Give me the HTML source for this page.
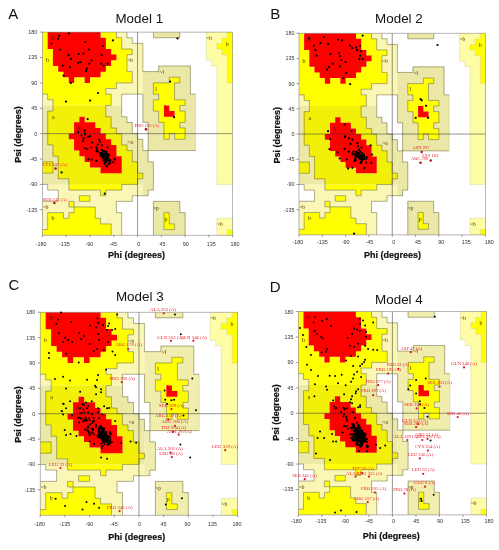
<!DOCTYPE html><html><head><meta charset="utf-8"><title>Ramachandran plots</title><style>html,body{margin:0;padding:0;background:#fff}svg{display:block}text{font-family:"Liberation Sans",sans-serif}.s text{font-family:"Liberation Serif",serif}</style></head><body>
<svg width="499" height="550" viewBox="0 0 499 550">
<rect width="499" height="550" fill="#fff"/>
<g>
<path d="M42.35 32.05H47.74V37.79H42.35ZM100.5 32.05H116.46V37.79H100.5ZM227.36 32.05H232.75V37.79H227.36ZM42.35 37.69H47.74V43.43H42.35ZM105.78 37.69H121.74V43.43H105.78ZM222.08 37.69H232.75V43.43H222.08ZM42.35 43.33H47.74V49.08H42.35ZM105.78 43.33H121.74V49.08H105.78ZM216.79 43.33H232.75V49.08H216.79ZM42.35 48.98H53.02V54.72H42.35ZM111.07 48.98H132.31V54.72H111.07ZM222.08 48.98H232.75V54.72H222.08ZM42.35 54.62H53.02V60.36H42.35ZM116.36 54.62H127.03V60.36H116.36ZM227.36 54.62H232.75V60.36H227.36ZM42.35 60.26H53.02V66H42.35ZM111.07 60.26H127.03V66H111.07ZM227.36 60.26H232.75V66H227.36ZM42.35 65.9H58.31V71.64H42.35ZM105.78 65.9H127.03V71.64H105.78ZM227.36 65.9H232.75V71.64H227.36ZM42.35 71.54H63.59V77.28H42.35ZM100.5 71.54H132.31V77.28H100.5ZM227.36 71.54H232.75V77.28H227.36ZM42.35 77.18H68.88V82.92H42.35ZM74.07 77.18H84.74V82.92H74.07ZM89.92 77.18H132.31V82.92H89.92ZM169.22 77.18H179.89V82.92H169.22ZM227.36 77.18H232.75V82.92H227.36ZM42.35 82.83H116.46V88.57H42.35ZM153.36 82.83H174.6V88.57H153.36ZM42.35 88.47H105.88V94.21H42.35ZM153.36 88.47H174.6V94.21H153.36ZM47.64 94.11H111.17V99.85H47.64ZM158.64 94.11H174.6V99.85H158.64ZM52.92 99.75H111.17V105.49H52.92ZM153.36 99.75H185.18V105.49H153.36ZM153.36 105.39H164.03V111.13H153.36ZM169.22 105.39H179.89V111.13H169.22ZM158.64 111.03H164.03V116.77H158.64ZM174.5 111.03H185.18V116.77H174.5ZM158.64 116.67H185.18V122.42H158.64ZM163.93 122.32H179.89V128.06H163.93ZM163.93 127.96H185.18V133.7H163.93ZM163.93 133.6H169.32V139.34H163.93ZM174.5 133.6H185.18V139.34H174.5ZM68.78 184.37H121.74V190.12H68.78ZM100.5 190.02H105.88V195.76H100.5ZM79.35 195.66H90.02V201.4H79.35ZM68.78 201.3H74.17V207.04H68.78ZM74.07 206.94H95.31V212.68H74.07ZM47.64 212.58H63.59V218.33H47.64ZM68.78 212.58H95.31V218.33H68.78ZM163.93 212.58H169.32V218.33H163.93ZM47.64 218.22H100.6V223.97H47.64ZM163.93 218.22H169.32V223.97H163.93ZM47.64 223.87H111.17V229.61H47.64ZM163.93 223.87H174.6V229.61H163.93ZM42.35 229.51H111.17V235.25H42.35ZM227.36 229.51H232.75V235.25H227.36Z" fill="#ffff00"/>
<path d="M116.36 32.05H127.03V37.79H116.36ZM121.64 37.69H132.31V43.43H121.64ZM121.64 43.33H142.89V49.08H121.64ZM132.21 48.98H142.89V54.72H132.21ZM126.93 54.62H142.89V60.36H126.93ZM126.93 60.26H142.89V66H126.93ZM126.93 65.9H142.89V71.64H126.93ZM132.21 71.54H142.89V77.28H132.21ZM132.21 77.18H142.89V82.92H132.21ZM116.36 82.83H142.89V88.57H116.36ZM105.78 88.47H142.89V94.21H105.78ZM42.35 94.11H47.74V99.85H42.35ZM111.07 94.11H121.74V99.85H111.07ZM42.35 99.75H53.02V105.49H42.35ZM111.07 99.75H121.74V105.49H111.07ZM47.64 184.37H68.88V190.12H47.64ZM121.64 184.37H142.89V190.12H121.64ZM58.21 190.02H100.6V195.76H58.21ZM105.78 190.02H142.89V195.76H105.78ZM58.21 195.66H79.45V201.4H58.21ZM89.92 195.66H132.31V201.4H89.92ZM42.35 201.3H68.88V207.04H42.35ZM74.07 201.3H116.46V207.04H74.07ZM42.35 206.94H74.17V212.68H42.35ZM95.21 206.94H116.46V212.68H95.21ZM42.35 212.58H47.74V218.33H42.35ZM63.49 212.58H68.88V218.33H63.49ZM95.21 212.58H121.74V218.33H95.21ZM42.35 218.22H47.74V223.97H42.35ZM100.5 218.22H121.74V223.97H100.5ZM42.35 223.87H47.74V229.61H42.35ZM111.07 223.87H121.74V229.61H111.07ZM111.07 229.51H121.74V235.25H111.07Z" fill="#faf7b6"/>
<path d="M153.36 32.05H179.89V37.79H153.36ZM158.64 65.9H190.46V71.64H158.64ZM142.79 71.54H190.46V77.28H142.79ZM142.79 77.18H169.32V82.92H142.79ZM179.79 77.18H190.46V82.92H179.79ZM142.79 82.83H153.46V88.57H142.79ZM174.5 82.83H190.46V88.57H174.5ZM142.79 88.47H153.46V94.21H142.79ZM174.5 88.47H190.46V94.21H174.5ZM142.79 94.11H158.74V99.85H142.79ZM174.5 94.11H195.75V99.85H174.5ZM142.79 99.75H153.46V105.49H142.79ZM185.07 99.75H195.75V105.49H185.07ZM142.79 105.39H153.46V111.13H142.79ZM179.79 105.39H195.75V111.13H179.79ZM142.79 111.03H158.74V116.77H142.79ZM185.07 111.03H195.75V116.77H185.07ZM142.79 116.67H158.74V122.42H142.79ZM185.07 116.67H195.75V122.42H185.07ZM148.07 122.32H164.03V128.06H148.07ZM179.79 122.32H195.75V128.06H179.79ZM148.07 127.96H164.03V133.7H148.07ZM185.07 127.96H195.75V133.7H185.07ZM148.07 133.6H164.03V139.34H148.07ZM169.22 133.6H174.6V139.34H169.22ZM185.07 133.6H195.75V139.34H185.07ZM148.07 139.24H195.75V144.98H148.07ZM148.07 144.88H195.75V150.62H148.07ZM142.79 150.52H148.17V156.27H142.79ZM142.79 156.17H148.17V161.91H142.79ZM142.79 161.81H153.46V167.55H142.79ZM142.79 167.45H153.46V173.19H142.79ZM142.79 173.09H153.46V178.83H142.79ZM142.79 178.73H153.46V184.47H142.79ZM142.79 184.37H153.46V190.12H142.79ZM142.79 190.02H148.17V195.76H142.79ZM153.36 201.3H179.89V207.04H153.36ZM153.36 206.94H179.89V212.68H153.36ZM153.36 212.58H164.03V218.33H153.36ZM169.22 212.58H185.18V218.33H169.22ZM153.36 218.22H164.03V223.97H153.36ZM169.22 218.22H185.18V223.97H169.22ZM153.36 223.87H164.03V229.61H153.36ZM174.5 223.87H185.18V229.61H174.5ZM153.36 229.51H185.18V235.25H153.36Z" fill="#ebe7a7"/>
<path d="M206.22 32.05H227.46V37.79H206.22ZM206.22 37.69H222.18V43.43H206.22ZM206.22 43.33H216.89V49.08H206.22ZM206.22 48.98H222.18V54.72H206.22ZM206.22 54.62H227.46V60.36H206.22ZM211.51 60.26H227.46V66H211.51ZM216.79 65.9H227.46V71.64H216.79ZM216.79 71.54H227.46V77.28H216.79ZM216.79 77.18H227.46V82.92H216.79ZM216.79 82.83H232.75V88.57H216.79ZM216.79 88.47H232.75V94.21H216.79ZM216.79 94.11H232.75V99.85H216.79ZM216.79 99.75H232.75V105.49H216.79ZM216.79 105.39H232.75V111.13H216.79ZM216.79 111.03H232.75V116.77H216.79ZM216.79 116.67H232.75V122.42H216.79ZM216.79 122.32H232.75V128.06H216.79ZM216.79 127.96H232.75V133.7H216.79ZM216.79 133.6H232.75V139.34H216.79ZM216.79 139.24H232.75V144.98H216.79ZM216.79 144.88H232.75V150.62H216.79ZM216.79 150.52H232.75V156.27H216.79ZM216.79 156.17H232.75V161.91H216.79ZM216.79 161.81H232.75V167.55H216.79ZM216.79 167.45H232.75V173.19H216.79ZM216.79 173.09H232.75V178.83H216.79ZM216.79 178.73H232.75V184.47H216.79ZM216.79 218.22H232.75V223.97H216.79ZM216.79 223.87H232.75V229.61H216.79ZM216.79 229.51H227.46V235.25H216.79Z" fill="#fefda6"/>
<path d="M42.35 105.39H53.02V111.13H42.35ZM105.78 105.39H121.74V111.13H105.78ZM42.35 111.03H47.74V116.77H42.35ZM105.78 111.03H121.74V116.77H105.78ZM42.35 116.67H47.74V122.42H42.35ZM111.07 116.67H127.03V122.42H111.07ZM42.35 122.32H47.74V128.06H42.35ZM111.07 122.32H132.31V128.06H111.07ZM42.35 127.96H47.74V133.7H42.35ZM116.36 127.96H132.31V133.7H116.36ZM42.35 133.6H47.74V139.34H42.35ZM121.64 133.6H137.6V139.34H121.64ZM42.35 139.24H47.74V144.98H42.35ZM121.64 139.24H142.89V144.98H121.64ZM42.35 144.88H53.02V150.62H42.35ZM126.93 144.88H142.89V150.62H126.93ZM42.35 150.52H53.02V156.27H42.35ZM132.21 150.52H142.89V156.27H132.21ZM42.35 156.17H58.31V161.91H42.35ZM132.21 156.17H142.89V161.91H132.21ZM52.92 161.81H58.31V167.55H52.92ZM137.5 161.81H142.89V167.55H137.5ZM52.92 167.45H58.31V173.19H52.92ZM137.5 167.45H142.89V173.19H137.5ZM42.35 173.09H58.31V178.83H42.35ZM42.35 178.73H68.88V184.47H42.35ZM137.5 178.73H142.89V184.47H137.5Z" fill="#ece8a6"/>
<path d="M52.92 105.39H105.88V111.13H52.92ZM47.64 111.03H105.88V116.77H47.64ZM47.64 116.67H79.45V122.42H47.64ZM84.64 116.67H111.17V122.42H84.64ZM47.64 122.32H74.17V128.06H47.64ZM95.21 122.32H111.17V128.06H95.21ZM47.64 127.96H74.17V133.7H47.64ZM100.5 127.96H116.46V133.7H100.5ZM47.64 133.6H68.88V139.34H47.64ZM105.78 133.6H121.74V139.34H105.78ZM47.64 139.24H74.17V144.98H47.64ZM111.07 139.24H121.74V144.98H111.07ZM52.92 144.88H74.17V150.62H52.92ZM116.36 144.88H127.03V150.62H116.36ZM52.92 150.52H79.45V156.27H52.92ZM116.36 150.52H132.31V156.27H116.36ZM58.21 156.17H84.74V161.91H58.21ZM121.64 156.17H132.31V161.91H121.64ZM42.35 161.81H53.02V167.55H42.35ZM58.21 161.81H90.02V167.55H58.21ZM121.64 161.81H137.6V167.55H121.64ZM42.35 167.45H53.02V173.19H42.35ZM58.21 167.45H100.6V173.19H58.21ZM121.64 167.45H137.6V173.19H121.64ZM58.21 173.09H142.89V178.83H58.21ZM68.78 178.73H137.6V184.47H68.78Z" fill="#f2ef08"/>
<path d="M47.64 32.05H100.6V37.79H47.64ZM47.64 37.69H105.88V43.43H47.64ZM47.64 43.33H105.88V49.08H47.64ZM52.92 48.98H111.17V54.72H52.92ZM52.92 54.62H116.46V60.36H52.92ZM52.92 60.26H111.17V66H52.92ZM58.21 65.9H105.88V71.64H58.21ZM63.49 71.54H100.6V77.28H63.49ZM68.78 77.18H74.17V82.92H68.78ZM84.64 77.18H90.02V82.92H84.64ZM163.93 105.39H169.32V111.13H163.93ZM163.93 111.03H174.6V116.77H163.93ZM79.35 116.67H84.74V122.42H79.35ZM74.07 122.32H95.31V128.06H74.07ZM74.07 127.96H100.6V133.7H74.07ZM68.78 133.6H105.88V139.34H68.78ZM74.07 139.24H111.17V144.98H74.07ZM74.07 144.88H116.46V150.62H74.07ZM79.35 150.52H116.46V156.27H79.35ZM84.64 156.17H121.74V161.91H84.64ZM89.92 161.81H121.74V167.55H89.92ZM100.5 167.45H121.74V173.19H100.5Z" fill="#fd0000"/>
<path d="M116.41 32.1V37.74M116.41 37.74H121.69M126.98 32.1V37.74M126.98 37.74H132.26M153.41 32.1V37.74M153.41 37.74H158.69M158.69 37.74H163.98M163.98 37.74H169.27M169.27 37.74H174.55M179.84 32.1V37.74M174.55 37.74H179.84M121.69 37.74V43.38M132.26 37.74V43.38M132.26 43.38H137.55M137.55 43.38H142.84M121.69 43.38V49.03M121.69 49.03H126.98M126.98 49.03H132.26M142.84 43.38V49.03M132.26 49.03V54.67M126.98 54.67H132.26M142.84 49.03V54.67M126.98 54.67V60.31M142.84 54.67V60.31M126.98 60.31V65.95M142.84 60.31V65.95M158.69 65.95H163.98M163.98 65.95H169.27M169.27 65.95H174.55M174.55 65.95H179.84M179.84 65.95H185.12M185.12 65.95H190.41M126.98 65.95V71.59M126.98 71.59H132.26M142.84 65.95V71.59M142.84 71.59H148.12M148.12 71.59H153.41M158.69 65.95V71.59M153.41 71.59H158.69M190.41 65.95V71.59M132.26 71.59V77.23M169.27 77.23H174.55M174.55 77.23H179.84M190.41 71.59V77.23M116.41 82.88H121.69M121.69 82.88H126.98M132.26 77.23V82.88M126.98 82.88H132.26M153.41 82.88H158.69M158.69 82.88H163.98M169.27 77.23V82.88M163.98 82.88H169.27M179.84 77.23V82.88M174.55 82.88H179.84M190.41 77.23V82.88M105.83 88.52H111.12M116.41 82.88V88.52M111.12 88.52H116.41M153.41 82.88V88.52M174.55 82.88V88.52M190.41 82.88V88.52M42.4 94.16H47.69M105.83 88.52V94.16M105.83 94.16H111.12M121.69 94.16H126.98M126.98 94.16H132.26M132.26 94.16H137.55M137.55 94.16H142.84M153.41 88.52V94.16M153.41 94.16H158.69M174.55 88.52V94.16M190.41 88.52V94.16M190.41 94.16H195.7M47.69 94.16V99.8M47.69 99.8H52.97M111.12 94.16V99.8M121.69 94.16V99.8M142.84 94.16V99.8M158.69 94.16V99.8M153.41 99.8H158.69M174.55 94.16V99.8M174.55 99.8H179.84M179.84 99.8H185.12M52.97 99.8V105.44M111.12 99.8V105.44M105.83 105.44H111.12M121.69 99.8V105.44M142.84 99.8V105.44M153.41 99.8V105.44M185.12 99.8V105.44M179.84 105.44H185.12M52.97 105.44V111.08M47.69 111.08H52.97M105.83 105.44V111.08M121.69 105.44V111.08M142.84 105.44V111.08M153.41 105.44V111.08M153.41 111.08H158.69M179.84 105.44V111.08M179.84 111.08H185.12M47.69 111.08V116.72M105.83 111.08V116.72M105.83 116.72H111.12M121.69 111.08V116.72M121.69 116.72H126.98M142.84 111.08V116.72M158.69 111.08V116.72M185.12 111.08V116.72M47.69 116.72V122.37M111.12 116.72V122.37M126.98 116.72V122.37M126.98 122.37H132.26M142.84 116.72V122.37M142.84 122.37H148.12M158.69 116.72V122.37M158.69 122.37H163.98M185.12 116.72V122.37M179.84 122.37H185.12M47.69 122.37V128.01M111.12 122.37V128.01M111.12 128.01H116.41M132.26 122.37V128.01M148.12 122.37V128.01M163.98 122.37V128.01M179.84 122.37V128.01M179.84 128.01H185.12M47.69 128.01V133.65M116.41 128.01V133.65M116.41 133.65H121.69M132.26 128.01V133.65M132.26 133.65H137.55M148.12 128.01V133.65M163.98 128.01V133.65M169.27 133.65H174.55M185.12 128.01V133.65M47.69 133.65V139.29M121.69 133.65V139.29M137.55 133.65V139.29M137.55 139.29H142.84M148.12 133.65V139.29M163.98 133.65V139.29M169.27 133.65V139.29M163.98 139.29H169.27M174.55 133.65V139.29M174.55 139.29H179.84M185.12 133.65V139.29M179.84 139.29H185.12M47.69 139.29V144.93M47.69 144.93H52.97M121.69 139.29V144.93M121.69 144.93H126.98M142.84 139.29V144.93M148.12 139.29V144.93M52.97 144.93V150.57M126.98 144.93V150.57M126.98 150.57H132.26M142.84 144.93V150.57M148.12 144.93V150.57M142.84 150.57H148.12M148.12 150.57H153.41M153.41 150.57H158.69M158.69 150.57H163.98M163.98 150.57H169.27M169.27 150.57H174.55M174.55 150.57H179.84M179.84 150.57H185.12M185.12 150.57H190.41M190.41 150.57H195.7M52.97 150.57V156.22M52.97 156.22H58.26M132.26 150.57V156.22M148.12 150.57V156.22M42.4 161.86H47.69M47.69 161.86H52.97M58.26 156.22V161.86M132.26 156.22V161.86M132.26 161.86H137.55M148.12 156.22V161.86M148.12 161.86H153.41M52.97 161.86V167.5M58.26 161.86V167.5M137.55 161.86V167.5M153.41 161.86V167.5M42.4 173.14H47.69M52.97 167.5V173.14M47.69 173.14H52.97M58.26 167.5V173.14M137.55 167.5V173.14M137.55 173.14H142.84M153.41 167.5V173.14M58.26 173.14V178.78M58.26 178.78H63.54M63.54 178.78H68.83M142.84 173.14V178.78M137.55 178.78H142.84M153.41 173.14V178.78M42.4 184.42H47.69M68.83 178.78V184.42M121.69 184.42H126.98M126.98 184.42H132.26M137.55 178.78V184.42M132.26 184.42H137.55M153.41 178.78V184.42M47.69 184.42V190.07M47.69 190.07H52.97M52.97 190.07H58.26M68.83 184.42V190.07M68.83 190.07H74.12M74.12 190.07H79.4M79.4 190.07H84.69M84.69 190.07H89.97M89.97 190.07H95.26M95.26 190.07H100.55M105.83 190.07H111.12M111.12 190.07H116.41M121.69 184.42V190.07M116.41 190.07H121.69M153.41 184.42V190.07M148.12 190.07H153.41M58.26 190.07V195.71M79.4 195.71H84.69M84.69 195.71H89.97M100.55 190.07V195.71M105.83 190.07V195.71M100.55 195.71H105.83M132.26 195.71H137.55M137.55 195.71H142.84M148.12 190.07V195.71M142.84 195.71H148.12M42.4 201.35H47.69M47.69 201.35H52.97M58.26 195.71V201.35M52.97 201.35H58.26M68.83 201.35H74.12M79.4 195.71V201.35M79.4 201.35H84.69M89.97 195.71V201.35M84.69 201.35H89.97M116.41 201.35H121.69M121.69 201.35H126.98M132.26 195.71V201.35M126.98 201.35H132.26M153.41 201.35H158.69M158.69 201.35H163.98M163.98 201.35H169.27M169.27 201.35H174.55M174.55 201.35H179.84M68.83 201.35V206.99M74.12 201.35V206.99M68.83 206.99H74.12M74.12 206.99H79.4M79.4 206.99H84.69M84.69 206.99H89.97M89.97 206.99H95.26M116.41 201.35V206.99M153.41 201.35V206.99M179.84 201.35V206.99M47.69 212.63H52.97M52.97 212.63H58.26M58.26 212.63H63.54M74.12 206.99V212.63M68.83 212.63H74.12M95.26 206.99V212.63M116.41 206.99V212.63M116.41 212.63H121.69M153.41 206.99V212.63M163.98 212.63H169.27M179.84 206.99V212.63M179.84 212.63H185.12M47.69 212.63V218.28M63.54 212.63V218.28M68.83 212.63V218.28M63.54 218.28H68.83M95.26 212.63V218.28M95.26 218.28H100.55M121.69 212.63V218.28M153.41 212.63V218.28M163.98 212.63V218.28M169.27 212.63V218.28M185.12 212.63V218.28M47.69 218.28V223.92M100.55 218.28V223.92M100.55 223.92H105.83M105.83 223.92H111.12M121.69 218.28V223.92M153.41 218.28V223.92M163.98 218.28V223.92M169.27 218.28V223.92M169.27 223.92H174.55M185.12 218.28V223.92M47.69 223.92V229.56M42.4 229.56H47.69M111.12 223.92V229.56M121.69 223.92V229.56M153.41 223.92V229.56M163.98 223.92V229.56M163.98 229.56H169.27M174.55 223.92V229.56M169.27 229.56H174.55M185.12 223.92V229.56M111.12 229.56V235.2M121.69 229.56V235.2M153.41 229.56V235.2M185.12 229.56V235.2" stroke="rgba(70,65,20,0.7)" stroke-width="0.6" fill="none"/>
<path d="M206.27 32.1V37.74M227.41 32.1V37.74M222.13 37.74H227.41M206.27 37.74V43.38M222.13 37.74V43.38M216.84 43.38H222.13M206.27 43.38V49.03M216.84 43.38V49.03M216.84 49.03H222.13M206.27 49.03V54.67M222.13 49.03V54.67M222.13 54.67H227.41M206.27 54.67V60.31M206.27 60.31H211.56M227.41 54.67V60.31M211.56 60.31V65.95M211.56 65.95H216.84M227.41 60.31V65.95M216.84 65.95V71.59M227.41 65.95V71.59M216.84 71.59V77.23M227.41 71.59V77.23M216.84 77.23V82.88M227.41 77.23V82.88M227.41 82.88H232.7M216.84 82.88V88.52M216.84 88.52V94.16M195.7 94.16V99.8M216.84 94.16V99.8M195.7 99.8V105.44M216.84 99.8V105.44M195.7 105.44V111.08M216.84 105.44V111.08M195.7 111.08V116.72M216.84 111.08V116.72M195.7 116.72V122.37M216.84 116.72V122.37M195.7 122.37V128.01M216.84 122.37V128.01M195.7 128.01V133.65M216.84 128.01V133.65M195.7 133.65V139.29M216.84 133.65V139.29M195.7 139.29V144.93M216.84 139.29V144.93M195.7 144.93V150.57M216.84 144.93V150.57M216.84 150.57V156.22M216.84 156.22V161.86M216.84 161.86V167.5M216.84 167.5V173.14M216.84 173.14V178.78M216.84 178.78V184.42M216.84 184.42H222.13M222.13 184.42H227.41M227.41 184.42H232.7M216.84 218.28H222.13M222.13 218.28H227.41M227.41 218.28H232.7M216.84 218.28V223.92M216.84 223.92V229.56M227.41 229.56H232.7M216.84 229.56V235.2M227.41 229.56V235.2" stroke="rgba(70,65,20,0.18)" stroke-width="0.6" fill="none"/>
<path d="M137.55 32.1V235.2M42.4 133.65H232.7" stroke="#333" stroke-opacity="0.75" stroke-width="0.7" fill="none"/>
<rect x="42.4" y="32.1" width="190.3" height="203.1" fill="none" stroke="#888" stroke-width="0.6"/>
<path d="M42.4 235.2v2M66.19 235.2v2M42.4 209.81h-2.5M89.97 235.2v2M42.4 184.42h-2.5M113.76 235.2v2M42.4 159.04h-2.5M137.55 235.2v2M42.4 133.65h-2.5M161.34 235.2v2M42.4 108.26h-2.5M185.12 235.2v2M42.4 82.88h-2.5M208.91 235.2v2M42.4 57.49h-2.5M232.7 235.2v2M42.4 32.1h-2.5" stroke="#555" stroke-width="0.6" fill="none"/>
<g font-size="5.4" fill="#333">
<text x="41" y="245.7" text-anchor="middle">-180</text>
<text x="64.49" y="245.7" text-anchor="middle">-135</text>
<text x="37.3" y="211.76" text-anchor="end">-135</text>
<text x="89.38" y="245.7" text-anchor="middle">-90</text>
<text x="37.3" y="186.37" text-anchor="end">-90</text>
<text x="113.16" y="245.7" text-anchor="middle">-45</text>
<text x="37.3" y="160.99" text-anchor="end">-45</text>
<text x="138.65" y="245.7" text-anchor="middle">0</text>
<text x="37.3" y="135.6" text-anchor="end">0</text>
<text x="162.54" y="245.7" text-anchor="middle">45</text>
<text x="37.3" y="110.21" text-anchor="end">45</text>
<text x="185.82" y="245.7" text-anchor="middle">90</text>
<text x="37.3" y="84.83" text-anchor="end">90</text>
<text x="211.31" y="245.7" text-anchor="middle">135</text>
<text x="37.3" y="59.44" text-anchor="end">135</text>
<text x="235.1" y="245.7" text-anchor="middle">180</text>
<text x="37.3" y="34.05" text-anchor="end">180</text>
</g>
<text x="136.4" y="258.1" font-size="9" font-weight="bold" text-anchor="middle" fill="#111" stroke="#111" stroke-width="0.2">Phi (degrees)</text>
<text transform="translate(21 134.6) rotate(-90)" font-size="9" font-weight="bold" text-anchor="middle" fill="#111" stroke="#111" stroke-width="0.25">Psi (degrees)</text>
<text x="139.3" y="23.4" font-size="13.4" text-anchor="middle" fill="#111">Model 1</text>
<text x="8.3" y="19.3" font-size="15" fill="#111">A</text>
<g class="s" font-size="5.9" fill="#4a2a00">
<text x="52.71" y="39.69" text-anchor="middle">B</text>
<text x="47.58" y="62.08" text-anchor="middle">b</text>
<text x="53.4" y="119.12" text-anchor="middle">a</text>
<text x="78.82" y="130.12" text-anchor="middle">A</text>
<text x="130.2" y="144.39" text-anchor="middle" font-size="5.3">~a</text>
<text x="130.2" y="62.42" text-anchor="middle" font-size="5.3">~b</text>
<text x="52.97" y="220.39" text-anchor="middle">b</text>
<text x="45.68" y="209.22" text-anchor="middle" font-size="5.3">~b</text>
<text x="161.71" y="73.7" text-anchor="middle" font-size="5.3">~l</text>
<text x="156" y="90.69" text-anchor="middle">l</text>
<text x="166.09" y="109.19" text-anchor="middle">L</text>
<text x="156" y="209.78" text-anchor="middle" font-size="5.3">~p</text>
<text x="166.09" y="221.18" text-anchor="middle">p</text>
<text x="209.12" y="40.02" text-anchor="middle" font-size="5.3">~b</text>
<text x="227.2" y="45.61" text-anchor="middle">b</text>
<text x="219.8" y="225.8" text-anchor="middle" font-size="5.3">~b</text>
</g>
<path d="M67.78 33.5a1.12 1.12 0 1 0 2.24 0a1.12 1.12 0 1 0 -2.24 0zM58.08 35.9a1.12 1.12 0 1 0 2.24 0a1.12 1.12 0 1 0 -2.24 0zM56.88 38.8a1.12 1.12 0 1 0 2.24 0a1.12 1.12 0 1 0 -2.24 0zM50.48 43.6a1.12 1.12 0 1 0 2.24 0a1.12 1.12 0 1 0 -2.24 0zM84.18 42a1.12 1.12 0 1 0 2.24 0a1.12 1.12 0 1 0 -2.24 0zM111.78 40.4a1.12 1.12 0 1 0 2.24 0a1.12 1.12 0 1 0 -2.24 0zM101.78 46a1.12 1.12 0 1 0 2.24 0a1.12 1.12 0 1 0 -2.24 0zM58.88 49.6a1.12 1.12 0 1 0 2.24 0a1.12 1.12 0 1 0 -2.24 0zM87.88 49.6a1.12 1.12 0 1 0 2.24 0a1.12 1.12 0 1 0 -2.24 0zM67.38 55.2a1.12 1.12 0 1 0 2.24 0a1.12 1.12 0 1 0 -2.24 0zM77.48 54a1.12 1.12 0 1 0 2.24 0a1.12 1.12 0 1 0 -2.24 0zM82.28 53.6a1.12 1.12 0 1 0 2.24 0a1.12 1.12 0 1 0 -2.24 0zM100.68 54.9a1.12 1.12 0 1 0 2.24 0a1.12 1.12 0 1 0 -2.24 0zM69.78 58.9a1.12 1.12 0 1 0 2.24 0a1.12 1.12 0 1 0 -2.24 0zM90.58 60.5a1.12 1.12 0 1 0 2.24 0a1.12 1.12 0 1 0 -2.24 0zM76.98 62.9a1.12 1.12 0 1 0 2.24 0a1.12 1.12 0 1 0 -2.24 0zM79.38 62.1a1.12 1.12 0 1 0 2.24 0a1.12 1.12 0 1 0 -2.24 0zM88.18 63.7a1.12 1.12 0 1 0 2.24 0a1.12 1.12 0 1 0 -2.24 0zM61.68 65.6a1.12 1.12 0 1 0 2.24 0a1.12 1.12 0 1 0 -2.24 0zM100.18 63.7a1.12 1.12 0 1 0 2.24 0a1.12 1.12 0 1 0 -2.24 0zM102.58 65.6a1.12 1.12 0 1 0 2.24 0a1.12 1.12 0 1 0 -2.24 0zM106.58 63.7a1.12 1.12 0 1 0 2.24 0a1.12 1.12 0 1 0 -2.24 0zM68.98 67.2a1.12 1.12 0 1 0 2.24 0a1.12 1.12 0 1 0 -2.24 0zM85.78 68.5a1.12 1.12 0 1 0 2.24 0a1.12 1.12 0 1 0 -2.24 0zM84.98 70.9a1.12 1.12 0 1 0 2.24 0a1.12 1.12 0 1 0 -2.24 0zM62.48 75.7a1.12 1.12 0 1 0 2.24 0a1.12 1.12 0 1 0 -2.24 0zM69.78 82.9a1.12 1.12 0 1 0 2.24 0a1.12 1.12 0 1 0 -2.24 0zM96.98 93a1.12 1.12 0 1 0 2.24 0a1.12 1.12 0 1 0 -2.24 0zM64.88 101.6a1.12 1.12 0 1 0 2.24 0a1.12 1.12 0 1 0 -2.24 0zM88.98 100.6a1.12 1.12 0 1 0 2.24 0a1.12 1.12 0 1 0 -2.24 0zM86.58 119.1a1.12 1.12 0 1 0 2.24 0a1.12 1.12 0 1 0 -2.24 0zM83.58 130.7a1.12 1.12 0 1 0 2.24 0a1.12 1.12 0 1 0 -2.24 0zM76.98 132.1a1.12 1.12 0 1 0 2.24 0a1.12 1.12 0 1 0 -2.24 0zM83.98 133.7a1.12 1.12 0 1 0 2.24 0a1.12 1.12 0 1 0 -2.24 0zM80.48 135.5a1.12 1.12 0 1 0 2.24 0a1.12 1.12 0 1 0 -2.24 0zM83.98 134.5a1.12 1.12 0 1 0 2.24 0a1.12 1.12 0 1 0 -2.24 0zM86.78 136.9a1.12 1.12 0 1 0 2.24 0a1.12 1.12 0 1 0 -2.24 0zM82.58 138.3a1.12 1.12 0 1 0 2.24 0a1.12 1.12 0 1 0 -2.24 0zM88.88 136.2a1.12 1.12 0 1 0 2.24 0a1.12 1.12 0 1 0 -2.24 0zM81.88 141.1a1.12 1.12 0 1 0 2.24 0a1.12 1.12 0 1 0 -2.24 0zM91.08 142.5a1.12 1.12 0 1 0 2.24 0a1.12 1.12 0 1 0 -2.24 0zM98.08 139.7a1.12 1.12 0 1 0 2.24 0a1.12 1.12 0 1 0 -2.24 0zM98.78 141.8a1.12 1.12 0 1 0 2.24 0a1.12 1.12 0 1 0 -2.24 0zM96.68 144.6a1.12 1.12 0 1 0 2.24 0a1.12 1.12 0 1 0 -2.24 0zM100.88 145.3a1.12 1.12 0 1 0 2.24 0a1.12 1.12 0 1 0 -2.24 0zM83.98 148.2a1.12 1.12 0 1 0 2.24 0a1.12 1.12 0 1 0 -2.24 0zM86.08 149.1a1.12 1.12 0 1 0 2.24 0a1.12 1.12 0 1 0 -2.24 0zM90.38 147.5a1.12 1.12 0 1 0 2.24 0a1.12 1.12 0 1 0 -2.24 0zM95.28 147.5a1.12 1.12 0 1 0 2.24 0a1.12 1.12 0 1 0 -2.24 0zM95.98 149.6a1.12 1.12 0 1 0 2.24 0a1.12 1.12 0 1 0 -2.24 0zM106.48 147.5a1.12 1.12 0 1 0 2.24 0a1.12 1.12 0 1 0 -2.24 0zM87.48 159.4a1.12 1.12 0 1 0 2.24 0a1.12 1.12 0 1 0 -2.24 0zM90.58 159.8a1.12 1.12 0 1 0 2.24 0a1.12 1.12 0 1 0 -2.24 0zM95.28 160.8a1.12 1.12 0 1 0 2.24 0a1.12 1.12 0 1 0 -2.24 0zM113.48 159.4a1.12 1.12 0 1 0 2.24 0a1.12 1.12 0 1 0 -2.24 0zM112.08 162.2a1.12 1.12 0 1 0 2.24 0a1.12 1.12 0 1 0 -2.24 0zM105.78 166.4a1.12 1.12 0 1 0 2.24 0a1.12 1.12 0 1 0 -2.24 0zM60.48 172.4a1.12 1.12 0 1 0 2.24 0a1.12 1.12 0 1 0 -2.24 0zM103.58 193.7a1.12 1.12 0 1 0 2.24 0a1.12 1.12 0 1 0 -2.24 0zM176.38 38.4a1.12 1.12 0 1 0 2.24 0a1.12 1.12 0 1 0 -2.24 0zM168.98 81.5a1.12 1.12 0 1 0 2.24 0a1.12 1.12 0 1 0 -2.24 0zM172.98 117.2a1.12 1.12 0 1 0 2.24 0a1.12 1.12 0 1 0 -2.24 0z" fill="#000"/>
<path d="M107.42 164.21a1.12 1.12 0 1 0 2.24 0a1.12 1.12 0 1 0 -2.24 0zM103.87 154.35a1.12 1.12 0 1 0 2.24 0a1.12 1.12 0 1 0 -2.24 0zM100.51 154.78a1.12 1.12 0 1 0 2.24 0a1.12 1.12 0 1 0 -2.24 0zM100.72 149.95a1.12 1.12 0 1 0 2.24 0a1.12 1.12 0 1 0 -2.24 0zM104.26 157.64a1.12 1.12 0 1 0 2.24 0a1.12 1.12 0 1 0 -2.24 0zM105.26 154.78a1.12 1.12 0 1 0 2.24 0a1.12 1.12 0 1 0 -2.24 0zM103.69 156.59a1.12 1.12 0 1 0 2.24 0a1.12 1.12 0 1 0 -2.24 0zM99.31 155.68a1.12 1.12 0 1 0 2.24 0a1.12 1.12 0 1 0 -2.24 0zM104.61 165.49a1.12 1.12 0 1 0 2.24 0a1.12 1.12 0 1 0 -2.24 0zM104.27 156.71a1.12 1.12 0 1 0 2.24 0a1.12 1.12 0 1 0 -2.24 0zM107.25 159.88a1.12 1.12 0 1 0 2.24 0a1.12 1.12 0 1 0 -2.24 0zM106.32 157.34a1.12 1.12 0 1 0 2.24 0a1.12 1.12 0 1 0 -2.24 0zM104.31 160.68a1.12 1.12 0 1 0 2.24 0a1.12 1.12 0 1 0 -2.24 0zM105.7 158.59a1.12 1.12 0 1 0 2.24 0a1.12 1.12 0 1 0 -2.24 0zM100.54 156.19a1.12 1.12 0 1 0 2.24 0a1.12 1.12 0 1 0 -2.24 0zM103.9 159.38a1.12 1.12 0 1 0 2.24 0a1.12 1.12 0 1 0 -2.24 0zM104.31 160.9a1.12 1.12 0 1 0 2.24 0a1.12 1.12 0 1 0 -2.24 0zM103.53 157.38a1.12 1.12 0 1 0 2.24 0a1.12 1.12 0 1 0 -2.24 0zM105.61 154.43a1.12 1.12 0 1 0 2.24 0a1.12 1.12 0 1 0 -2.24 0zM102.52 154.33a1.12 1.12 0 1 0 2.24 0a1.12 1.12 0 1 0 -2.24 0zM109.42 160.35a1.12 1.12 0 1 0 2.24 0a1.12 1.12 0 1 0 -2.24 0zM105.57 160.16a1.12 1.12 0 1 0 2.24 0a1.12 1.12 0 1 0 -2.24 0zM102.87 151.01a1.12 1.12 0 1 0 2.24 0a1.12 1.12 0 1 0 -2.24 0zM106.48 157.31a1.12 1.12 0 1 0 2.24 0a1.12 1.12 0 1 0 -2.24 0zM105.76 153.79a1.12 1.12 0 1 0 2.24 0a1.12 1.12 0 1 0 -2.24 0zM102.41 160.19a1.12 1.12 0 1 0 2.24 0a1.12 1.12 0 1 0 -2.24 0zM107.83 155.19a1.12 1.12 0 1 0 2.24 0a1.12 1.12 0 1 0 -2.24 0zM99.81 154.05a1.12 1.12 0 1 0 2.24 0a1.12 1.12 0 1 0 -2.24 0zM105.79 158.76a1.12 1.12 0 1 0 2.24 0a1.12 1.12 0 1 0 -2.24 0zM104.56 154.05a1.12 1.12 0 1 0 2.24 0a1.12 1.12 0 1 0 -2.24 0zM105.38 161.72a1.12 1.12 0 1 0 2.24 0a1.12 1.12 0 1 0 -2.24 0zM102.42 151.11a1.12 1.12 0 1 0 2.24 0a1.12 1.12 0 1 0 -2.24 0zM101.48 157.89a1.12 1.12 0 1 0 2.24 0a1.12 1.12 0 1 0 -2.24 0zM98.65 153.11a1.12 1.12 0 1 0 2.24 0a1.12 1.12 0 1 0 -2.24 0zM100.81 154.42a1.12 1.12 0 1 0 2.24 0a1.12 1.12 0 1 0 -2.24 0zM102.97 156.38a1.12 1.12 0 1 0 2.24 0a1.12 1.12 0 1 0 -2.24 0zM108.03 161.15a1.12 1.12 0 1 0 2.24 0a1.12 1.12 0 1 0 -2.24 0zM107.55 158.92a1.12 1.12 0 1 0 2.24 0a1.12 1.12 0 1 0 -2.24 0zM102.29 157.14a1.12 1.12 0 1 0 2.24 0a1.12 1.12 0 1 0 -2.24 0zM95.46 151.14a1.12 1.12 0 1 0 2.24 0a1.12 1.12 0 1 0 -2.24 0zM104.14 152.94a1.12 1.12 0 1 0 2.24 0a1.12 1.12 0 1 0 -2.24 0zM105.03 155.82a1.12 1.12 0 1 0 2.24 0a1.12 1.12 0 1 0 -2.24 0zM96.55 151.28a1.12 1.12 0 1 0 2.24 0a1.12 1.12 0 1 0 -2.24 0zM100.84 153.13a1.12 1.12 0 1 0 2.24 0a1.12 1.12 0 1 0 -2.24 0zM103.24 160.73a1.12 1.12 0 1 0 2.24 0a1.12 1.12 0 1 0 -2.24 0zM103.98 156.9a1.12 1.12 0 1 0 2.24 0a1.12 1.12 0 1 0 -2.24 0zM104.81 151.44a1.12 1.12 0 1 0 2.24 0a1.12 1.12 0 1 0 -2.24 0zM107.28 155.58a1.12 1.12 0 1 0 2.24 0a1.12 1.12 0 1 0 -2.24 0zM104.95 153.85a1.12 1.12 0 1 0 2.24 0a1.12 1.12 0 1 0 -2.24 0zM100.85 153.56a1.12 1.12 0 1 0 2.24 0a1.12 1.12 0 1 0 -2.24 0zM109.18 162.85a1.12 1.12 0 1 0 2.24 0a1.12 1.12 0 1 0 -2.24 0zM101.93 154.66a1.12 1.12 0 1 0 2.24 0a1.12 1.12 0 1 0 -2.24 0zM100.34 154.44a1.12 1.12 0 1 0 2.24 0a1.12 1.12 0 1 0 -2.24 0zM102.02 158.12a1.12 1.12 0 1 0 2.24 0a1.12 1.12 0 1 0 -2.24 0zM99.74 153.02a1.12 1.12 0 1 0 2.24 0a1.12 1.12 0 1 0 -2.24 0zM101.24 152.73a1.12 1.12 0 1 0 2.24 0a1.12 1.12 0 1 0 -2.24 0zM105.74 158.61a1.12 1.12 0 1 0 2.24 0a1.12 1.12 0 1 0 -2.24 0zM105.38 161.96a1.12 1.12 0 1 0 2.24 0a1.12 1.12 0 1 0 -2.24 0zM107.01 154.41a1.12 1.12 0 1 0 2.24 0a1.12 1.12 0 1 0 -2.24 0zM105.24 151.9a1.12 1.12 0 1 0 2.24 0a1.12 1.12 0 1 0 -2.24 0zM103.49 163.16a1.12 1.12 0 1 0 2.24 0a1.12 1.12 0 1 0 -2.24 0zM103.12 155.18a1.12 1.12 0 1 0 2.24 0a1.12 1.12 0 1 0 -2.24 0z" fill="#000"/>
<g class="s" font-size="4.6" fill="#e8202a">
<circle cx="55.6" cy="168.4" r="1.25" fill="#a00c18"/>
<text x="54.8" y="166.4" text-anchor="middle">LYS 247 (A)</text>
<circle cx="54.4" cy="203.1" r="1.25" fill="#a00c18"/>
<text x="54.8" y="200.6" text-anchor="middle">SER 245 (A)</text>
<circle cx="146" cy="129.2" r="1.25" fill="#a00c18"/>
<text x="146.8" y="126.8" text-anchor="middle">PRO 195 (A)</text>
</g>
</g>
<g>
<path d="M298.95 33.15H304.23V38.85H298.95ZM355.94 33.15H371.58V38.85H355.94ZM480.27 33.15H485.55V38.85H480.27ZM298.95 38.75H304.23V44.46H298.95ZM361.12 38.75H376.76V44.46H361.12ZM475.09 38.75H485.55V44.46H475.09ZM298.95 44.36H304.23V50.06H298.95ZM361.12 44.36H376.76V50.06H361.12ZM469.91 44.36H485.55V50.06H469.91ZM298.95 49.96H309.41V55.66H298.95ZM366.3 49.96H387.12V55.66H366.3ZM475.09 49.96H485.55V55.66H475.09ZM298.95 55.56H309.41V61.26H298.95ZM371.48 55.56H381.94V61.26H371.48ZM480.27 55.56H485.55V61.26H480.27ZM298.95 61.16H309.41V66.87H298.95ZM366.3 61.16H381.94V66.87H366.3ZM480.27 61.16H485.55V66.87H480.27ZM298.95 66.77H314.59V72.47H298.95ZM361.12 66.77H381.94V72.47H361.12ZM480.27 66.77H485.55V72.47H480.27ZM298.95 72.37H319.77V78.07H298.95ZM355.94 72.37H387.12V78.07H355.94ZM480.27 72.37H485.55V78.07H480.27ZM298.95 77.97H324.95V83.67H298.95ZM330.03 77.97H340.49V83.67H330.03ZM345.57 77.97H387.12V83.67H345.57ZM423.28 77.97H433.74V83.67H423.28ZM480.27 77.97H485.55V83.67H480.27ZM298.95 83.58H371.58V89.28H298.95ZM407.74 83.58H428.56V89.28H407.74ZM298.95 89.18H361.22V94.88H298.95ZM407.74 89.18H428.56V94.88H407.74ZM304.13 94.78H366.4V100.48H304.13ZM412.92 94.78H428.56V100.48H412.92ZM309.31 100.38H366.4V106.09H309.31ZM407.74 100.38H438.93V106.09H407.74ZM407.74 105.99H418.2V111.69H407.74ZM423.28 105.99H433.74V111.69H423.28ZM412.92 111.59H418.2V117.29H412.92ZM428.46 111.59H438.93V117.29H428.46ZM412.92 117.19H438.93V122.89H412.92ZM418.1 122.79H433.74V128.5H418.1ZM418.1 128.4H438.93V134.1H418.1ZM418.1 134H423.38V139.7H418.1ZM428.46 134H438.93V139.7H428.46ZM324.85 184.43H376.76V190.13H324.85ZM355.94 190.03H361.22V195.73H355.94ZM335.21 195.63H345.68V201.33H335.21ZM324.85 201.23H330.13V206.94H324.85ZM330.03 206.84H350.86V212.54H330.03ZM304.13 212.44H319.77V218.14H304.13ZM324.85 212.44H350.86V218.14H324.85ZM418.1 212.44H423.38V218.14H418.1ZM304.13 218.04H356.04V223.74H304.13ZM418.1 218.04H423.38V223.74H418.1ZM304.13 223.64H366.4V229.35H304.13ZM418.1 223.64H428.56V229.35H418.1ZM298.95 229.25H366.4V234.95H298.95ZM480.27 229.25H485.55V234.95H480.27Z" fill="#ffff00"/>
<path d="M371.48 33.15H381.94V38.85H371.48ZM376.66 38.75H387.12V44.46H376.66ZM376.66 44.36H397.48V50.06H376.66ZM387.02 49.96H397.48V55.66H387.02ZM381.84 55.56H397.48V61.26H381.84ZM381.84 61.16H397.48V66.87H381.84ZM381.84 66.77H397.48V72.47H381.84ZM387.02 72.37H397.48V78.07H387.02ZM387.02 77.97H397.48V83.67H387.02ZM371.48 83.58H397.48V89.28H371.48ZM361.12 89.18H397.48V94.88H361.12ZM298.95 94.78H304.23V100.48H298.95ZM366.3 94.78H376.76V100.48H366.3ZM298.95 100.38H309.41V106.09H298.95ZM366.3 100.38H376.76V106.09H366.3ZM304.13 184.43H324.95V190.13H304.13ZM376.66 184.43H397.48V190.13H376.66ZM314.49 190.03H356.04V195.73H314.49ZM361.12 190.03H397.48V195.73H361.12ZM314.49 195.63H335.31V201.33H314.49ZM345.57 195.63H387.12V201.33H345.57ZM298.95 201.23H324.95V206.94H298.95ZM330.03 201.23H371.58V206.94H330.03ZM298.95 206.84H330.13V212.54H298.95ZM350.76 206.84H371.58V212.54H350.76ZM298.95 212.44H304.23V218.14H298.95ZM319.67 212.44H324.95V218.14H319.67ZM350.76 212.44H376.76V218.14H350.76ZM298.95 218.04H304.23V223.74H298.95ZM355.94 218.04H376.76V223.74H355.94ZM298.95 223.64H304.23V229.35H298.95ZM366.3 223.64H376.76V229.35H366.3ZM366.3 229.25H376.76V234.95H366.3Z" fill="#faf7b6"/>
<path d="M407.74 33.15H433.74V38.85H407.74ZM412.92 66.77H444.11V72.47H412.92ZM397.38 72.37H444.11V78.07H397.38ZM397.38 77.97H423.38V83.67H397.38ZM433.64 77.97H444.11V83.67H433.64ZM397.38 83.58H407.84V89.28H397.38ZM428.46 83.58H444.11V89.28H428.46ZM397.38 89.18H407.84V94.88H397.38ZM428.46 89.18H444.11V94.88H428.46ZM397.38 94.78H413.02V100.48H397.38ZM428.46 94.78H449.29V100.48H428.46ZM397.38 100.38H407.84V106.09H397.38ZM438.82 100.38H449.29V106.09H438.82ZM397.38 105.99H407.84V111.69H397.38ZM433.64 105.99H449.29V111.69H433.64ZM397.38 111.59H413.02V117.29H397.38ZM438.82 111.59H449.29V117.29H438.82ZM397.38 117.19H413.02V122.89H397.38ZM438.82 117.19H449.29V122.89H438.82ZM402.56 122.79H418.2V128.5H402.56ZM433.64 122.79H449.29V128.5H433.64ZM402.56 128.4H418.2V134.1H402.56ZM438.82 128.4H449.29V134.1H438.82ZM402.56 134H418.2V139.7H402.56ZM423.28 134H428.56V139.7H423.28ZM438.82 134H449.29V139.7H438.82ZM402.56 139.6H449.29V145.31H402.56ZM402.56 145.21H449.29V150.91H402.56ZM397.38 150.81H402.66V156.51H397.38ZM397.38 156.41H402.66V162.11H397.38ZM397.38 162.01H407.84V167.72H397.38ZM397.38 167.62H407.84V173.32H397.38ZM397.38 173.22H407.84V178.92H397.38ZM397.38 178.82H407.84V184.53H397.38ZM397.38 184.43H407.84V190.13H397.38ZM397.38 190.03H402.66V195.73H397.38ZM407.74 201.23H433.74V206.94H407.74ZM407.74 206.84H433.74V212.54H407.74ZM407.74 212.44H418.2V218.14H407.74ZM423.28 212.44H438.93V218.14H423.28ZM407.74 218.04H418.2V223.74H407.74ZM423.28 218.04H438.93V223.74H423.28ZM407.74 223.64H418.2V229.35H407.74ZM428.46 223.64H438.93V229.35H428.46ZM407.74 229.25H438.93V234.95H407.74Z" fill="#ebe7a7"/>
<path d="M459.55 33.15H480.37V38.85H459.55ZM459.55 38.75H475.19V44.46H459.55ZM459.55 44.36H470.01V50.06H459.55ZM459.55 49.96H475.19V55.66H459.55ZM459.55 55.56H480.37V61.26H459.55ZM464.73 61.16H480.37V66.87H464.73ZM469.91 66.77H480.37V72.47H469.91ZM469.91 72.37H480.37V78.07H469.91ZM469.91 77.97H480.37V83.67H469.91ZM469.91 83.58H485.55V89.28H469.91ZM469.91 89.18H485.55V94.88H469.91ZM469.91 94.78H485.55V100.48H469.91ZM469.91 100.38H485.55V106.09H469.91ZM469.91 105.99H485.55V111.69H469.91ZM469.91 111.59H485.55V117.29H469.91ZM469.91 117.19H485.55V122.89H469.91ZM469.91 122.79H485.55V128.5H469.91ZM469.91 128.4H485.55V134.1H469.91ZM469.91 134H485.55V139.7H469.91ZM469.91 139.6H485.55V145.31H469.91ZM469.91 145.21H485.55V150.91H469.91ZM469.91 150.81H485.55V156.51H469.91ZM469.91 156.41H485.55V162.11H469.91ZM469.91 162.01H485.55V167.72H469.91ZM469.91 167.62H485.55V173.32H469.91ZM469.91 173.22H485.55V178.92H469.91ZM469.91 178.82H485.55V184.53H469.91ZM469.91 218.04H485.55V223.74H469.91ZM469.91 223.64H485.55V229.35H469.91ZM469.91 229.25H480.37V234.95H469.91Z" fill="#fefda6"/>
<path d="M298.95 105.99H309.41V111.69H298.95ZM361.12 105.99H376.76V111.69H361.12ZM298.95 111.59H304.23V117.29H298.95ZM361.12 111.59H376.76V117.29H361.12ZM298.95 117.19H304.23V122.89H298.95ZM366.3 117.19H381.94V122.89H366.3ZM298.95 122.79H304.23V128.5H298.95ZM366.3 122.79H387.12V128.5H366.3ZM298.95 128.4H304.23V134.1H298.95ZM371.48 128.4H387.12V134.1H371.48ZM298.95 134H304.23V139.7H298.95ZM376.66 134H392.3V139.7H376.66ZM298.95 139.6H304.23V145.31H298.95ZM376.66 139.6H397.48V145.31H376.66ZM298.95 145.21H309.41V150.91H298.95ZM381.84 145.21H397.48V150.91H381.84ZM298.95 150.81H309.41V156.51H298.95ZM387.02 150.81H397.48V156.51H387.02ZM298.95 156.41H314.59V162.11H298.95ZM387.02 156.41H397.48V162.11H387.02ZM309.31 162.01H314.59V167.72H309.31ZM392.2 162.01H397.48V167.72H392.2ZM309.31 167.62H314.59V173.32H309.31ZM392.2 167.62H397.48V173.32H392.2ZM298.95 173.22H314.59V178.92H298.95ZM298.95 178.82H324.95V184.53H298.95ZM392.2 178.82H397.48V184.53H392.2Z" fill="#ece8a6"/>
<path d="M309.31 105.99H361.22V111.69H309.31ZM304.13 111.59H361.22V117.29H304.13ZM304.13 117.19H335.31V122.89H304.13ZM340.39 117.19H366.4V122.89H340.39ZM304.13 122.79H330.13V128.5H304.13ZM350.76 122.79H366.4V128.5H350.76ZM304.13 128.4H330.13V134.1H304.13ZM355.94 128.4H371.58V134.1H355.94ZM304.13 134H324.95V139.7H304.13ZM361.12 134H376.76V139.7H361.12ZM304.13 139.6H330.13V145.31H304.13ZM366.3 139.6H376.76V145.31H366.3ZM309.31 145.21H330.13V150.91H309.31ZM371.48 145.21H381.94V150.91H371.48ZM309.31 150.81H335.31V156.51H309.31ZM371.48 150.81H387.12V156.51H371.48ZM314.49 156.41H340.49V162.11H314.49ZM376.66 156.41H387.12V162.11H376.66ZM298.95 162.01H309.41V167.72H298.95ZM314.49 162.01H345.68V167.72H314.49ZM376.66 162.01H392.3V167.72H376.66ZM298.95 167.62H309.41V173.32H298.95ZM314.49 167.62H356.04V173.32H314.49ZM376.66 167.62H392.3V173.32H376.66ZM314.49 173.22H397.48V178.92H314.49ZM324.85 178.82H392.3V184.53H324.85Z" fill="#f2ef08"/>
<path d="M304.13 33.15H356.04V38.85H304.13ZM304.13 38.75H361.22V44.46H304.13ZM304.13 44.36H361.22V50.06H304.13ZM309.31 49.96H366.4V55.66H309.31ZM309.31 55.56H371.58V61.26H309.31ZM309.31 61.16H366.4V66.87H309.31ZM314.49 66.77H361.22V72.47H314.49ZM319.67 72.37H356.04V78.07H319.67ZM324.85 77.97H330.13V83.67H324.85ZM340.39 77.97H345.68V83.67H340.39ZM418.1 105.99H423.38V111.69H418.1ZM418.1 111.59H428.56V117.29H418.1ZM335.21 117.19H340.49V122.89H335.21ZM330.03 122.79H350.86V128.5H330.03ZM330.03 128.4H356.04V134.1H330.03ZM324.85 134H361.22V139.7H324.85ZM330.03 139.6H366.4V145.31H330.03ZM330.03 145.21H371.58V150.91H330.03ZM335.21 150.81H371.58V156.51H335.21ZM340.39 156.41H376.76V162.11H340.39ZM345.57 162.01H376.76V167.72H345.57ZM355.94 167.62H376.76V173.32H355.94Z" fill="#fd0000"/>
<path d="M371.53 33.2V38.8M371.53 38.8H376.71M381.89 33.2V38.8M381.89 38.8H387.07M407.79 33.2V38.8M407.79 38.8H412.97M412.97 38.8H418.15M418.15 38.8H423.33M423.33 38.8H428.51M433.69 33.2V38.8M428.51 38.8H433.69M376.71 38.8V44.41M387.07 38.8V44.41M387.07 44.41H392.25M392.25 44.41H397.43M376.71 44.41V50.01M376.71 50.01H381.89M381.89 50.01H387.07M397.43 44.41V50.01M387.07 50.01V55.61M381.89 55.61H387.07M397.43 50.01V55.61M381.89 55.61V61.21M397.43 55.61V61.21M381.89 61.21V66.82M397.43 61.21V66.82M412.97 66.82H418.15M418.15 66.82H423.33M423.33 66.82H428.51M428.51 66.82H433.69M433.69 66.82H438.88M438.88 66.82H444.06M381.89 66.82V72.42M381.89 72.42H387.07M397.43 66.82V72.42M397.43 72.42H402.61M402.61 72.42H407.79M412.97 66.82V72.42M407.79 72.42H412.97M444.06 66.82V72.42M387.07 72.42V78.02M423.33 78.02H428.51M428.51 78.02H433.69M444.06 72.42V78.02M371.53 83.62H376.71M376.71 83.62H381.89M387.07 78.02V83.62M381.89 83.62H387.07M407.79 83.62H412.97M412.97 83.62H418.15M423.33 78.02V83.62M418.15 83.62H423.33M433.69 78.02V83.62M428.51 83.62H433.69M444.06 78.02V83.62M361.17 89.23H366.35M371.53 83.62V89.23M366.35 89.23H371.53M407.79 83.62V89.23M428.51 83.62V89.23M444.06 83.62V89.23M299 94.83H304.18M361.17 89.23V94.83M361.17 94.83H366.35M376.71 94.83H381.89M381.89 94.83H387.07M387.07 94.83H392.25M392.25 94.83H397.43M407.79 89.23V94.83M407.79 94.83H412.97M428.51 89.23V94.83M444.06 89.23V94.83M444.06 94.83H449.24M304.18 94.83V100.43M304.18 100.43H309.36M366.35 94.83V100.43M376.71 94.83V100.43M397.43 94.83V100.43M412.97 94.83V100.43M407.79 100.43H412.97M428.51 94.83V100.43M428.51 100.43H433.69M433.69 100.43H438.88M309.36 100.43V106.04M366.35 100.43V106.04M361.17 106.04H366.35M376.71 100.43V106.04M397.43 100.43V106.04M407.79 100.43V106.04M438.88 100.43V106.04M433.69 106.04H438.88M309.36 106.04V111.64M304.18 111.64H309.36M361.17 106.04V111.64M376.71 106.04V111.64M397.43 106.04V111.64M407.79 106.04V111.64M407.79 111.64H412.97M433.69 106.04V111.64M433.69 111.64H438.88M304.18 111.64V117.24M361.17 111.64V117.24M361.17 117.24H366.35M376.71 111.64V117.24M376.71 117.24H381.89M397.43 111.64V117.24M412.97 111.64V117.24M438.88 111.64V117.24M304.18 117.24V122.84M366.35 117.24V122.84M381.89 117.24V122.84M381.89 122.84H387.07M397.43 117.24V122.84M397.43 122.84H402.61M412.97 117.24V122.84M412.97 122.84H418.15M438.88 117.24V122.84M433.69 122.84H438.88M304.18 122.84V128.45M366.35 122.84V128.45M366.35 128.45H371.53M387.07 122.84V128.45M402.61 122.84V128.45M418.15 122.84V128.45M433.69 122.84V128.45M433.69 128.45H438.88M304.18 128.45V134.05M371.53 128.45V134.05M371.53 134.05H376.71M387.07 128.45V134.05M387.07 134.05H392.25M402.61 128.45V134.05M418.15 128.45V134.05M423.33 134.05H428.51M438.88 128.45V134.05M304.18 134.05V139.65M376.71 134.05V139.65M392.25 134.05V139.65M392.25 139.65H397.43M402.61 134.05V139.65M418.15 134.05V139.65M423.33 134.05V139.65M418.15 139.65H423.33M428.51 134.05V139.65M428.51 139.65H433.69M438.88 134.05V139.65M433.69 139.65H438.88M304.18 139.65V145.26M304.18 145.26H309.36M376.71 139.65V145.26M376.71 145.26H381.89M397.43 139.65V145.26M402.61 139.65V145.26M309.36 145.26V150.86M381.89 145.26V150.86M381.89 150.86H387.07M397.43 145.26V150.86M402.61 145.26V150.86M397.43 150.86H402.61M402.61 150.86H407.79M407.79 150.86H412.97M412.97 150.86H418.15M418.15 150.86H423.33M423.33 150.86H428.51M428.51 150.86H433.69M433.69 150.86H438.88M438.88 150.86H444.06M444.06 150.86H449.24M309.36 150.86V156.46M309.36 156.46H314.54M387.07 150.86V156.46M402.61 150.86V156.46M299 162.06H304.18M304.18 162.06H309.36M314.54 156.46V162.06M387.07 156.46V162.06M387.07 162.06H392.25M402.61 156.46V162.06M402.61 162.06H407.79M309.36 162.06V167.67M314.54 162.06V167.67M392.25 162.06V167.67M407.79 162.06V167.67M299 173.27H304.18M309.36 167.67V173.27M304.18 173.27H309.36M314.54 167.67V173.27M392.25 167.67V173.27M392.25 173.27H397.43M407.79 167.67V173.27M314.54 173.27V178.87M314.54 178.87H319.72M319.72 178.87H324.9M397.43 173.27V178.87M392.25 178.87H397.43M407.79 173.27V178.87M299 184.48H304.18M324.9 178.87V184.48M376.71 184.48H381.89M381.89 184.48H387.07M392.25 178.87V184.48M387.07 184.48H392.25M407.79 178.87V184.48M304.18 184.48V190.08M304.18 190.08H309.36M309.36 190.08H314.54M324.9 184.48V190.08M324.9 190.08H330.08M330.08 190.08H335.26M335.26 190.08H340.44M340.44 190.08H345.62M345.62 190.08H350.81M350.81 190.08H355.99M361.17 190.08H366.35M366.35 190.08H371.53M376.71 184.48V190.08M371.53 190.08H376.71M407.79 184.48V190.08M402.61 190.08H407.79M314.54 190.08V195.68M335.26 195.68H340.44M340.44 195.68H345.62M355.99 190.08V195.68M361.17 190.08V195.68M355.99 195.68H361.17M387.07 195.68H392.25M392.25 195.68H397.43M402.61 190.08V195.68M397.43 195.68H402.61M299 201.28H304.18M304.18 201.28H309.36M314.54 195.68V201.28M309.36 201.28H314.54M324.9 201.28H330.08M335.26 195.68V201.28M335.26 201.28H340.44M345.62 195.68V201.28M340.44 201.28H345.62M371.53 201.28H376.71M376.71 201.28H381.89M387.07 195.68V201.28M381.89 201.28H387.07M407.79 201.28H412.97M412.97 201.28H418.15M418.15 201.28H423.33M423.33 201.28H428.51M428.51 201.28H433.69M324.9 201.28V206.89M330.08 201.28V206.89M324.9 206.89H330.08M330.08 206.89H335.26M335.26 206.89H340.44M340.44 206.89H345.62M345.62 206.89H350.81M371.53 201.28V206.89M407.79 201.28V206.89M433.69 201.28V206.89M304.18 212.49H309.36M309.36 212.49H314.54M314.54 212.49H319.72M330.08 206.89V212.49M324.9 212.49H330.08M350.81 206.89V212.49M371.53 206.89V212.49M371.53 212.49H376.71M407.79 206.89V212.49M418.15 212.49H423.33M433.69 206.89V212.49M433.69 212.49H438.88M304.18 212.49V218.09M319.72 212.49V218.09M324.9 212.49V218.09M319.72 218.09H324.9M350.81 212.49V218.09M350.81 218.09H355.99M376.71 212.49V218.09M407.79 212.49V218.09M418.15 212.49V218.09M423.33 212.49V218.09M438.88 212.49V218.09M304.18 218.09V223.69M355.99 218.09V223.69M355.99 223.69H361.17M361.17 223.69H366.35M376.71 218.09V223.69M407.79 218.09V223.69M418.15 218.09V223.69M423.33 218.09V223.69M423.33 223.69H428.51M438.88 218.09V223.69M304.18 223.69V229.3M299 229.3H304.18M366.35 223.69V229.3M376.71 223.69V229.3M407.79 223.69V229.3M418.15 223.69V229.3M418.15 229.3H423.33M428.51 223.69V229.3M423.33 229.3H428.51M438.88 223.69V229.3M366.35 229.3V234.9M376.71 229.3V234.9M407.79 229.3V234.9M438.88 229.3V234.9" stroke="rgba(70,65,20,0.7)" stroke-width="0.6" fill="none"/>
<path d="M459.6 33.2V38.8M480.32 33.2V38.8M475.14 38.8H480.32M459.6 38.8V44.41M475.14 38.8V44.41M469.96 44.41H475.14M459.6 44.41V50.01M469.96 44.41V50.01M469.96 50.01H475.14M459.6 50.01V55.61M475.14 50.01V55.61M475.14 55.61H480.32M459.6 55.61V61.21M459.6 61.21H464.78M480.32 55.61V61.21M464.78 61.21V66.82M464.78 66.82H469.96M480.32 61.21V66.82M469.96 66.82V72.42M480.32 66.82V72.42M469.96 72.42V78.02M480.32 72.42V78.02M469.96 78.02V83.62M480.32 78.02V83.62M480.32 83.62H485.5M469.96 83.62V89.23M469.96 89.23V94.83M449.24 94.83V100.43M469.96 94.83V100.43M449.24 100.43V106.04M469.96 100.43V106.04M449.24 106.04V111.64M469.96 106.04V111.64M449.24 111.64V117.24M469.96 111.64V117.24M449.24 117.24V122.84M469.96 117.24V122.84M449.24 122.84V128.45M469.96 122.84V128.45M449.24 128.45V134.05M469.96 128.45V134.05M449.24 134.05V139.65M469.96 134.05V139.65M449.24 139.65V145.26M469.96 139.65V145.26M449.24 145.26V150.86M469.96 145.26V150.86M469.96 150.86V156.46M469.96 156.46V162.06M469.96 162.06V167.67M469.96 167.67V173.27M469.96 173.27V178.87M469.96 178.87V184.48M469.96 184.48H475.14M475.14 184.48H480.32M480.32 184.48H485.5M469.96 218.09H475.14M475.14 218.09H480.32M480.32 218.09H485.5M469.96 218.09V223.69M469.96 223.69V229.3M480.32 229.3H485.5M469.96 229.3V234.9M480.32 229.3V234.9" stroke="rgba(70,65,20,0.18)" stroke-width="0.6" fill="none"/>
<path d="M392.25 33.2V234.9M299 134.05H485.5" stroke="#333" stroke-opacity="0.75" stroke-width="0.7" fill="none"/>
<rect x="299" y="33.2" width="186.5" height="201.7" fill="none" stroke="#888" stroke-width="0.6"/>
<path d="M299 234.9v2M322.31 234.9v2M299 209.69h-2.5M345.62 234.9v2M299 184.47h-2.5M368.94 234.9v2M299 159.26h-2.5M392.25 234.9v2M299 134.05h-2.5M415.56 234.9v2M299 108.84h-2.5M438.88 234.9v2M299 83.62h-2.5M462.19 234.9v2M299 58.41h-2.5M485.5 234.9v2M299 33.2h-2.5" stroke="#555" stroke-width="0.6" fill="none"/>
<g font-size="5.4" fill="#333">
<text x="297.8" y="243.9" text-anchor="middle">-180</text>
<text x="322.31" y="243.9" text-anchor="middle">-135</text>
<text x="294.6" y="211.64" text-anchor="end">-135</text>
<text x="345.62" y="243.9" text-anchor="middle">-90</text>
<text x="294.6" y="186.42" text-anchor="end">-90</text>
<text x="369.44" y="243.9" text-anchor="middle">-45</text>
<text x="294.6" y="161.21" text-anchor="end">-45</text>
<text x="393.75" y="243.9" text-anchor="middle">0</text>
<text x="294.6" y="136" text-anchor="end">0</text>
<text x="417.96" y="243.9" text-anchor="middle">45</text>
<text x="294.6" y="110.79" text-anchor="end">45</text>
<text x="441.27" y="243.9" text-anchor="middle">90</text>
<text x="294.6" y="85.58" text-anchor="end">90</text>
<text x="466.19" y="243.9" text-anchor="middle">135</text>
<text x="294.6" y="60.36" text-anchor="end">135</text>
<text x="489.3" y="243.9" text-anchor="middle">180</text>
<text x="294.6" y="35.15" text-anchor="end">180</text>
</g>
<text x="392.4" y="258.1" font-size="9" font-weight="bold" text-anchor="middle" fill="#111" stroke="#111" stroke-width="0.2">Phi (degrees)</text>
<text transform="translate(279.5 135.25) rotate(-90)" font-size="9" font-weight="bold" text-anchor="middle" fill="#111" stroke="#111" stroke-width="0.25">Psi (degrees)</text>
<text x="398.9" y="23.4" font-size="13.4" text-anchor="middle" fill="#111">Model 2</text>
<text x="270.3" y="18.9" font-size="15" fill="#111">B</text>
<g class="s" font-size="5.9" fill="#4a2a00">
<text x="309.1" y="40.75" text-anchor="middle">B</text>
<text x="304.08" y="62.99" text-anchor="middle">b</text>
<text x="309.78" y="119.63" text-anchor="middle">a</text>
<text x="334.69" y="130.56" text-anchor="middle">A</text>
<text x="385.05" y="144.73" text-anchor="middle" font-size="5.3">~a</text>
<text x="385.05" y="63.33" text-anchor="middle" font-size="5.3">~b</text>
<text x="309.36" y="220.2" text-anchor="middle">b</text>
<text x="302.21" y="209.11" text-anchor="middle" font-size="5.3">~b</text>
<text x="415.93" y="74.53" text-anchor="middle" font-size="5.3">~l</text>
<text x="410.33" y="91.4" text-anchor="middle">l</text>
<text x="420.23" y="109.77" text-anchor="middle">L</text>
<text x="410.33" y="209.67" text-anchor="middle" font-size="5.3">~p</text>
<text x="420.23" y="220.99" text-anchor="middle">p</text>
<text x="462.39" y="41.08" text-anchor="middle" font-size="5.3">~b</text>
<text x="480.11" y="46.63" text-anchor="middle">b</text>
<text x="472.86" y="225.58" text-anchor="middle" font-size="5.3">~b</text>
</g>
<path d="M307.88 38.4a1.12 1.12 0 1 0 2.24 0a1.12 1.12 0 1 0 -2.24 0zM322.98 37a1.12 1.12 0 1 0 2.24 0a1.12 1.12 0 1 0 -2.24 0zM336.98 39.6a1.12 1.12 0 1 0 2.24 0a1.12 1.12 0 1 0 -2.24 0zM340.98 40.4a1.12 1.12 0 1 0 2.24 0a1.12 1.12 0 1 0 -2.24 0zM361.58 35.6a1.12 1.12 0 1 0 2.24 0a1.12 1.12 0 1 0 -2.24 0zM319.48 43a1.12 1.12 0 1 0 2.24 0a1.12 1.12 0 1 0 -2.24 0zM326.98 44a1.12 1.12 0 1 0 2.24 0a1.12 1.12 0 1 0 -2.24 0zM312.88 45.6a1.12 1.12 0 1 0 2.24 0a1.12 1.12 0 1 0 -2.24 0zM348.98 45.6a1.12 1.12 0 1 0 2.24 0a1.12 1.12 0 1 0 -2.24 0zM350.98 48a1.12 1.12 0 1 0 2.24 0a1.12 1.12 0 1 0 -2.24 0zM354.98 47.6a1.12 1.12 0 1 0 2.24 0a1.12 1.12 0 1 0 -2.24 0zM358.98 46a1.12 1.12 0 1 0 2.24 0a1.12 1.12 0 1 0 -2.24 0zM314.28 50a1.12 1.12 0 1 0 2.24 0a1.12 1.12 0 1 0 -2.24 0zM355.98 50a1.12 1.12 0 1 0 2.24 0a1.12 1.12 0 1 0 -2.24 0zM359.58 51a1.12 1.12 0 1 0 2.24 0a1.12 1.12 0 1 0 -2.24 0zM315.28 55.7a1.12 1.12 0 1 0 2.24 0a1.12 1.12 0 1 0 -2.24 0zM329.38 54a1.12 1.12 0 1 0 2.24 0a1.12 1.12 0 1 0 -2.24 0zM337.98 53a1.12 1.12 0 1 0 2.24 0a1.12 1.12 0 1 0 -2.24 0zM338.98 56.1a1.12 1.12 0 1 0 2.24 0a1.12 1.12 0 1 0 -2.24 0zM358.98 55.7a1.12 1.12 0 1 0 2.24 0a1.12 1.12 0 1 0 -2.24 0zM358.38 59.1a1.12 1.12 0 1 0 2.24 0a1.12 1.12 0 1 0 -2.24 0zM361.58 59.1a1.12 1.12 0 1 0 2.24 0a1.12 1.12 0 1 0 -2.24 0zM340.38 60.1a1.12 1.12 0 1 0 2.24 0a1.12 1.12 0 1 0 -2.24 0zM344.38 62.1a1.12 1.12 0 1 0 2.24 0a1.12 1.12 0 1 0 -2.24 0zM331.58 63.7a1.12 1.12 0 1 0 2.24 0a1.12 1.12 0 1 0 -2.24 0zM338.98 66.5a1.12 1.12 0 1 0 2.24 0a1.12 1.12 0 1 0 -2.24 0zM327.98 67.1a1.12 1.12 0 1 0 2.24 0a1.12 1.12 0 1 0 -2.24 0zM325.98 69.7a1.12 1.12 0 1 0 2.24 0a1.12 1.12 0 1 0 -2.24 0zM344.98 73.1a1.12 1.12 0 1 0 2.24 0a1.12 1.12 0 1 0 -2.24 0zM342.38 78.1a1.12 1.12 0 1 0 2.24 0a1.12 1.12 0 1 0 -2.24 0zM348.98 84.1a1.12 1.12 0 1 0 2.24 0a1.12 1.12 0 1 0 -2.24 0zM343.58 124.6a1.12 1.12 0 1 0 2.24 0a1.12 1.12 0 1 0 -2.24 0zM326.98 131.2a1.12 1.12 0 1 0 2.24 0a1.12 1.12 0 1 0 -2.24 0zM350.38 131.2a1.12 1.12 0 1 0 2.24 0a1.12 1.12 0 1 0 -2.24 0zM328.98 139.2a1.12 1.12 0 1 0 2.24 0a1.12 1.12 0 1 0 -2.24 0zM343.98 136.2a1.12 1.12 0 1 0 2.24 0a1.12 1.12 0 1 0 -2.24 0zM347.98 138.2a1.12 1.12 0 1 0 2.24 0a1.12 1.12 0 1 0 -2.24 0zM343.78 136.9a1.12 1.12 0 1 0 2.24 0a1.12 1.12 0 1 0 -2.24 0zM351.28 139.7a1.12 1.12 0 1 0 2.24 0a1.12 1.12 0 1 0 -2.24 0zM356.18 143.2a1.12 1.12 0 1 0 2.24 0a1.12 1.12 0 1 0 -2.24 0zM349.38 143.9a1.12 1.12 0 1 0 2.24 0a1.12 1.12 0 1 0 -2.24 0zM369.48 145.3a1.12 1.12 0 1 0 2.24 0a1.12 1.12 0 1 0 -2.24 0zM360.38 147.5a1.12 1.12 0 1 0 2.24 0a1.12 1.12 0 1 0 -2.24 0zM328.38 149.1a1.12 1.12 0 1 0 2.24 0a1.12 1.12 0 1 0 -2.24 0zM343.48 148.9a1.12 1.12 0 1 0 2.24 0a1.12 1.12 0 1 0 -2.24 0zM336.48 152.4a1.12 1.12 0 1 0 2.24 0a1.12 1.12 0 1 0 -2.24 0zM370.88 154.7a1.12 1.12 0 1 0 2.24 0a1.12 1.12 0 1 0 -2.24 0zM338.58 158.4a1.12 1.12 0 1 0 2.24 0a1.12 1.12 0 1 0 -2.24 0zM345.68 159.4a1.12 1.12 0 1 0 2.24 0a1.12 1.12 0 1 0 -2.24 0zM370.18 162.9a1.12 1.12 0 1 0 2.24 0a1.12 1.12 0 1 0 -2.24 0zM347.08 168.5a1.12 1.12 0 1 0 2.24 0a1.12 1.12 0 1 0 -2.24 0zM351.28 167.8a1.12 1.12 0 1 0 2.24 0a1.12 1.12 0 1 0 -2.24 0zM363.18 168.2a1.12 1.12 0 1 0 2.24 0a1.12 1.12 0 1 0 -2.24 0zM365.28 158.7a1.12 1.12 0 1 0 2.24 0a1.12 1.12 0 1 0 -2.24 0zM352.98 233.7a1.12 1.12 0 1 0 2.24 0a1.12 1.12 0 1 0 -2.24 0zM436.38 45a1.12 1.12 0 1 0 2.24 0a1.12 1.12 0 1 0 -2.24 0zM419.38 99.1a1.12 1.12 0 1 0 2.24 0a1.12 1.12 0 1 0 -2.24 0zM420.58 100.3a1.12 1.12 0 1 0 2.24 0a1.12 1.12 0 1 0 -2.24 0zM424.98 105.8a1.12 1.12 0 1 0 2.24 0a1.12 1.12 0 1 0 -2.24 0zM414.58 117.8a1.12 1.12 0 1 0 2.24 0a1.12 1.12 0 1 0 -2.24 0zM426.98 117.8a1.12 1.12 0 1 0 2.24 0a1.12 1.12 0 1 0 -2.24 0z" fill="#000"/>
<path d="M365.49 157.03a1.12 1.12 0 1 0 2.24 0a1.12 1.12 0 1 0 -2.24 0zM359.66 157.28a1.12 1.12 0 1 0 2.24 0a1.12 1.12 0 1 0 -2.24 0zM360.99 153.13a1.12 1.12 0 1 0 2.24 0a1.12 1.12 0 1 0 -2.24 0zM357.24 153.68a1.12 1.12 0 1 0 2.24 0a1.12 1.12 0 1 0 -2.24 0zM355.26 152.67a1.12 1.12 0 1 0 2.24 0a1.12 1.12 0 1 0 -2.24 0zM356.94 154.97a1.12 1.12 0 1 0 2.24 0a1.12 1.12 0 1 0 -2.24 0zM355.76 156.65a1.12 1.12 0 1 0 2.24 0a1.12 1.12 0 1 0 -2.24 0zM356.84 146.2a1.12 1.12 0 1 0 2.24 0a1.12 1.12 0 1 0 -2.24 0zM362.05 156.56a1.12 1.12 0 1 0 2.24 0a1.12 1.12 0 1 0 -2.24 0zM356.25 156.37a1.12 1.12 0 1 0 2.24 0a1.12 1.12 0 1 0 -2.24 0zM359.17 156.82a1.12 1.12 0 1 0 2.24 0a1.12 1.12 0 1 0 -2.24 0zM355.92 156.02a1.12 1.12 0 1 0 2.24 0a1.12 1.12 0 1 0 -2.24 0zM353.87 159.01a1.12 1.12 0 1 0 2.24 0a1.12 1.12 0 1 0 -2.24 0zM354.68 154.36a1.12 1.12 0 1 0 2.24 0a1.12 1.12 0 1 0 -2.24 0zM358.54 157.08a1.12 1.12 0 1 0 2.24 0a1.12 1.12 0 1 0 -2.24 0zM357.74 157.57a1.12 1.12 0 1 0 2.24 0a1.12 1.12 0 1 0 -2.24 0zM347.58 151.63a1.12 1.12 0 1 0 2.24 0a1.12 1.12 0 1 0 -2.24 0zM357.61 154.39a1.12 1.12 0 1 0 2.24 0a1.12 1.12 0 1 0 -2.24 0zM362.68 154.65a1.12 1.12 0 1 0 2.24 0a1.12 1.12 0 1 0 -2.24 0zM357.84 149.67a1.12 1.12 0 1 0 2.24 0a1.12 1.12 0 1 0 -2.24 0zM358.91 151.28a1.12 1.12 0 1 0 2.24 0a1.12 1.12 0 1 0 -2.24 0zM353.36 161.19a1.12 1.12 0 1 0 2.24 0a1.12 1.12 0 1 0 -2.24 0zM360.21 156.62a1.12 1.12 0 1 0 2.24 0a1.12 1.12 0 1 0 -2.24 0zM358.6 151.7a1.12 1.12 0 1 0 2.24 0a1.12 1.12 0 1 0 -2.24 0zM354.9 155.95a1.12 1.12 0 1 0 2.24 0a1.12 1.12 0 1 0 -2.24 0zM351.67 154.28a1.12 1.12 0 1 0 2.24 0a1.12 1.12 0 1 0 -2.24 0zM352.82 154.26a1.12 1.12 0 1 0 2.24 0a1.12 1.12 0 1 0 -2.24 0zM354.71 159.92a1.12 1.12 0 1 0 2.24 0a1.12 1.12 0 1 0 -2.24 0zM361.17 155.44a1.12 1.12 0 1 0 2.24 0a1.12 1.12 0 1 0 -2.24 0zM352.33 151.32a1.12 1.12 0 1 0 2.24 0a1.12 1.12 0 1 0 -2.24 0zM357.91 152.77a1.12 1.12 0 1 0 2.24 0a1.12 1.12 0 1 0 -2.24 0zM358.95 159.19a1.12 1.12 0 1 0 2.24 0a1.12 1.12 0 1 0 -2.24 0zM357.92 154.47a1.12 1.12 0 1 0 2.24 0a1.12 1.12 0 1 0 -2.24 0zM360.46 155.85a1.12 1.12 0 1 0 2.24 0a1.12 1.12 0 1 0 -2.24 0zM360.67 155.85a1.12 1.12 0 1 0 2.24 0a1.12 1.12 0 1 0 -2.24 0zM363.01 156.85a1.12 1.12 0 1 0 2.24 0a1.12 1.12 0 1 0 -2.24 0zM354.86 154.95a1.12 1.12 0 1 0 2.24 0a1.12 1.12 0 1 0 -2.24 0zM356.16 152.28a1.12 1.12 0 1 0 2.24 0a1.12 1.12 0 1 0 -2.24 0zM357.7 158a1.12 1.12 0 1 0 2.24 0a1.12 1.12 0 1 0 -2.24 0zM351.5 153.27a1.12 1.12 0 1 0 2.24 0a1.12 1.12 0 1 0 -2.24 0zM357.63 155.25a1.12 1.12 0 1 0 2.24 0a1.12 1.12 0 1 0 -2.24 0zM360.55 152.81a1.12 1.12 0 1 0 2.24 0a1.12 1.12 0 1 0 -2.24 0zM360.12 155.94a1.12 1.12 0 1 0 2.24 0a1.12 1.12 0 1 0 -2.24 0zM358.45 155.34a1.12 1.12 0 1 0 2.24 0a1.12 1.12 0 1 0 -2.24 0zM357.11 153.93a1.12 1.12 0 1 0 2.24 0a1.12 1.12 0 1 0 -2.24 0zM359.38 162.79a1.12 1.12 0 1 0 2.24 0a1.12 1.12 0 1 0 -2.24 0zM361.34 159.73a1.12 1.12 0 1 0 2.24 0a1.12 1.12 0 1 0 -2.24 0zM359.85 155.13a1.12 1.12 0 1 0 2.24 0a1.12 1.12 0 1 0 -2.24 0zM360 162.96a1.12 1.12 0 1 0 2.24 0a1.12 1.12 0 1 0 -2.24 0zM354.26 157.04a1.12 1.12 0 1 0 2.24 0a1.12 1.12 0 1 0 -2.24 0zM361.27 158.01a1.12 1.12 0 1 0 2.24 0a1.12 1.12 0 1 0 -2.24 0zM360.59 161.14a1.12 1.12 0 1 0 2.24 0a1.12 1.12 0 1 0 -2.24 0zM364.95 162.52a1.12 1.12 0 1 0 2.24 0a1.12 1.12 0 1 0 -2.24 0zM363.27 158.96a1.12 1.12 0 1 0 2.24 0a1.12 1.12 0 1 0 -2.24 0zM360.77 157.56a1.12 1.12 0 1 0 2.24 0a1.12 1.12 0 1 0 -2.24 0zM359.16 155.04a1.12 1.12 0 1 0 2.24 0a1.12 1.12 0 1 0 -2.24 0zM360.34 161.3a1.12 1.12 0 1 0 2.24 0a1.12 1.12 0 1 0 -2.24 0zM357.81 156.74a1.12 1.12 0 1 0 2.24 0a1.12 1.12 0 1 0 -2.24 0zM360.2 156.93a1.12 1.12 0 1 0 2.24 0a1.12 1.12 0 1 0 -2.24 0zM361.16 158.02a1.12 1.12 0 1 0 2.24 0a1.12 1.12 0 1 0 -2.24 0zM354.78 151.75a1.12 1.12 0 1 0 2.24 0a1.12 1.12 0 1 0 -2.24 0zM360.54 158.94a1.12 1.12 0 1 0 2.24 0a1.12 1.12 0 1 0 -2.24 0z" fill="#000"/>
<g class="s" font-size="4.5" fill="#e8202a">
<circle cx="421.7" cy="152" r="1.2" fill="#a80c18"/>
<text x="421" y="149.2" text-anchor="middle">ASN 297</text>
<circle cx="430.7" cy="160.5" r="1.2" fill="#a80c18"/>
<text x="430.2" y="157.2" text-anchor="middle">LYS 163</text>
<circle cx="420.5" cy="162.7" r="1.2" fill="#a80c18"/>
<text x="419.6" y="159.8" text-anchor="middle">ARG 299</text>
</g>
</g>
<g>
<path d="M40.15 312.15H45.74V317.89H40.15ZM100.5 312.15H117.06V317.89H100.5ZM232.16 312.15H237.75V317.89H232.16ZM40.15 317.79H45.74V323.53H40.15ZM105.98 317.79H122.54V323.53H105.98ZM226.68 317.79H237.75V323.53H226.68ZM40.15 323.43H45.74V329.17H40.15ZM105.98 323.43H122.54V329.17H105.98ZM221.19 323.43H237.75V329.17H221.19ZM40.15 329.07H51.22V334.81H40.15ZM111.47 329.07H133.51V334.81H111.47ZM226.68 329.07H237.75V334.81H226.68ZM40.15 334.71H51.22V340.44H40.15ZM116.96 334.71H128.03V340.44H116.96ZM232.16 334.71H237.75V340.44H232.16ZM40.15 340.34H51.22V346.08H40.15ZM111.47 340.34H128.03V346.08H111.47ZM232.16 340.34H237.75V346.08H232.16ZM40.15 345.98H56.71V351.72H40.15ZM105.98 345.98H128.03V351.72H105.98ZM232.16 345.98H237.75V351.72H232.16ZM40.15 351.62H62.19V357.36H40.15ZM100.5 351.62H133.51V357.36H100.5ZM232.16 351.62H237.75V357.36H232.16ZM40.15 357.26H67.68V363H40.15ZM73.07 357.26H84.14V363H73.07ZM89.53 357.26H133.51V363H89.53ZM171.82 357.26H182.89V363H171.82ZM232.16 357.26H237.75V363H232.16ZM40.15 362.9H117.06V368.64H40.15ZM155.36 362.9H177.4V368.64H155.36ZM40.15 368.54H106.08V374.28H40.15ZM155.36 368.54H177.4V374.28H155.36ZM45.64 374.18H111.57V379.92H45.64ZM160.84 374.18H177.4V379.92H160.84ZM51.12 379.82H111.57V385.56H51.12ZM155.36 379.82H188.38V385.56H155.36ZM155.36 385.46H166.43V391.19H155.36ZM171.82 385.46H182.89V391.19H171.82ZM160.84 391.09H166.43V396.83H160.84ZM177.3 391.09H188.38V396.83H177.3ZM160.84 396.73H188.38V402.47H160.84ZM166.33 402.37H182.89V408.11H166.33ZM166.33 408.01H188.38V413.75H166.33ZM166.33 413.65H171.92V419.39H166.33ZM177.3 413.65H188.38V419.39H177.3ZM67.58 464.4H122.54V470.14H67.58ZM100.5 470.04H106.08V475.78H100.5ZM78.55 475.68H89.62V481.42H78.55ZM67.58 481.32H73.17V487.06H67.58ZM73.07 486.96H95.11V492.69H73.07ZM45.64 492.59H62.19V498.33H45.64ZM67.58 492.59H95.11V498.33H67.58ZM166.33 492.59H171.92V498.33H166.33ZM45.64 498.23H100.6V503.97H45.64ZM166.33 498.23H171.92V503.97H166.33ZM45.64 503.87H111.57V509.61H45.64ZM166.33 503.87H177.4V509.61H166.33ZM40.15 509.51H111.57V515.25H40.15ZM232.16 509.51H237.75V515.25H232.16Z" fill="#ffff00"/>
<path d="M116.96 312.15H128.03V317.89H116.96ZM122.44 317.79H133.51V323.53H122.44ZM122.44 323.43H144.49V329.17H122.44ZM133.41 329.07H144.49V334.81H133.41ZM127.93 334.71H144.49V340.44H127.93ZM127.93 340.34H144.49V346.08H127.93ZM127.93 345.98H144.49V351.72H127.93ZM133.41 351.62H144.49V357.36H133.41ZM133.41 357.26H144.49V363H133.41ZM116.96 362.9H144.49V368.64H116.96ZM105.98 368.54H144.49V374.28H105.98ZM40.15 374.18H45.74V379.92H40.15ZM111.47 374.18H122.54V379.92H111.47ZM40.15 379.82H51.22V385.56H40.15ZM111.47 379.82H122.54V385.56H111.47ZM45.64 464.4H67.68V470.14H45.64ZM122.44 464.4H144.49V470.14H122.44ZM56.61 470.04H100.6V475.78H56.61ZM105.98 470.04H144.49V475.78H105.98ZM56.61 475.68H78.65V481.42H56.61ZM89.53 475.68H133.51V481.42H89.53ZM40.15 481.32H67.68V487.06H40.15ZM73.07 481.32H117.06V487.06H73.07ZM40.15 486.96H73.17V492.69H40.15ZM95.01 486.96H117.06V492.69H95.01ZM40.15 492.59H45.74V498.33H40.15ZM62.09 492.59H67.68V498.33H62.09ZM95.01 492.59H122.54V498.33H95.01ZM40.15 498.23H45.74V503.97H40.15ZM100.5 498.23H122.54V503.97H100.5ZM40.15 503.87H45.74V509.61H40.15ZM111.47 503.87H122.54V509.61H111.47ZM111.47 509.51H122.54V515.25H111.47Z" fill="#faf7b6"/>
<path d="M155.36 312.15H182.89V317.89H155.36ZM160.84 345.98H193.86V351.72H160.84ZM144.39 351.62H193.86V357.36H144.39ZM144.39 357.26H171.92V363H144.39ZM182.79 357.26H193.86V363H182.79ZM144.39 362.9H155.46V368.64H144.39ZM177.3 362.9H193.86V368.64H177.3ZM144.39 368.54H155.46V374.28H144.39ZM177.3 368.54H193.86V374.28H177.3ZM144.39 374.18H160.94V379.92H144.39ZM177.3 374.18H199.35V379.92H177.3ZM144.39 379.82H155.46V385.56H144.39ZM188.27 379.82H199.35V385.56H188.27ZM144.39 385.46H155.46V391.19H144.39ZM182.79 385.46H199.35V391.19H182.79ZM144.39 391.09H160.94V396.83H144.39ZM188.27 391.09H199.35V396.83H188.27ZM144.39 396.73H160.94V402.47H144.39ZM188.27 396.73H199.35V402.47H188.27ZM149.87 402.37H166.43V408.11H149.87ZM182.79 402.37H199.35V408.11H182.79ZM149.87 408.01H166.43V413.75H149.87ZM188.27 408.01H199.35V413.75H188.27ZM149.87 413.65H166.43V419.39H149.87ZM171.82 413.65H177.4V419.39H171.82ZM188.27 413.65H199.35V419.39H188.27ZM149.87 419.29H199.35V425.03H149.87ZM149.87 424.93H199.35V430.67H149.87ZM144.39 430.57H149.97V436.31H144.39ZM144.39 436.21H149.97V441.94H144.39ZM144.39 441.84H155.46V447.58H144.39ZM144.39 447.48H155.46V453.22H144.39ZM144.39 453.12H155.46V458.86H144.39ZM144.39 458.76H155.46V464.5H144.39ZM144.39 464.4H155.46V470.14H144.39ZM144.39 470.04H149.97V475.78H144.39ZM155.36 481.32H182.89V487.06H155.36ZM155.36 486.96H182.89V492.69H155.36ZM155.36 492.59H166.43V498.33H155.36ZM171.82 492.59H188.38V498.33H171.82ZM155.36 498.23H166.43V503.97H155.36ZM171.82 498.23H188.38V503.97H171.82ZM155.36 503.87H166.43V509.61H155.36ZM177.3 503.87H188.38V509.61H177.3ZM155.36 509.51H188.38V515.25H155.36Z" fill="#f0edad"/>
<path d="M210.22 312.15H232.26V317.89H210.22ZM210.22 317.79H226.78V323.53H210.22ZM210.22 323.43H221.29V329.17H210.22ZM210.22 329.07H226.78V334.81H210.22ZM210.22 334.71H232.26V340.44H210.22ZM215.71 340.34H232.26V346.08H215.71ZM221.19 345.98H232.26V351.72H221.19ZM221.19 351.62H232.26V357.36H221.19ZM221.19 357.26H232.26V363H221.19ZM221.19 362.9H237.75V368.64H221.19ZM221.19 368.54H237.75V374.28H221.19ZM221.19 374.18H237.75V379.92H221.19ZM221.19 379.82H237.75V385.56H221.19ZM221.19 385.46H237.75V391.19H221.19ZM221.19 391.09H237.75V396.83H221.19ZM221.19 396.73H237.75V402.47H221.19ZM221.19 402.37H237.75V408.11H221.19ZM221.19 408.01H237.75V413.75H221.19ZM221.19 413.65H237.75V419.39H221.19ZM221.19 419.29H237.75V425.03H221.19ZM221.19 424.93H237.75V430.67H221.19ZM221.19 430.57H237.75V436.31H221.19ZM221.19 436.21H237.75V441.94H221.19ZM221.19 441.84H237.75V447.58H221.19ZM221.19 447.48H237.75V453.22H221.19ZM221.19 453.12H237.75V458.86H221.19ZM221.19 458.76H237.75V464.5H221.19ZM221.19 498.23H237.75V503.97H221.19ZM221.19 503.87H237.75V509.61H221.19ZM221.19 509.51H232.26V515.25H221.19Z" fill="#fefda6"/>
<path d="M40.15 385.46H51.22V391.19H40.15ZM105.98 385.46H122.54V391.19H105.98ZM40.15 391.09H45.74V396.83H40.15ZM105.98 391.09H122.54V396.83H105.98ZM40.15 396.73H45.74V402.47H40.15ZM111.47 396.73H128.03V402.47H111.47ZM40.15 402.37H45.74V408.11H40.15ZM111.47 402.37H133.51V408.11H111.47ZM40.15 408.01H45.74V413.75H40.15ZM116.96 408.01H133.51V413.75H116.96ZM40.15 413.65H45.74V419.39H40.15ZM122.44 413.65H139V419.39H122.44ZM40.15 419.29H45.74V425.03H40.15ZM122.44 419.29H144.49V425.03H122.44ZM40.15 424.93H51.22V430.67H40.15ZM127.93 424.93H144.49V430.67H127.93ZM40.15 430.57H51.22V436.31H40.15ZM133.41 430.57H144.49V436.31H133.41ZM40.15 436.21H56.71V441.94H40.15ZM133.41 436.21H144.49V441.94H133.41ZM51.12 441.84H56.71V447.58H51.12ZM138.9 441.84H144.49V447.58H138.9ZM51.12 447.48H56.71V453.22H51.12ZM138.9 447.48H144.49V453.22H138.9ZM40.15 453.12H56.71V458.86H40.15ZM40.15 458.76H67.68V464.5H40.15ZM138.9 458.76H144.49V464.5H138.9Z" fill="#ece8a6"/>
<path d="M51.12 385.46H106.08V391.19H51.12ZM45.64 391.09H106.08V396.83H45.64ZM45.64 396.73H78.65V402.47H45.64ZM84.04 396.73H111.57V402.47H84.04ZM45.64 402.37H73.17V408.11H45.64ZM95.01 402.37H111.57V408.11H95.01ZM45.64 408.01H73.17V413.75H45.64ZM100.5 408.01H117.06V413.75H100.5ZM45.64 413.65H67.68V419.39H45.64ZM105.98 413.65H122.54V419.39H105.98ZM45.64 419.29H73.17V425.03H45.64ZM111.47 419.29H122.54V425.03H111.47ZM51.12 424.93H73.17V430.67H51.12ZM116.96 424.93H128.03V430.67H116.96ZM51.12 430.57H78.65V436.31H51.12ZM116.96 430.57H133.51V436.31H116.96ZM56.61 436.21H84.14V441.94H56.61ZM122.44 436.21H133.51V441.94H122.44ZM40.15 441.84H51.22V447.58H40.15ZM56.61 441.84H89.62V447.58H56.61ZM122.44 441.84H139V447.58H122.44ZM40.15 447.48H51.22V453.22H40.15ZM56.61 447.48H100.6V453.22H56.61ZM122.44 447.48H139V453.22H122.44ZM56.61 453.12H144.49V458.86H56.61ZM67.58 458.76H139V464.5H67.58Z" fill="#f2ef08"/>
<path d="M45.64 312.15H100.6V317.89H45.64ZM45.64 317.79H106.08V323.53H45.64ZM45.64 323.43H106.08V329.17H45.64ZM51.12 329.07H111.57V334.81H51.12ZM51.12 334.71H117.06V340.44H51.12ZM51.12 340.34H111.57V346.08H51.12ZM56.61 345.98H106.08V351.72H56.61ZM62.09 351.62H100.6V357.36H62.09ZM67.58 357.26H73.17V363H67.58ZM84.04 357.26H89.62V363H84.04ZM166.33 385.46H171.92V391.19H166.33ZM166.33 391.09H177.4V396.83H166.33ZM78.55 396.73H84.14V402.47H78.55ZM73.07 402.37H95.11V408.11H73.07ZM73.07 408.01H100.6V413.75H73.07ZM67.58 413.65H106.08V419.39H67.58ZM73.07 419.29H111.57V425.03H73.07ZM73.07 424.93H117.06V430.67H73.07ZM78.55 430.57H117.06V436.31H78.55ZM84.04 436.21H122.54V441.94H84.04ZM89.53 441.84H122.54V447.58H89.53ZM100.5 447.48H122.54V453.22H100.5Z" fill="#fd0000"/>
<path d="M117.01 312.2V317.84M117.01 317.84H122.49M127.98 312.2V317.84M127.98 317.84H133.46M155.41 312.2V317.84M155.41 317.84H160.89M160.89 317.84H166.38M166.38 317.84H171.87M171.87 317.84H177.35M182.84 312.2V317.84M177.35 317.84H182.84M122.49 317.84V323.48M133.46 317.84V323.48M133.46 323.48H138.95M138.95 323.48H144.44M122.49 323.48V329.12M122.49 329.12H127.98M127.98 329.12H133.46M144.44 323.48V329.12M133.46 329.12V334.76M127.98 334.76H133.46M144.44 329.12V334.76M127.98 334.76V340.39M144.44 334.76V340.39M127.98 340.39V346.03M144.44 340.39V346.03M160.89 346.03H166.38M166.38 346.03H171.87M171.87 346.03H177.35M177.35 346.03H182.84M182.84 346.03H188.32M188.32 346.03H193.81M127.98 346.03V351.67M127.98 351.67H133.46M144.44 346.03V351.67M144.44 351.67H149.92M149.92 351.67H155.41M160.89 346.03V351.67M155.41 351.67H160.89M193.81 346.03V351.67M133.46 351.67V357.31M171.87 357.31H177.35M177.35 357.31H182.84M193.81 351.67V357.31M117.01 362.95H122.49M122.49 362.95H127.98M133.46 357.31V362.95M127.98 362.95H133.46M155.41 362.95H160.89M160.89 362.95H166.38M171.87 357.31V362.95M166.38 362.95H171.87M182.84 357.31V362.95M177.35 362.95H182.84M193.81 357.31V362.95M106.03 368.59H111.52M117.01 362.95V368.59M111.52 368.59H117.01M155.41 362.95V368.59M177.35 362.95V368.59M193.81 362.95V368.59M40.2 374.23H45.69M106.03 368.59V374.23M106.03 374.23H111.52M122.49 374.23H127.98M127.98 374.23H133.46M133.46 374.23H138.95M138.95 374.23H144.44M155.41 368.59V374.23M155.41 374.23H160.89M177.35 368.59V374.23M193.81 368.59V374.23M193.81 374.23H199.3M45.69 374.23V379.87M45.69 379.87H51.17M111.52 374.23V379.87M122.49 374.23V379.87M144.44 374.23V379.87M160.89 374.23V379.87M155.41 379.87H160.89M177.35 374.23V379.87M177.35 379.87H182.84M182.84 379.87H188.32M51.17 379.87V385.51M111.52 379.87V385.51M106.03 385.51H111.52M122.49 379.87V385.51M144.44 379.87V385.51M155.41 379.87V385.51M188.32 379.87V385.51M182.84 385.51H188.32M51.17 385.51V391.14M45.69 391.14H51.17M106.03 385.51V391.14M122.49 385.51V391.14M144.44 385.51V391.14M155.41 385.51V391.14M155.41 391.14H160.89M182.84 385.51V391.14M182.84 391.14H188.32M45.69 391.14V396.78M106.03 391.14V396.78M106.03 396.78H111.52M122.49 391.14V396.78M122.49 396.78H127.98M144.44 391.14V396.78M160.89 391.14V396.78M188.32 391.14V396.78M45.69 396.78V402.42M111.52 396.78V402.42M127.98 396.78V402.42M127.98 402.42H133.46M144.44 396.78V402.42M144.44 402.42H149.92M160.89 396.78V402.42M160.89 402.42H166.38M188.32 396.78V402.42M182.84 402.42H188.32M45.69 402.42V408.06M111.52 402.42V408.06M111.52 408.06H117.01M133.46 402.42V408.06M149.92 402.42V408.06M166.38 402.42V408.06M182.84 402.42V408.06M182.84 408.06H188.32M45.69 408.06V413.7M117.01 408.06V413.7M117.01 413.7H122.49M133.46 408.06V413.7M133.46 413.7H138.95M149.92 408.06V413.7M166.38 408.06V413.7M171.87 413.7H177.35M188.32 408.06V413.7M45.69 413.7V419.34M122.49 413.7V419.34M138.95 413.7V419.34M138.95 419.34H144.44M149.92 413.7V419.34M166.38 413.7V419.34M171.87 413.7V419.34M166.38 419.34H171.87M177.35 413.7V419.34M177.35 419.34H182.84M188.32 413.7V419.34M182.84 419.34H188.32M45.69 419.34V424.98M45.69 424.98H51.17M122.49 419.34V424.98M122.49 424.98H127.98M144.44 419.34V424.98M149.92 419.34V424.98M51.17 424.98V430.62M127.98 424.98V430.62M127.98 430.62H133.46M144.44 424.98V430.62M149.92 424.98V430.62M144.44 430.62H149.92M149.92 430.62H155.41M155.41 430.62H160.89M160.89 430.62H166.38M166.38 430.62H171.87M171.87 430.62H177.35M177.35 430.62H182.84M182.84 430.62H188.32M188.32 430.62H193.81M193.81 430.62H199.3M51.17 430.62V436.26M51.17 436.26H56.66M133.46 430.62V436.26M149.92 430.62V436.26M40.2 441.89H45.69M45.69 441.89H51.17M56.66 436.26V441.89M133.46 436.26V441.89M133.46 441.89H138.95M149.92 436.26V441.89M149.92 441.89H155.41M51.17 441.89V447.53M56.66 441.89V447.53M138.95 441.89V447.53M155.41 441.89V447.53M40.2 453.17H45.69M51.17 447.53V453.17M45.69 453.17H51.17M56.66 447.53V453.17M138.95 447.53V453.17M138.95 453.17H144.44M155.41 447.53V453.17M56.66 453.17V458.81M56.66 458.81H62.14M62.14 458.81H67.63M144.44 453.17V458.81M138.95 458.81H144.44M155.41 453.17V458.81M40.2 464.45H45.69M67.63 458.81V464.45M122.49 464.45H127.98M127.98 464.45H133.46M138.95 458.81V464.45M133.46 464.45H138.95M155.41 458.81V464.45M45.69 464.45V470.09M45.69 470.09H51.17M51.17 470.09H56.66M67.63 464.45V470.09M67.63 470.09H73.12M73.12 470.09H78.6M78.6 470.09H84.09M84.09 470.09H89.58M89.58 470.09H95.06M95.06 470.09H100.55M106.03 470.09H111.52M111.52 470.09H117.01M122.49 464.45V470.09M117.01 470.09H122.49M155.41 464.45V470.09M149.92 470.09H155.41M56.66 470.09V475.73M78.6 475.73H84.09M84.09 475.73H89.58M100.55 470.09V475.73M106.03 470.09V475.73M100.55 475.73H106.03M133.46 475.73H138.95M138.95 475.73H144.44M149.92 470.09V475.73M144.44 475.73H149.92M40.2 481.37H45.69M45.69 481.37H51.17M56.66 475.73V481.37M51.17 481.37H56.66M67.63 481.37H73.12M78.6 475.73V481.37M78.6 481.37H84.09M89.58 475.73V481.37M84.09 481.37H89.58M117.01 481.37H122.49M122.49 481.37H127.98M133.46 475.73V481.37M127.98 481.37H133.46M155.41 481.37H160.89M160.89 481.37H166.38M166.38 481.37H171.87M171.87 481.37H177.35M177.35 481.37H182.84M67.63 481.37V487.01M73.12 481.37V487.01M67.63 487.01H73.12M73.12 487.01H78.6M78.6 487.01H84.09M84.09 487.01H89.58M89.58 487.01H95.06M117.01 481.37V487.01M155.41 481.37V487.01M182.84 481.37V487.01M45.69 492.64H51.17M51.17 492.64H56.66M56.66 492.64H62.14M73.12 487.01V492.64M67.63 492.64H73.12M95.06 487.01V492.64M117.01 487.01V492.64M117.01 492.64H122.49M155.41 487.01V492.64M166.38 492.64H171.87M182.84 487.01V492.64M182.84 492.64H188.32M45.69 492.64V498.28M62.14 492.64V498.28M67.63 492.64V498.28M62.14 498.28H67.63M95.06 492.64V498.28M95.06 498.28H100.55M122.49 492.64V498.28M155.41 492.64V498.28M166.38 492.64V498.28M171.87 492.64V498.28M188.32 492.64V498.28M45.69 498.28V503.92M100.55 498.28V503.92M100.55 503.92H106.03M106.03 503.92H111.52M122.49 498.28V503.92M155.41 498.28V503.92M166.38 498.28V503.92M171.87 498.28V503.92M171.87 503.92H177.35M188.32 498.28V503.92M45.69 503.92V509.56M40.2 509.56H45.69M111.52 503.92V509.56M122.49 503.92V509.56M155.41 503.92V509.56M166.38 503.92V509.56M166.38 509.56H171.87M177.35 503.92V509.56M171.87 509.56H177.35M188.32 503.92V509.56M111.52 509.56V515.2M122.49 509.56V515.2M155.41 509.56V515.2M188.32 509.56V515.2" stroke="rgba(70,65,20,0.7)" stroke-width="0.6" fill="none"/>
<path d="M210.27 312.2V317.84M232.21 312.2V317.84M226.73 317.84H232.21M210.27 317.84V323.48M226.73 317.84V323.48M221.24 323.48H226.73M210.27 323.48V329.12M221.24 323.48V329.12M221.24 329.12H226.73M210.27 329.12V334.76M226.73 329.12V334.76M226.73 334.76H232.21M210.27 334.76V340.39M210.27 340.39H215.76M232.21 334.76V340.39M215.76 340.39V346.03M215.76 346.03H221.24M232.21 340.39V346.03M221.24 346.03V351.67M232.21 346.03V351.67M221.24 351.67V357.31M232.21 351.67V357.31M221.24 357.31V362.95M232.21 357.31V362.95M232.21 362.95H237.7M221.24 362.95V368.59M221.24 368.59V374.23M199.3 374.23V379.87M221.24 374.23V379.87M199.3 379.87V385.51M221.24 379.87V385.51M199.3 385.51V391.14M221.24 385.51V391.14M199.3 391.14V396.78M221.24 391.14V396.78M199.3 396.78V402.42M221.24 396.78V402.42M199.3 402.42V408.06M221.24 402.42V408.06M199.3 408.06V413.7M221.24 408.06V413.7M199.3 413.7V419.34M221.24 413.7V419.34M199.3 419.34V424.98M221.24 419.34V424.98M199.3 424.98V430.62M221.24 424.98V430.62M221.24 430.62V436.26M221.24 436.26V441.89M221.24 441.89V447.53M221.24 447.53V453.17M221.24 453.17V458.81M221.24 458.81V464.45M221.24 464.45H226.73M226.73 464.45H232.21M232.21 464.45H237.7M221.24 498.28H226.73M226.73 498.28H232.21M232.21 498.28H237.7M221.24 498.28V503.92M221.24 503.92V509.56M232.21 509.56H237.7M221.24 509.56V515.2M232.21 509.56V515.2" stroke="rgba(70,65,20,0.18)" stroke-width="0.6" fill="none"/>
<path d="M138.95 312.2V515.2M40.2 413.7H237.7" stroke="#333" stroke-opacity="0.75" stroke-width="0.7" fill="none"/>
<rect x="40.2" y="312.2" width="197.5" height="203" fill="none" stroke="#888" stroke-width="0.6"/>
<path d="M40.2 515.2v2M64.89 515.2v2M40.2 489.83h-2.5M89.58 515.2v2M40.2 464.45h-2.5M114.26 515.2v2M40.2 439.08h-2.5M138.95 515.2v2M40.2 413.7h-2.5M163.64 515.2v2M40.2 388.33h-2.5M188.32 515.2v2M40.2 362.95h-2.5M213.01 515.2v2M40.2 337.57h-2.5M237.7 515.2v2M40.2 312.2h-2.5" stroke="#555" stroke-width="0.6" fill="none"/>
<g font-size="5.4" fill="#333">
<text x="39.7" y="526.3" text-anchor="middle">-180</text>
<text x="64.89" y="526.3" text-anchor="middle">-135</text>
<text x="35.2" y="491.78" text-anchor="end">-135</text>
<text x="89.28" y="526.3" text-anchor="middle">-90</text>
<text x="35.2" y="466.4" text-anchor="end">-90</text>
<text x="113.96" y="526.3" text-anchor="middle">-45</text>
<text x="35.2" y="441.03" text-anchor="end">-45</text>
<text x="139.55" y="526.3" text-anchor="middle">0</text>
<text x="35.2" y="415.65" text-anchor="end">0</text>
<text x="163.44" y="526.3" text-anchor="middle">45</text>
<text x="35.2" y="390.28" text-anchor="end">45</text>
<text x="187.52" y="526.3" text-anchor="middle">90</text>
<text x="35.2" y="364.9" text-anchor="end">90</text>
<text x="212.51" y="526.3" text-anchor="middle">135</text>
<text x="35.2" y="339.52" text-anchor="end">135</text>
<text x="237" y="526.3" text-anchor="middle">180</text>
<text x="35.2" y="314.15" text-anchor="end">180</text>
</g>
<text x="136.7" y="540.3" font-size="9" font-weight="bold" text-anchor="middle" fill="#111" stroke="#111" stroke-width="0.2">Phi (degrees)</text>
<text transform="translate(20.9 414.6) rotate(-90)" font-size="9" font-weight="bold" text-anchor="middle" fill="#111" stroke="#111" stroke-width="0.25">Psi (degrees)</text>
<text x="139.8" y="301.1" font-size="13.4" text-anchor="middle" fill="#111">Model 3</text>
<text x="8.5" y="290" font-size="15" fill="#111">C</text>
<g class="s" font-size="5.9" fill="#4a2a00">
<text x="50.9" y="319.78" text-anchor="middle">B</text>
<text x="45.58" y="342.17" text-anchor="middle">b</text>
<text x="51.61" y="399.18" text-anchor="middle">a</text>
<text x="78" y="410.17" text-anchor="middle">A</text>
<text x="131.32" y="424.44" text-anchor="middle" font-size="5.3">~a</text>
<text x="131.32" y="342.51" text-anchor="middle" font-size="5.3">~b</text>
<text x="51.17" y="500.4" text-anchor="middle">b</text>
<text x="43.6" y="489.23" text-anchor="middle" font-size="5.3">~b</text>
<text x="164.02" y="353.79" text-anchor="middle" font-size="5.3">~l</text>
<text x="158.1" y="370.76" text-anchor="middle">l</text>
<text x="168.57" y="389.25" text-anchor="middle">L</text>
<text x="158.1" y="489.8" text-anchor="middle" font-size="5.3">~p</text>
<text x="168.57" y="501.19" text-anchor="middle">p</text>
<text x="213.23" y="320.12" text-anchor="middle" font-size="5.3">~b</text>
<text x="231.99" y="325.7" text-anchor="middle">b</text>
<text x="224.31" y="505.81" text-anchor="middle" font-size="5.3">~b</text>
</g>
<path d="M60 312.6a1.0 1.0 0 1 0 2 0a1.0 1.0 0 1 0 -2 0zM116.2 314.4a1.0 1.0 0 1 0 2 0a1.0 1.0 0 1 0 -2 0zM57 319.6a1.0 1.0 0 1 0 2 0a1.0 1.0 0 1 0 -2 0zM70.1 322a1.0 1.0 0 1 0 2 0a1.0 1.0 0 1 0 -2 0zM96.5 318.4a1.0 1.0 0 1 0 2 0a1.0 1.0 0 1 0 -2 0zM55.4 324a1.0 1.0 0 1 0 2 0a1.0 1.0 0 1 0 -2 0zM97.1 323a1.0 1.0 0 1 0 2 0a1.0 1.0 0 1 0 -2 0zM89.1 325.6a1.0 1.0 0 1 0 2 0a1.0 1.0 0 1 0 -2 0zM95.1 327.6a1.0 1.0 0 1 0 2 0a1.0 1.0 0 1 0 -2 0zM102.1 325a1.0 1.0 0 1 0 2 0a1.0 1.0 0 1 0 -2 0zM108.1 323.6a1.0 1.0 0 1 0 2 0a1.0 1.0 0 1 0 -2 0zM107.1 326a1.0 1.0 0 1 0 2 0a1.0 1.0 0 1 0 -2 0zM106.1 330a1.0 1.0 0 1 0 2 0a1.0 1.0 0 1 0 -2 0zM111.1 330a1.0 1.0 0 1 0 2 0a1.0 1.0 0 1 0 -2 0zM114.2 329a1.0 1.0 0 1 0 2 0a1.0 1.0 0 1 0 -2 0zM58 333a1.0 1.0 0 1 0 2 0a1.0 1.0 0 1 0 -2 0zM78.1 333a1.0 1.0 0 1 0 2 0a1.0 1.0 0 1 0 -2 0zM97.1 334a1.0 1.0 0 1 0 2 0a1.0 1.0 0 1 0 -2 0zM83.1 336.1a1.0 1.0 0 1 0 2 0a1.0 1.0 0 1 0 -2 0zM80.1 339.1a1.0 1.0 0 1 0 2 0a1.0 1.0 0 1 0 -2 0zM64.1 337.7a1.0 1.0 0 1 0 2 0a1.0 1.0 0 1 0 -2 0zM67.1 340.1a1.0 1.0 0 1 0 2 0a1.0 1.0 0 1 0 -2 0zM62.1 342.1a1.0 1.0 0 1 0 2 0a1.0 1.0 0 1 0 -2 0zM71.1 342.1a1.0 1.0 0 1 0 2 0a1.0 1.0 0 1 0 -2 0zM98.1 339.7a1.0 1.0 0 1 0 2 0a1.0 1.0 0 1 0 -2 0zM107.1 342.1a1.0 1.0 0 1 0 2 0a1.0 1.0 0 1 0 -2 0zM88.7 344.1a1.0 1.0 0 1 0 2 0a1.0 1.0 0 1 0 -2 0zM96.1 349.1a1.0 1.0 0 1 0 2 0a1.0 1.0 0 1 0 -2 0zM92.7 351.1a1.0 1.0 0 1 0 2 0a1.0 1.0 0 1 0 -2 0zM102.7 350.1a1.0 1.0 0 1 0 2 0a1.0 1.0 0 1 0 -2 0zM111.5 351.5a1.0 1.0 0 1 0 2 0a1.0 1.0 0 1 0 -2 0zM114.2 355.1a1.0 1.0 0 1 0 2 0a1.0 1.0 0 1 0 -2 0zM65.1 353.7a1.0 1.0 0 1 0 2 0a1.0 1.0 0 1 0 -2 0zM48 353.1a1.0 1.0 0 1 0 2 0a1.0 1.0 0 1 0 -2 0zM48 358.1a1.0 1.0 0 1 0 2 0a1.0 1.0 0 1 0 -2 0zM77.7 362.5a1.0 1.0 0 1 0 2 0a1.0 1.0 0 1 0 -2 0zM105.1 369.7a1.0 1.0 0 1 0 2 0a1.0 1.0 0 1 0 -2 0zM62.1 376.7a1.0 1.0 0 1 0 2 0a1.0 1.0 0 1 0 -2 0zM97.1 375.1a1.0 1.0 0 1 0 2 0a1.0 1.0 0 1 0 -2 0zM54 379.1a1.0 1.0 0 1 0 2 0a1.0 1.0 0 1 0 -2 0zM69.1 380.5a1.0 1.0 0 1 0 2 0a1.0 1.0 0 1 0 -2 0zM86.1 379.7a1.0 1.0 0 1 0 2 0a1.0 1.0 0 1 0 -2 0zM96.1 380.1a1.0 1.0 0 1 0 2 0a1.0 1.0 0 1 0 -2 0zM94.1 385.8a1.0 1.0 0 1 0 2 0a1.0 1.0 0 1 0 -2 0zM95.1 387.2a1.0 1.0 0 1 0 2 0a1.0 1.0 0 1 0 -2 0zM65.1 388.6a1.0 1.0 0 1 0 2 0a1.0 1.0 0 1 0 -2 0zM100.1 389.2a1.0 1.0 0 1 0 2 0a1.0 1.0 0 1 0 -2 0zM79.1 391.8a1.0 1.0 0 1 0 2 0a1.0 1.0 0 1 0 -2 0zM100.1 392.2a1.0 1.0 0 1 0 2 0a1.0 1.0 0 1 0 -2 0zM95.1 394.2a1.0 1.0 0 1 0 2 0a1.0 1.0 0 1 0 -2 0zM69.1 401.2a1.0 1.0 0 1 0 2 0a1.0 1.0 0 1 0 -2 0zM62.1 403.8a1.0 1.0 0 1 0 2 0a1.0 1.0 0 1 0 -2 0zM85.1 402.6a1.0 1.0 0 1 0 2 0a1.0 1.0 0 1 0 -2 0zM90.7 401.2a1.0 1.0 0 1 0 2 0a1.0 1.0 0 1 0 -2 0zM65.1 408.2a1.0 1.0 0 1 0 2 0a1.0 1.0 0 1 0 -2 0zM103.1 406.2a1.0 1.0 0 1 0 2 0a1.0 1.0 0 1 0 -2 0zM106.1 408.2a1.0 1.0 0 1 0 2 0a1.0 1.0 0 1 0 -2 0zM61 411.2a1.0 1.0 0 1 0 2 0a1.0 1.0 0 1 0 -2 0zM86.1 408.2a1.0 1.0 0 1 0 2 0a1.0 1.0 0 1 0 -2 0zM97.1 408.2a1.0 1.0 0 1 0 2 0a1.0 1.0 0 1 0 -2 0zM79.1 408.2a1.0 1.0 0 1 0 2 0a1.0 1.0 0 1 0 -2 0zM62.1 414.6a1.0 1.0 0 1 0 2 0a1.0 1.0 0 1 0 -2 0zM71.1 415.2a1.0 1.0 0 1 0 2 0a1.0 1.0 0 1 0 -2 0zM79.1 413.2a1.0 1.0 0 1 0 2 0a1.0 1.0 0 1 0 -2 0zM91.1 414.2a1.0 1.0 0 1 0 2 0a1.0 1.0 0 1 0 -2 0zM97.1 412.2a1.0 1.0 0 1 0 2 0a1.0 1.0 0 1 0 -2 0zM101.1 414.2a1.0 1.0 0 1 0 2 0a1.0 1.0 0 1 0 -2 0zM88.1 418.2a1.0 1.0 0 1 0 2 0a1.0 1.0 0 1 0 -2 0zM62.7 404a1.0 1.0 0 1 0 2 0a1.0 1.0 0 1 0 -2 0zM60.6 411a1.0 1.0 0 1 0 2 0a1.0 1.0 0 1 0 -2 0zM63.7 430.1a1.0 1.0 0 1 0 2 0a1.0 1.0 0 1 0 -2 0zM65.1 435.1a1.0 1.0 0 1 0 2 0a1.0 1.0 0 1 0 -2 0zM69.5 434.1a1.0 1.0 0 1 0 2 0a1.0 1.0 0 1 0 -2 0zM75.5 436.1a1.0 1.0 0 1 0 2 0a1.0 1.0 0 1 0 -2 0zM108.1 408a1.0 1.0 0 1 0 2 0a1.0 1.0 0 1 0 -2 0zM114.2 421.1a1.0 1.0 0 1 0 2 0a1.0 1.0 0 1 0 -2 0zM129.6 441.5a1.0 1.0 0 1 0 2 0a1.0 1.0 0 1 0 -2 0zM135.2 442.7a1.0 1.0 0 1 0 2 0a1.0 1.0 0 1 0 -2 0zM120.2 443.1a1.0 1.0 0 1 0 2 0a1.0 1.0 0 1 0 -2 0zM100.1 457.5a1.0 1.0 0 1 0 2 0a1.0 1.0 0 1 0 -2 0zM106.1 458.7a1.0 1.0 0 1 0 2 0a1.0 1.0 0 1 0 -2 0zM88.7 441.5a1.0 1.0 0 1 0 2 0a1.0 1.0 0 1 0 -2 0zM93.1 444.1a1.0 1.0 0 1 0 2 0a1.0 1.0 0 1 0 -2 0zM100.7 448.1a1.0 1.0 0 1 0 2 0a1.0 1.0 0 1 0 -2 0zM54.6 498.7a1.0 1.0 0 1 0 2 0a1.0 1.0 0 1 0 -2 0zM64.1 506.1a1.0 1.0 0 1 0 2 0a1.0 1.0 0 1 0 -2 0zM85.5 502.1a1.0 1.0 0 1 0 2 0a1.0 1.0 0 1 0 -2 0zM81.5 509.5a1.0 1.0 0 1 0 2 0a1.0 1.0 0 1 0 -2 0zM93.1 503.7a1.0 1.0 0 1 0 2 0a1.0 1.0 0 1 0 -2 0zM98.1 507.7a1.0 1.0 0 1 0 2 0a1.0 1.0 0 1 0 -2 0zM174 314.4a1.0 1.0 0 1 0 2 0a1.0 1.0 0 1 0 -2 0zM179.8 334.2a1.0 1.0 0 1 0 2 0a1.0 1.0 0 1 0 -2 0zM191.3 378.4a1.0 1.0 0 1 0 2 0a1.0 1.0 0 1 0 -2 0zM163.6 390.5a1.0 1.0 0 1 0 2 0a1.0 1.0 0 1 0 -2 0zM164.2 399.8a1.0 1.0 0 1 0 2 0a1.0 1.0 0 1 0 -2 0zM170.4 400.2a1.0 1.0 0 1 0 2 0a1.0 1.0 0 1 0 -2 0zM173.1 399.8a1.0 1.0 0 1 0 2 0a1.0 1.0 0 1 0 -2 0zM166.3 404a1.0 1.0 0 1 0 2 0a1.0 1.0 0 1 0 -2 0zM195 410.3a1.0 1.0 0 1 0 2 0a1.0 1.0 0 1 0 -2 0zM182.5 415.4a1.0 1.0 0 1 0 2 0a1.0 1.0 0 1 0 -2 0zM179.4 444.4a1.0 1.0 0 1 0 2 0a1.0 1.0 0 1 0 -2 0zM189.2 457.5a1.0 1.0 0 1 0 2 0a1.0 1.0 0 1 0 -2 0zM180.9 498.3a1.0 1.0 0 1 0 2 0a1.0 1.0 0 1 0 -2 0zM164.8 504.6a1.0 1.0 0 1 0 2 0a1.0 1.0 0 1 0 -2 0z" fill="#000"/>
<path d="M103.69 441.75a1.0 1.0 0 1 0 2 0a1.0 1.0 0 1 0 -2 0zM100.51 438.65a1.0 1.0 0 1 0 2 0a1.0 1.0 0 1 0 -2 0zM102.6 435.5a1.0 1.0 0 1 0 2 0a1.0 1.0 0 1 0 -2 0zM109.29 441.56a1.0 1.0 0 1 0 2 0a1.0 1.0 0 1 0 -2 0zM103.27 439.56a1.0 1.0 0 1 0 2 0a1.0 1.0 0 1 0 -2 0zM106.89 439.25a1.0 1.0 0 1 0 2 0a1.0 1.0 0 1 0 -2 0zM105.22 434.69a1.0 1.0 0 1 0 2 0a1.0 1.0 0 1 0 -2 0zM102.26 434.64a1.0 1.0 0 1 0 2 0a1.0 1.0 0 1 0 -2 0zM99.27 428.72a1.0 1.0 0 1 0 2 0a1.0 1.0 0 1 0 -2 0zM98.36 432.72a1.0 1.0 0 1 0 2 0a1.0 1.0 0 1 0 -2 0zM102.87 435.47a1.0 1.0 0 1 0 2 0a1.0 1.0 0 1 0 -2 0zM103.61 432.29a1.0 1.0 0 1 0 2 0a1.0 1.0 0 1 0 -2 0zM103.15 437.7a1.0 1.0 0 1 0 2 0a1.0 1.0 0 1 0 -2 0zM105.73 435.5a1.0 1.0 0 1 0 2 0a1.0 1.0 0 1 0 -2 0zM102.16 428.83a1.0 1.0 0 1 0 2 0a1.0 1.0 0 1 0 -2 0zM101.84 427.95a1.0 1.0 0 1 0 2 0a1.0 1.0 0 1 0 -2 0zM99 438.03a1.0 1.0 0 1 0 2 0a1.0 1.0 0 1 0 -2 0zM96.57 435.28a1.0 1.0 0 1 0 2 0a1.0 1.0 0 1 0 -2 0zM104.42 436.55a1.0 1.0 0 1 0 2 0a1.0 1.0 0 1 0 -2 0zM104.82 439.88a1.0 1.0 0 1 0 2 0a1.0 1.0 0 1 0 -2 0zM106.64 438.36a1.0 1.0 0 1 0 2 0a1.0 1.0 0 1 0 -2 0zM101.56 433.56a1.0 1.0 0 1 0 2 0a1.0 1.0 0 1 0 -2 0zM100.34 434.77a1.0 1.0 0 1 0 2 0a1.0 1.0 0 1 0 -2 0zM100.96 439.24a1.0 1.0 0 1 0 2 0a1.0 1.0 0 1 0 -2 0zM97.6 429.1a1.0 1.0 0 1 0 2 0a1.0 1.0 0 1 0 -2 0zM100.45 427.39a1.0 1.0 0 1 0 2 0a1.0 1.0 0 1 0 -2 0zM109.3 432.23a1.0 1.0 0 1 0 2 0a1.0 1.0 0 1 0 -2 0zM102.52 434.49a1.0 1.0 0 1 0 2 0a1.0 1.0 0 1 0 -2 0zM108.53 433.26a1.0 1.0 0 1 0 2 0a1.0 1.0 0 1 0 -2 0zM106.72 436.59a1.0 1.0 0 1 0 2 0a1.0 1.0 0 1 0 -2 0zM102.92 434.23a1.0 1.0 0 1 0 2 0a1.0 1.0 0 1 0 -2 0zM105.39 434.21a1.0 1.0 0 1 0 2 0a1.0 1.0 0 1 0 -2 0zM103.16 438.12a1.0 1.0 0 1 0 2 0a1.0 1.0 0 1 0 -2 0zM109.1 432.12a1.0 1.0 0 1 0 2 0a1.0 1.0 0 1 0 -2 0zM108.13 443.65a1.0 1.0 0 1 0 2 0a1.0 1.0 0 1 0 -2 0zM101.9 437.09a1.0 1.0 0 1 0 2 0a1.0 1.0 0 1 0 -2 0zM101.96 442.01a1.0 1.0 0 1 0 2 0a1.0 1.0 0 1 0 -2 0zM104.05 436.66a1.0 1.0 0 1 0 2 0a1.0 1.0 0 1 0 -2 0zM102.69 435.79a1.0 1.0 0 1 0 2 0a1.0 1.0 0 1 0 -2 0zM102.85 433.43a1.0 1.0 0 1 0 2 0a1.0 1.0 0 1 0 -2 0zM109.78 434.37a1.0 1.0 0 1 0 2 0a1.0 1.0 0 1 0 -2 0zM92.22 428.98a1.0 1.0 0 1 0 2 0a1.0 1.0 0 1 0 -2 0zM102.95 438.05a1.0 1.0 0 1 0 2 0a1.0 1.0 0 1 0 -2 0zM102.77 436.03a1.0 1.0 0 1 0 2 0a1.0 1.0 0 1 0 -2 0zM104.43 441.22a1.0 1.0 0 1 0 2 0a1.0 1.0 0 1 0 -2 0zM102.01 434.7a1.0 1.0 0 1 0 2 0a1.0 1.0 0 1 0 -2 0zM109.42 443a1.0 1.0 0 1 0 2 0a1.0 1.0 0 1 0 -2 0zM100.35 443.38a1.0 1.0 0 1 0 2 0a1.0 1.0 0 1 0 -2 0zM105.81 436.49a1.0 1.0 0 1 0 2 0a1.0 1.0 0 1 0 -2 0zM99.76 435.62a1.0 1.0 0 1 0 2 0a1.0 1.0 0 1 0 -2 0zM100.82 431.41a1.0 1.0 0 1 0 2 0a1.0 1.0 0 1 0 -2 0zM99.38 432.44a1.0 1.0 0 1 0 2 0a1.0 1.0 0 1 0 -2 0zM106.83 437.75a1.0 1.0 0 1 0 2 0a1.0 1.0 0 1 0 -2 0zM98.91 436.39a1.0 1.0 0 1 0 2 0a1.0 1.0 0 1 0 -2 0zM103.6 440.21a1.0 1.0 0 1 0 2 0a1.0 1.0 0 1 0 -2 0zM107.13 438.91a1.0 1.0 0 1 0 2 0a1.0 1.0 0 1 0 -2 0zM102.95 436.53a1.0 1.0 0 1 0 2 0a1.0 1.0 0 1 0 -2 0zM99.88 437.05a1.0 1.0 0 1 0 2 0a1.0 1.0 0 1 0 -2 0zM107.65 440.51a1.0 1.0 0 1 0 2 0a1.0 1.0 0 1 0 -2 0zM102.66 435.56a1.0 1.0 0 1 0 2 0a1.0 1.0 0 1 0 -2 0zM100.98 432.44a1.0 1.0 0 1 0 2 0a1.0 1.0 0 1 0 -2 0zM102.16 433.1a1.0 1.0 0 1 0 2 0a1.0 1.0 0 1 0 -2 0zM102.04 430.34a1.0 1.0 0 1 0 2 0a1.0 1.0 0 1 0 -2 0zM104.49 437.91a1.0 1.0 0 1 0 2 0a1.0 1.0 0 1 0 -2 0zM99.83 426.22a1.0 1.0 0 1 0 2 0a1.0 1.0 0 1 0 -2 0zM103.38 441a1.0 1.0 0 1 0 2 0a1.0 1.0 0 1 0 -2 0zM101.13 433.7a1.0 1.0 0 1 0 2 0a1.0 1.0 0 1 0 -2 0zM101.64 438.18a1.0 1.0 0 1 0 2 0a1.0 1.0 0 1 0 -2 0zM100.56 438.66a1.0 1.0 0 1 0 2 0a1.0 1.0 0 1 0 -2 0zM102.46 439.73a1.0 1.0 0 1 0 2 0a1.0 1.0 0 1 0 -2 0zM103.5 436.23a1.0 1.0 0 1 0 2 0a1.0 1.0 0 1 0 -2 0zM98.82 431.4a1.0 1.0 0 1 0 2 0a1.0 1.0 0 1 0 -2 0zM102.59 438.85a1.0 1.0 0 1 0 2 0a1.0 1.0 0 1 0 -2 0zM104.16 434.98a1.0 1.0 0 1 0 2 0a1.0 1.0 0 1 0 -2 0zM104.67 441.45a1.0 1.0 0 1 0 2 0a1.0 1.0 0 1 0 -2 0zM102.94 435.09a1.0 1.0 0 1 0 2 0a1.0 1.0 0 1 0 -2 0zM102.18 439.12a1.0 1.0 0 1 0 2 0a1.0 1.0 0 1 0 -2 0zM105.07 434.75a1.0 1.0 0 1 0 2 0a1.0 1.0 0 1 0 -2 0zM104.56 436.04a1.0 1.0 0 1 0 2 0a1.0 1.0 0 1 0 -2 0zM101.07 439.93a1.0 1.0 0 1 0 2 0a1.0 1.0 0 1 0 -2 0zM105.95 436.09a1.0 1.0 0 1 0 2 0a1.0 1.0 0 1 0 -2 0zM103.65 438.99a1.0 1.0 0 1 0 2 0a1.0 1.0 0 1 0 -2 0zM101.42 435.22a1.0 1.0 0 1 0 2 0a1.0 1.0 0 1 0 -2 0zM105.47 431.89a1.0 1.0 0 1 0 2 0a1.0 1.0 0 1 0 -2 0zM104.42 440.38a1.0 1.0 0 1 0 2 0a1.0 1.0 0 1 0 -2 0zM104.96 433.18a1.0 1.0 0 1 0 2 0a1.0 1.0 0 1 0 -2 0zM104.39 434.53a1.0 1.0 0 1 0 2 0a1.0 1.0 0 1 0 -2 0zM105.17 440.4a1.0 1.0 0 1 0 2 0a1.0 1.0 0 1 0 -2 0zM104.07 434.67a1.0 1.0 0 1 0 2 0a1.0 1.0 0 1 0 -2 0zM101.57 438.87a1.0 1.0 0 1 0 2 0a1.0 1.0 0 1 0 -2 0zM100.61 436.92a1.0 1.0 0 1 0 2 0a1.0 1.0 0 1 0 -2 0zM104.99 437.06a1.0 1.0 0 1 0 2 0a1.0 1.0 0 1 0 -2 0zM110.82 442.28a1.0 1.0 0 1 0 2 0a1.0 1.0 0 1 0 -2 0zM110.05 434.17a1.0 1.0 0 1 0 2 0a1.0 1.0 0 1 0 -2 0zM96.44 435.86a1.0 1.0 0 1 0 2 0a1.0 1.0 0 1 0 -2 0zM105.37 437.2a1.0 1.0 0 1 0 2 0a1.0 1.0 0 1 0 -2 0zM103.23 429.97a1.0 1.0 0 1 0 2 0a1.0 1.0 0 1 0 -2 0zM101.45 431.92a1.0 1.0 0 1 0 2 0a1.0 1.0 0 1 0 -2 0zM102.71 439.76a1.0 1.0 0 1 0 2 0a1.0 1.0 0 1 0 -2 0zM103.56 438.46a1.0 1.0 0 1 0 2 0a1.0 1.0 0 1 0 -2 0zM101.24 433.95a1.0 1.0 0 1 0 2 0a1.0 1.0 0 1 0 -2 0zM103.75 436.21a1.0 1.0 0 1 0 2 0a1.0 1.0 0 1 0 -2 0zM107.32 436.47a1.0 1.0 0 1 0 2 0a1.0 1.0 0 1 0 -2 0zM109.26 437.4a1.0 1.0 0 1 0 2 0a1.0 1.0 0 1 0 -2 0zM106.68 436.41a1.0 1.0 0 1 0 2 0a1.0 1.0 0 1 0 -2 0zM108.51 440.96a1.0 1.0 0 1 0 2 0a1.0 1.0 0 1 0 -2 0zM104.63 440.54a1.0 1.0 0 1 0 2 0a1.0 1.0 0 1 0 -2 0zM101.43 431.88a1.0 1.0 0 1 0 2 0a1.0 1.0 0 1 0 -2 0zM97.12 437.18a1.0 1.0 0 1 0 2 0a1.0 1.0 0 1 0 -2 0zM101.24 433.38a1.0 1.0 0 1 0 2 0a1.0 1.0 0 1 0 -2 0zM103.3 444.17a1.0 1.0 0 1 0 2 0a1.0 1.0 0 1 0 -2 0zM98.04 434.28a1.0 1.0 0 1 0 2 0a1.0 1.0 0 1 0 -2 0zM102.17 438.1a1.0 1.0 0 1 0 2 0a1.0 1.0 0 1 0 -2 0zM97.82 431.78a1.0 1.0 0 1 0 2 0a1.0 1.0 0 1 0 -2 0zM106.01 444.44a1.0 1.0 0 1 0 2 0a1.0 1.0 0 1 0 -2 0zM108.35 437.24a1.0 1.0 0 1 0 2 0a1.0 1.0 0 1 0 -2 0zM103.57 436.72a1.0 1.0 0 1 0 2 0a1.0 1.0 0 1 0 -2 0zM99.13 428.87a1.0 1.0 0 1 0 2 0a1.0 1.0 0 1 0 -2 0zM105.75 439.48a1.0 1.0 0 1 0 2 0a1.0 1.0 0 1 0 -2 0zM102.96 441.12a1.0 1.0 0 1 0 2 0a1.0 1.0 0 1 0 -2 0zM100.29 436.81a1.0 1.0 0 1 0 2 0a1.0 1.0 0 1 0 -2 0zM103.43 436.81a1.0 1.0 0 1 0 2 0a1.0 1.0 0 1 0 -2 0zM104.92 438.67a1.0 1.0 0 1 0 2 0a1.0 1.0 0 1 0 -2 0zM104.23 438.53a1.0 1.0 0 1 0 2 0a1.0 1.0 0 1 0 -2 0zM109.41 439.94a1.0 1.0 0 1 0 2 0a1.0 1.0 0 1 0 -2 0zM106.54 441.34a1.0 1.0 0 1 0 2 0a1.0 1.0 0 1 0 -2 0zM102.32 439.16a1.0 1.0 0 1 0 2 0a1.0 1.0 0 1 0 -2 0zM100.74 439.42a1.0 1.0 0 1 0 2 0a1.0 1.0 0 1 0 -2 0zM100.89 433.52a1.0 1.0 0 1 0 2 0a1.0 1.0 0 1 0 -2 0zM104.4 440.71a1.0 1.0 0 1 0 2 0a1.0 1.0 0 1 0 -2 0zM106.21 442.16a1.0 1.0 0 1 0 2 0a1.0 1.0 0 1 0 -2 0zM102.76 433.09a1.0 1.0 0 1 0 2 0a1.0 1.0 0 1 0 -2 0zM105.1 439.25a1.0 1.0 0 1 0 2 0a1.0 1.0 0 1 0 -2 0zM100.45 438.54a1.0 1.0 0 1 0 2 0a1.0 1.0 0 1 0 -2 0zM104.02 433.93a1.0 1.0 0 1 0 2 0a1.0 1.0 0 1 0 -2 0zM104.77 433.11a1.0 1.0 0 1 0 2 0a1.0 1.0 0 1 0 -2 0zM100.68 436.62a1.0 1.0 0 1 0 2 0a1.0 1.0 0 1 0 -2 0zM98.57 433.87a1.0 1.0 0 1 0 2 0a1.0 1.0 0 1 0 -2 0zM99.21 436.84a1.0 1.0 0 1 0 2 0a1.0 1.0 0 1 0 -2 0zM101.15 436.14a1.0 1.0 0 1 0 2 0a1.0 1.0 0 1 0 -2 0zM98.74 432.59a1.0 1.0 0 1 0 2 0a1.0 1.0 0 1 0 -2 0zM106.34 440.65a1.0 1.0 0 1 0 2 0a1.0 1.0 0 1 0 -2 0zM97.7 436.5a1.0 1.0 0 1 0 2 0a1.0 1.0 0 1 0 -2 0zM106.17 437.51a1.0 1.0 0 1 0 2 0a1.0 1.0 0 1 0 -2 0zM107.79 436.12a1.0 1.0 0 1 0 2 0a1.0 1.0 0 1 0 -2 0zM103.14 440.87a1.0 1.0 0 1 0 2 0a1.0 1.0 0 1 0 -2 0zM107.46 444.41a1.0 1.0 0 1 0 2 0a1.0 1.0 0 1 0 -2 0zM100.01 428.23a1.0 1.0 0 1 0 2 0a1.0 1.0 0 1 0 -2 0zM104.61 432.61a1.0 1.0 0 1 0 2 0a1.0 1.0 0 1 0 -2 0zM102.99 432.06a1.0 1.0 0 1 0 2 0a1.0 1.0 0 1 0 -2 0zM106.69 442.15a1.0 1.0 0 1 0 2 0a1.0 1.0 0 1 0 -2 0zM105.12 438.23a1.0 1.0 0 1 0 2 0a1.0 1.0 0 1 0 -2 0zM103.54 436.01a1.0 1.0 0 1 0 2 0a1.0 1.0 0 1 0 -2 0zM104.59 438.71a1.0 1.0 0 1 0 2 0a1.0 1.0 0 1 0 -2 0zM104.82 436.4a1.0 1.0 0 1 0 2 0a1.0 1.0 0 1 0 -2 0zM109.29 442.01a1.0 1.0 0 1 0 2 0a1.0 1.0 0 1 0 -2 0zM107.72 444.77a1.0 1.0 0 1 0 2 0a1.0 1.0 0 1 0 -2 0zM100.67 429.02a1.0 1.0 0 1 0 2 0a1.0 1.0 0 1 0 -2 0zM107.3 438.23a1.0 1.0 0 1 0 2 0a1.0 1.0 0 1 0 -2 0zM103.65 436.23a1.0 1.0 0 1 0 2 0a1.0 1.0 0 1 0 -2 0zM103.81 432.95a1.0 1.0 0 1 0 2 0a1.0 1.0 0 1 0 -2 0zM103.08 435.1a1.0 1.0 0 1 0 2 0a1.0 1.0 0 1 0 -2 0zM103.35 428.47a1.0 1.0 0 1 0 2 0a1.0 1.0 0 1 0 -2 0zM105.94 439.93a1.0 1.0 0 1 0 2 0a1.0 1.0 0 1 0 -2 0zM98.05 430.7a1.0 1.0 0 1 0 2 0a1.0 1.0 0 1 0 -2 0zM103.5 439.35a1.0 1.0 0 1 0 2 0a1.0 1.0 0 1 0 -2 0zM103.4 442.03a1.0 1.0 0 1 0 2 0a1.0 1.0 0 1 0 -2 0zM103.47 433.41a1.0 1.0 0 1 0 2 0a1.0 1.0 0 1 0 -2 0zM101.3 438.28a1.0 1.0 0 1 0 2 0a1.0 1.0 0 1 0 -2 0zM101.5 438.77a1.0 1.0 0 1 0 2 0a1.0 1.0 0 1 0 -2 0zM106.56 441.28a1.0 1.0 0 1 0 2 0a1.0 1.0 0 1 0 -2 0zM106.55 438.5a1.0 1.0 0 1 0 2 0a1.0 1.0 0 1 0 -2 0zM103.37 434.83a1.0 1.0 0 1 0 2 0a1.0 1.0 0 1 0 -2 0zM101.51 430.03a1.0 1.0 0 1 0 2 0a1.0 1.0 0 1 0 -2 0zM101.68 431.94a1.0 1.0 0 1 0 2 0a1.0 1.0 0 1 0 -2 0zM98.97 434.53a1.0 1.0 0 1 0 2 0a1.0 1.0 0 1 0 -2 0zM104.81 436.71a1.0 1.0 0 1 0 2 0a1.0 1.0 0 1 0 -2 0zM107.64 443.3a1.0 1.0 0 1 0 2 0a1.0 1.0 0 1 0 -2 0zM106.64 437a1.0 1.0 0 1 0 2 0a1.0 1.0 0 1 0 -2 0zM98.77 435.9a1.0 1.0 0 1 0 2 0a1.0 1.0 0 1 0 -2 0zM91 428.82a1.0 1.0 0 1 0 2 0a1.0 1.0 0 1 0 -2 0zM91.71 432.61a1.0 1.0 0 1 0 2 0a1.0 1.0 0 1 0 -2 0zM87.13 425.99a1.0 1.0 0 1 0 2 0a1.0 1.0 0 1 0 -2 0zM83.18 404.84a1.0 1.0 0 1 0 2 0a1.0 1.0 0 1 0 -2 0zM86.11 430.56a1.0 1.0 0 1 0 2 0a1.0 1.0 0 1 0 -2 0zM78.11 422.46a1.0 1.0 0 1 0 2 0a1.0 1.0 0 1 0 -2 0zM84.58 417.69a1.0 1.0 0 1 0 2 0a1.0 1.0 0 1 0 -2 0zM89.28 424.51a1.0 1.0 0 1 0 2 0a1.0 1.0 0 1 0 -2 0zM82.67 419.77a1.0 1.0 0 1 0 2 0a1.0 1.0 0 1 0 -2 0zM91.88 430.06a1.0 1.0 0 1 0 2 0a1.0 1.0 0 1 0 -2 0zM84.1 429.61a1.0 1.0 0 1 0 2 0a1.0 1.0 0 1 0 -2 0zM101.4 445.99a1.0 1.0 0 1 0 2 0a1.0 1.0 0 1 0 -2 0zM80.28 418.55a1.0 1.0 0 1 0 2 0a1.0 1.0 0 1 0 -2 0zM76.92 417.7a1.0 1.0 0 1 0 2 0a1.0 1.0 0 1 0 -2 0zM92.61 418.09a1.0 1.0 0 1 0 2 0a1.0 1.0 0 1 0 -2 0zM78.69 417.63a1.0 1.0 0 1 0 2 0a1.0 1.0 0 1 0 -2 0zM93.08 420.63a1.0 1.0 0 1 0 2 0a1.0 1.0 0 1 0 -2 0zM87.3 406.1a1.0 1.0 0 1 0 2 0a1.0 1.0 0 1 0 -2 0zM84.4 421a1.0 1.0 0 1 0 2 0a1.0 1.0 0 1 0 -2 0zM89.99 433.54a1.0 1.0 0 1 0 2 0a1.0 1.0 0 1 0 -2 0zM81.58 404.19a1.0 1.0 0 1 0 2 0a1.0 1.0 0 1 0 -2 0zM91.94 421.16a1.0 1.0 0 1 0 2 0a1.0 1.0 0 1 0 -2 0zM90.86 428.68a1.0 1.0 0 1 0 2 0a1.0 1.0 0 1 0 -2 0zM92.9 434.51a1.0 1.0 0 1 0 2 0a1.0 1.0 0 1 0 -2 0zM97.79 418.15a1.0 1.0 0 1 0 2 0a1.0 1.0 0 1 0 -2 0zM88.59 435.27a1.0 1.0 0 1 0 2 0a1.0 1.0 0 1 0 -2 0zM86.35 427.38a1.0 1.0 0 1 0 2 0a1.0 1.0 0 1 0 -2 0zM88.64 420.14a1.0 1.0 0 1 0 2 0a1.0 1.0 0 1 0 -2 0zM99.29 436.05a1.0 1.0 0 1 0 2 0a1.0 1.0 0 1 0 -2 0zM87.42 427.68a1.0 1.0 0 1 0 2 0a1.0 1.0 0 1 0 -2 0zM80.46 413.04a1.0 1.0 0 1 0 2 0a1.0 1.0 0 1 0 -2 0zM94.86 426.97a1.0 1.0 0 1 0 2 0a1.0 1.0 0 1 0 -2 0zM82.1 421.44a1.0 1.0 0 1 0 2 0a1.0 1.0 0 1 0 -2 0zM91.14 432.41a1.0 1.0 0 1 0 2 0a1.0 1.0 0 1 0 -2 0zM95.22 425.22a1.0 1.0 0 1 0 2 0a1.0 1.0 0 1 0 -2 0zM85.85 420.13a1.0 1.0 0 1 0 2 0a1.0 1.0 0 1 0 -2 0zM87.51 431.21a1.0 1.0 0 1 0 2 0a1.0 1.0 0 1 0 -2 0zM99.32 438.05a1.0 1.0 0 1 0 2 0a1.0 1.0 0 1 0 -2 0zM91.47 423.03a1.0 1.0 0 1 0 2 0a1.0 1.0 0 1 0 -2 0zM94.87 424.54a1.0 1.0 0 1 0 2 0a1.0 1.0 0 1 0 -2 0zM90.54 413.54a1.0 1.0 0 1 0 2 0a1.0 1.0 0 1 0 -2 0zM86.25 430.27a1.0 1.0 0 1 0 2 0a1.0 1.0 0 1 0 -2 0zM82.33 409.42a1.0 1.0 0 1 0 2 0a1.0 1.0 0 1 0 -2 0zM87.93 432.77a1.0 1.0 0 1 0 2 0a1.0 1.0 0 1 0 -2 0zM98.43 426.73a1.0 1.0 0 1 0 2 0a1.0 1.0 0 1 0 -2 0zM85.89 420.34a1.0 1.0 0 1 0 2 0a1.0 1.0 0 1 0 -2 0zM82.95 419.38a1.0 1.0 0 1 0 2 0a1.0 1.0 0 1 0 -2 0zM87.05 412.51a1.0 1.0 0 1 0 2 0a1.0 1.0 0 1 0 -2 0zM85.23 419a1.0 1.0 0 1 0 2 0a1.0 1.0 0 1 0 -2 0zM83.41 412.44a1.0 1.0 0 1 0 2 0a1.0 1.0 0 1 0 -2 0z" fill="#000"/>
<g class="s" font-size="4.85" fill="#e8202a">
<circle cx="128.2" cy="349.1" r="1.1" fill="#dc1420"/>
<text x="128.5" y="346.2" text-anchor="middle">ARG 170 (A)</text>
<circle cx="121.8" cy="382.1" r="1.1" fill="#dc1420"/>
<text x="122.3" y="379.7" text-anchor="middle">PRO 195 (A)</text>
<circle cx="60.4" cy="468.1" r="1.1" fill="#dc1420"/>
<text x="60.6" y="465.6" text-anchor="middle">LEU 32 (A)</text>
<circle cx="119.6" cy="511.1" r="1.1" fill="#dc1420"/>
<text x="119.8" y="508.6" text-anchor="middle">PRO 342 (A)</text>
<circle cx="163.7" cy="313.3" r="1.1" fill="#dc1420"/>
<text x="163" y="310.7" text-anchor="middle">ALA 203 (A)</text>
<circle cx="171" cy="340.8" r="1.1" fill="#dc1420"/>
<text x="170.4" y="338.6" text-anchor="middle">GLN 352 (A)</text>
<circle cx="193.3" cy="340.8" r="1.1" fill="#dc1420"/>
<text x="193.8" y="338.6" text-anchor="middle">GLN 346 (A)</text>
<circle cx="171.4" cy="409.2" r="1.1" fill="#dc1420"/>
<text x="171.4" y="406.9" text-anchor="middle">SER 289 (A)</text>
<circle cx="168.3" cy="419.4" r="1.1" fill="#dc1420"/>
<text x="168.3" y="416.9" text-anchor="middle">ARG 159 (A)</text>
<circle cx="175" cy="425.8" r="1.1" fill="#dc1420"/>
<text x="174.5" y="423.2" text-anchor="middle">ARG 206 (A)</text>
<circle cx="173.1" cy="431.9" r="1.1" fill="#dc1420"/>
<text x="173.5" y="429.4" text-anchor="middle">TRP 204 (A)</text>
<circle cx="178.7" cy="434.6" r="1.1" fill="#dc1420"/>
<text x="179.2" y="432.8" text-anchor="middle">ASN 297(A)</text>
<circle cx="170.4" cy="452.7" r="1.1" fill="#dc1420"/>
<text x="169.9" y="450.2" text-anchor="middle">ALA 202 (A)</text>
<circle cx="171.8" cy="457.1" r="1.1" fill="#dc1420"/>
<text x="170.9" y="455" text-anchor="middle">LEU 88 (A)</text>
<circle cx="225.2" cy="450.2" r="1.1" fill="#dc1420"/>
<text x="225" y="447.6" text-anchor="middle">LEU 359 (A)</text>
</g>
</g>
<g>
<path d="M298.25 311.55H303.58V317.3H298.25ZM355.76 311.55H371.54V317.3H355.76ZM481.22 311.55H486.55V317.3H481.22ZM298.25 317.2H303.58V322.94H298.25ZM360.98 317.2H376.77V322.94H360.98ZM475.99 317.2H486.55V322.94H475.99ZM298.25 322.84H303.58V328.59H298.25ZM360.98 322.84H376.77V328.59H360.98ZM470.77 322.84H486.55V328.59H470.77ZM298.25 328.49H308.81V334.24H298.25ZM366.21 328.49H387.22V334.24H366.21ZM475.99 328.49H486.55V334.24H475.99ZM298.25 334.14H308.81V339.89H298.25ZM371.44 334.14H381.99V339.89H371.44ZM481.22 334.14H486.55V339.89H481.22ZM298.25 339.79H308.81V345.53H298.25ZM366.21 339.79H381.99V345.53H366.21ZM481.22 339.79H486.55V345.53H481.22ZM298.25 345.43H314.03V351.18H298.25ZM360.98 345.43H381.99V351.18H360.98ZM481.22 345.43H486.55V351.18H481.22ZM298.25 351.08H319.26V356.83H298.25ZM355.76 351.08H387.22V356.83H355.76ZM481.22 351.08H486.55V356.83H481.22ZM298.25 356.73H324.49V362.48H298.25ZM329.62 356.73H340.17V362.48H329.62ZM345.3 356.73H387.22V362.48H345.3ZM423.72 356.73H434.27V362.48H423.72ZM481.22 356.73H486.55V362.48H481.22ZM298.25 362.38H371.54V368.12H298.25ZM408.03 362.38H429.04V368.12H408.03ZM298.25 368.02H361.08V373.77H298.25ZM408.03 368.02H429.04V373.77H408.03ZM303.48 373.67H366.31V379.42H303.48ZM413.26 373.67H429.04V379.42H413.26ZM308.71 379.32H366.31V385.06H308.71ZM408.03 379.32H439.5V385.06H408.03ZM408.03 384.96H418.59V390.71H408.03ZM423.72 384.96H434.27V390.71H423.72ZM413.26 390.61H418.59V396.36H413.26ZM428.94 390.61H439.5V396.36H428.94ZM413.26 396.26H439.5V402.01H413.26ZM418.49 401.91H434.27V407.65H418.49ZM418.49 407.55H439.5V413.3H418.49ZM418.49 413.2H423.82V418.95H418.49ZM428.94 413.2H439.5V418.95H428.94ZM324.39 464.02H376.77V469.77H324.39ZM355.76 469.67H361.08V475.42H355.76ZM334.84 475.32H345.4V481.07H334.84ZM324.39 480.97H329.72V486.71H324.39ZM329.62 486.61H350.63V492.36H329.62ZM303.48 492.26H319.26V498.01H303.48ZM324.39 492.26H350.63V498.01H324.39ZM418.49 492.26H423.82V498.01H418.49ZM303.48 497.91H355.86V503.66H303.48ZM418.49 497.91H423.82V503.66H418.49ZM303.48 503.56H366.31V509.3H303.48ZM418.49 503.56H429.04V509.3H418.49ZM298.25 509.2H366.31V514.95H298.25ZM481.22 509.2H486.55V514.95H481.22Z" fill="#ffff00"/>
<path d="M371.44 311.55H381.99V317.3H371.44ZM376.67 317.2H387.22V322.94H376.67ZM376.67 322.84H397.68V328.59H376.67ZM387.12 328.49H397.68V334.24H387.12ZM381.89 334.14H397.68V339.89H381.89ZM381.89 339.79H397.68V345.53H381.89ZM381.89 345.43H397.68V351.18H381.89ZM387.12 351.08H397.68V356.83H387.12ZM387.12 356.73H397.68V362.48H387.12ZM371.44 362.38H397.68V368.12H371.44ZM360.98 368.02H397.68V373.77H360.98ZM298.25 373.67H303.58V379.42H298.25ZM366.21 373.67H376.77V379.42H366.21ZM298.25 379.32H308.81V385.06H298.25ZM366.21 379.32H376.77V385.06H366.21ZM303.48 464.02H324.49V469.77H303.48ZM376.67 464.02H397.68V469.77H376.67ZM313.93 469.67H355.86V475.42H313.93ZM360.98 469.67H397.68V475.42H360.98ZM313.93 475.32H334.94V481.07H313.93ZM345.3 475.32H387.22V481.07H345.3ZM298.25 480.97H324.49V486.71H298.25ZM329.62 480.97H371.54V486.71H329.62ZM298.25 486.61H329.72V492.36H298.25ZM350.53 486.61H371.54V492.36H350.53ZM298.25 492.26H303.58V498.01H298.25ZM319.16 492.26H324.49V498.01H319.16ZM350.53 492.26H376.77V498.01H350.53ZM298.25 497.91H303.58V503.66H298.25ZM355.76 497.91H376.77V503.66H355.76ZM298.25 503.56H303.58V509.3H298.25ZM366.21 503.56H376.77V509.3H366.21ZM366.21 509.2H376.77V514.95H366.21Z" fill="#faf7b6"/>
<path d="M408.03 311.55H434.27V317.3H408.03ZM413.26 345.43H444.73V351.18H413.26ZM397.58 351.08H444.73V356.83H397.58ZM397.58 356.73H423.82V362.48H397.58ZM434.17 356.73H444.73V362.48H434.17ZM397.58 362.38H408.13V368.12H397.58ZM428.94 362.38H444.73V368.12H428.94ZM397.58 368.02H408.13V373.77H397.58ZM428.94 368.02H444.73V373.77H428.94ZM397.58 373.67H413.36V379.42H397.58ZM428.94 373.67H449.96V379.42H428.94ZM397.58 379.32H408.13V385.06H397.58ZM439.4 379.32H449.96V385.06H439.4ZM397.58 384.96H408.13V390.71H397.58ZM434.17 384.96H449.96V390.71H434.17ZM397.58 390.61H413.36V396.36H397.58ZM439.4 390.61H449.96V396.36H439.4ZM397.58 396.26H413.36V402.01H397.58ZM439.4 396.26H449.96V402.01H439.4ZM402.81 401.91H418.59V407.65H402.81ZM434.17 401.91H449.96V407.65H434.17ZM402.81 407.55H418.59V413.3H402.81ZM439.4 407.55H449.96V413.3H439.4ZM402.81 413.2H418.59V418.95H402.81ZM423.72 413.2H429.04V418.95H423.72ZM439.4 413.2H449.96V418.95H439.4ZM402.81 418.85H449.96V424.59H402.81ZM402.81 424.49H449.96V430.24H402.81ZM397.58 430.14H402.91V435.89H397.58ZM397.58 435.79H402.91V441.54H397.58ZM397.58 441.44H408.13V447.18H397.58ZM397.58 447.08H408.13V452.83H397.58ZM397.58 452.73H408.13V458.48H397.58ZM397.58 458.38H408.13V464.12H397.58ZM397.58 464.02H408.13V469.77H397.58ZM397.58 469.67H402.91V475.42H397.58ZM408.03 480.97H434.27V486.71H408.03ZM408.03 486.61H434.27V492.36H408.03ZM408.03 492.26H418.59V498.01H408.03ZM423.72 492.26H439.5V498.01H423.72ZM408.03 497.91H418.59V503.66H408.03ZM423.72 497.91H439.5V503.66H423.72ZM408.03 503.56H418.59V509.3H408.03ZM428.94 503.56H439.5V509.3H428.94ZM408.03 509.2H439.5V514.95H408.03Z" fill="#f0edad"/>
<path d="M460.31 311.55H481.32V317.3H460.31ZM460.31 317.2H476.09V322.94H460.31ZM460.31 322.84H470.87V328.59H460.31ZM460.31 328.49H476.09V334.24H460.31ZM460.31 334.14H481.32V339.89H460.31ZM465.54 339.79H481.32V345.53H465.54ZM470.77 345.43H481.32V351.18H470.77ZM470.77 351.08H481.32V356.83H470.77ZM470.77 356.73H481.32V362.48H470.77ZM470.77 362.38H486.55V368.12H470.77ZM470.77 368.02H486.55V373.77H470.77ZM470.77 373.67H486.55V379.42H470.77ZM470.77 379.32H486.55V385.06H470.77ZM470.77 384.96H486.55V390.71H470.77ZM470.77 390.61H486.55V396.36H470.77ZM470.77 396.26H486.55V402.01H470.77ZM470.77 401.91H486.55V407.65H470.77ZM470.77 407.55H486.55V413.3H470.77ZM470.77 413.2H486.55V418.95H470.77ZM470.77 418.85H486.55V424.59H470.77ZM470.77 424.49H486.55V430.24H470.77ZM470.77 430.14H486.55V435.89H470.77ZM470.77 435.79H486.55V441.54H470.77ZM470.77 441.44H486.55V447.18H470.77ZM470.77 447.08H486.55V452.83H470.77ZM470.77 452.73H486.55V458.48H470.77ZM470.77 458.38H486.55V464.12H470.77ZM470.77 497.91H486.55V503.66H470.77ZM470.77 503.56H486.55V509.3H470.77ZM470.77 509.2H481.32V514.95H470.77Z" fill="#fefda6"/>
<path d="M298.25 384.96H308.81V390.71H298.25ZM360.98 384.96H376.77V390.71H360.98ZM298.25 390.61H303.58V396.36H298.25ZM360.98 390.61H376.77V396.36H360.98ZM298.25 396.26H303.58V402.01H298.25ZM366.21 396.26H381.99V402.01H366.21ZM298.25 401.91H303.58V407.65H298.25ZM366.21 401.91H387.22V407.65H366.21ZM298.25 407.55H303.58V413.3H298.25ZM371.44 407.55H387.22V413.3H371.44ZM298.25 413.2H303.58V418.95H298.25ZM376.67 413.2H392.45V418.95H376.67ZM298.25 418.85H303.58V424.59H298.25ZM376.67 418.85H397.68V424.59H376.67ZM298.25 424.49H308.81V430.24H298.25ZM381.89 424.49H397.68V430.24H381.89ZM298.25 430.14H308.81V435.89H298.25ZM387.12 430.14H397.68V435.89H387.12ZM298.25 435.79H314.03V441.54H298.25ZM387.12 435.79H397.68V441.54H387.12ZM308.71 441.44H314.03V447.18H308.71ZM392.35 441.44H397.68V447.18H392.35ZM308.71 447.08H314.03V452.83H308.71ZM392.35 447.08H397.68V452.83H392.35ZM298.25 452.73H314.03V458.48H298.25ZM298.25 458.38H324.49V464.12H298.25ZM392.35 458.38H397.68V464.12H392.35Z" fill="#ece8a6"/>
<path d="M308.71 384.96H361.08V390.71H308.71ZM303.48 390.61H361.08V396.36H303.48ZM303.48 396.26H334.94V402.01H303.48ZM340.07 396.26H366.31V402.01H340.07ZM303.48 401.91H329.72V407.65H303.48ZM350.53 401.91H366.31V407.65H350.53ZM303.48 407.55H329.72V413.3H303.48ZM355.76 407.55H371.54V413.3H355.76ZM303.48 413.2H324.49V418.95H303.48ZM360.98 413.2H376.77V418.95H360.98ZM303.48 418.85H329.72V424.59H303.48ZM366.21 418.85H376.77V424.59H366.21ZM308.71 424.49H329.72V430.24H308.71ZM371.44 424.49H381.99V430.24H371.44ZM308.71 430.14H334.94V435.89H308.71ZM371.44 430.14H387.22V435.89H371.44ZM313.93 435.79H340.17V441.54H313.93ZM376.67 435.79H387.22V441.54H376.67ZM298.25 441.44H308.81V447.18H298.25ZM313.93 441.44H345.4V447.18H313.93ZM376.67 441.44H392.45V447.18H376.67ZM298.25 447.08H308.81V452.83H298.25ZM313.93 447.08H355.86V452.83H313.93ZM376.67 447.08H392.45V452.83H376.67ZM313.93 452.73H397.68V458.48H313.93ZM324.39 458.38H392.45V464.12H324.39Z" fill="#f2ef08"/>
<path d="M303.48 311.55H355.86V317.3H303.48ZM303.48 317.2H361.08V322.94H303.48ZM303.48 322.84H361.08V328.59H303.48ZM308.71 328.49H366.31V334.24H308.71ZM308.71 334.14H371.54V339.89H308.71ZM308.71 339.79H366.31V345.53H308.71ZM313.93 345.43H361.08V351.18H313.93ZM319.16 351.08H355.86V356.83H319.16ZM324.39 356.73H329.72V362.48H324.39ZM340.07 356.73H345.4V362.48H340.07ZM418.49 384.96H423.82V390.71H418.49ZM418.49 390.61H429.04V396.36H418.49ZM334.84 396.26H340.17V402.01H334.84ZM329.62 401.91H350.63V407.65H329.62ZM329.62 407.55H355.86V413.3H329.62ZM324.39 413.2H361.08V418.95H324.39ZM329.62 418.85H366.31V424.59H329.62ZM329.62 424.49H371.54V430.24H329.62ZM334.84 430.14H371.54V435.89H334.84ZM340.07 435.79H376.77V441.54H340.07ZM345.3 441.44H376.77V447.18H345.3ZM355.76 447.08H376.77V452.83H355.76Z" fill="#fd0000"/>
<path d="M371.49 311.6V317.25M371.49 317.25H376.72M381.94 311.6V317.25M381.94 317.25H387.17M408.08 311.6V317.25M408.08 317.25H413.31M413.31 317.25H418.54M418.54 317.25H423.77M423.77 317.25H428.99M434.22 311.6V317.25M428.99 317.25H434.22M376.72 317.25V322.89M387.17 317.25V322.89M387.17 322.89H392.4M392.4 322.89H397.63M376.72 322.89V328.54M376.72 328.54H381.94M381.94 328.54H387.17M397.63 322.89V328.54M387.17 328.54V334.19M381.94 334.19H387.17M397.63 328.54V334.19M381.94 334.19V339.84M397.63 334.19V339.84M381.94 339.84V345.48M397.63 339.84V345.48M413.31 345.48H418.54M418.54 345.48H423.77M423.77 345.48H428.99M428.99 345.48H434.22M434.22 345.48H439.45M439.45 345.48H444.68M381.94 345.48V351.13M381.94 351.13H387.17M397.63 345.48V351.13M397.63 351.13H402.86M402.86 351.13H408.08M413.31 345.48V351.13M408.08 351.13H413.31M444.68 345.48V351.13M387.17 351.13V356.78M423.77 356.78H428.99M428.99 356.78H434.22M444.68 351.13V356.78M371.49 362.43H376.72M376.72 362.43H381.94M387.17 356.78V362.43M381.94 362.43H387.17M408.08 362.43H413.31M413.31 362.43H418.54M423.77 356.78V362.43M418.54 362.43H423.77M434.22 356.78V362.43M428.99 362.43H434.22M444.68 356.78V362.43M361.03 368.07H366.26M371.49 362.43V368.07M366.26 368.07H371.49M408.08 362.43V368.07M428.99 362.43V368.07M444.68 362.43V368.07M298.3 373.72H303.53M361.03 368.07V373.72M361.03 373.72H366.26M376.72 373.72H381.94M381.94 373.72H387.17M387.17 373.72H392.4M392.4 373.72H397.63M408.08 368.07V373.72M408.08 373.72H413.31M428.99 368.07V373.72M444.68 368.07V373.72M444.68 373.72H449.91M303.53 373.72V379.37M303.53 379.37H308.76M366.26 373.72V379.37M376.72 373.72V379.37M397.63 373.72V379.37M413.31 373.72V379.37M408.08 379.37H413.31M428.99 373.72V379.37M428.99 379.37H434.22M434.22 379.37H439.45M308.76 379.37V385.01M366.26 379.37V385.01M361.03 385.01H366.26M376.72 379.37V385.01M397.63 379.37V385.01M408.08 379.37V385.01M439.45 379.37V385.01M434.22 385.01H439.45M308.76 385.01V390.66M303.53 390.66H308.76M361.03 385.01V390.66M376.72 385.01V390.66M397.63 385.01V390.66M408.08 385.01V390.66M408.08 390.66H413.31M434.22 385.01V390.66M434.22 390.66H439.45M303.53 390.66V396.31M361.03 390.66V396.31M361.03 396.31H366.26M376.72 390.66V396.31M376.72 396.31H381.94M397.63 390.66V396.31M413.31 390.66V396.31M439.45 390.66V396.31M303.53 396.31V401.96M366.26 396.31V401.96M381.94 396.31V401.96M381.94 401.96H387.17M397.63 396.31V401.96M397.63 401.96H402.86M413.31 396.31V401.96M413.31 401.96H418.54M439.45 396.31V401.96M434.22 401.96H439.45M303.53 401.96V407.6M366.26 401.96V407.6M366.26 407.6H371.49M387.17 401.96V407.6M402.86 401.96V407.6M418.54 401.96V407.6M434.22 401.96V407.6M434.22 407.6H439.45M303.53 407.6V413.25M371.49 407.6V413.25M371.49 413.25H376.72M387.17 407.6V413.25M387.17 413.25H392.4M402.86 407.6V413.25M418.54 407.6V413.25M423.77 413.25H428.99M439.45 407.6V413.25M303.53 413.25V418.9M376.72 413.25V418.9M392.4 413.25V418.9M392.4 418.9H397.63M402.86 413.25V418.9M418.54 413.25V418.9M423.77 413.25V418.9M418.54 418.9H423.77M428.99 413.25V418.9M428.99 418.9H434.22M439.45 413.25V418.9M434.22 418.9H439.45M303.53 418.9V424.54M303.53 424.54H308.76M376.72 418.9V424.54M376.72 424.54H381.94M397.63 418.9V424.54M402.86 418.9V424.54M308.76 424.54V430.19M381.94 424.54V430.19M381.94 430.19H387.17M397.63 424.54V430.19M402.86 424.54V430.19M397.63 430.19H402.86M402.86 430.19H408.08M408.08 430.19H413.31M413.31 430.19H418.54M418.54 430.19H423.77M423.77 430.19H428.99M428.99 430.19H434.22M434.22 430.19H439.45M439.45 430.19H444.68M444.68 430.19H449.91M308.76 430.19V435.84M308.76 435.84H313.98M387.17 430.19V435.84M402.86 430.19V435.84M298.3 441.49H303.53M303.53 441.49H308.76M313.98 435.84V441.49M387.17 435.84V441.49M387.17 441.49H392.4M402.86 435.84V441.49M402.86 441.49H408.08M308.76 441.49V447.13M313.98 441.49V447.13M392.4 441.49V447.13M408.08 441.49V447.13M298.3 452.78H303.53M308.76 447.13V452.78M303.53 452.78H308.76M313.98 447.13V452.78M392.4 447.13V452.78M392.4 452.78H397.63M408.08 447.13V452.78M313.98 452.78V458.43M313.98 458.43H319.21M319.21 458.43H324.44M397.63 452.78V458.43M392.4 458.43H397.63M408.08 452.78V458.43M298.3 464.07H303.53M324.44 458.43V464.07M376.72 464.07H381.94M381.94 464.07H387.17M392.4 458.43V464.07M387.17 464.07H392.4M408.08 458.43V464.07M303.53 464.07V469.72M303.53 469.72H308.76M308.76 469.72H313.98M324.44 464.07V469.72M324.44 469.72H329.67M329.67 469.72H334.89M334.89 469.72H340.12M340.12 469.72H345.35M345.35 469.72H350.58M350.58 469.72H355.81M361.03 469.72H366.26M366.26 469.72H371.49M376.72 464.07V469.72M371.49 469.72H376.72M408.08 464.07V469.72M402.86 469.72H408.08M313.98 469.72V475.37M334.89 475.37H340.12M340.12 475.37H345.35M355.81 469.72V475.37M361.03 469.72V475.37M355.81 475.37H361.03M387.17 475.37H392.4M392.4 475.37H397.63M402.86 469.72V475.37M397.63 475.37H402.86M298.3 481.02H303.53M303.53 481.02H308.76M313.98 475.37V481.02M308.76 481.02H313.98M324.44 481.02H329.67M334.89 475.37V481.02M334.89 481.02H340.12M345.35 475.37V481.02M340.12 481.02H345.35M371.49 481.02H376.72M376.72 481.02H381.94M387.17 475.37V481.02M381.94 481.02H387.17M408.08 481.02H413.31M413.31 481.02H418.54M418.54 481.02H423.77M423.77 481.02H428.99M428.99 481.02H434.22M324.44 481.02V486.66M329.67 481.02V486.66M324.44 486.66H329.67M329.67 486.66H334.89M334.89 486.66H340.12M340.12 486.66H345.35M345.35 486.66H350.58M371.49 481.02V486.66M408.08 481.02V486.66M434.22 481.02V486.66M303.53 492.31H308.76M308.76 492.31H313.98M313.98 492.31H319.21M329.67 486.66V492.31M324.44 492.31H329.67M350.58 486.66V492.31M371.49 486.66V492.31M371.49 492.31H376.72M408.08 486.66V492.31M418.54 492.31H423.77M434.22 486.66V492.31M434.22 492.31H439.45M303.53 492.31V497.96M319.21 492.31V497.96M324.44 492.31V497.96M319.21 497.96H324.44M350.58 492.31V497.96M350.58 497.96H355.81M376.72 492.31V497.96M408.08 492.31V497.96M418.54 492.31V497.96M423.77 492.31V497.96M439.45 492.31V497.96M303.53 497.96V503.61M355.81 497.96V503.61M355.81 503.61H361.03M361.03 503.61H366.26M376.72 497.96V503.61M408.08 497.96V503.61M418.54 497.96V503.61M423.77 497.96V503.61M423.77 503.61H428.99M439.45 497.96V503.61M303.53 503.61V509.25M298.3 509.25H303.53M366.26 503.61V509.25M376.72 503.61V509.25M408.08 503.61V509.25M418.54 503.61V509.25M418.54 509.25H423.77M428.99 503.61V509.25M423.77 509.25H428.99M439.45 503.61V509.25M366.26 509.25V514.9M376.72 509.25V514.9M408.08 509.25V514.9M439.45 509.25V514.9" stroke="rgba(70,65,20,0.7)" stroke-width="0.6" fill="none"/>
<path d="M460.36 311.6V317.25M481.27 311.6V317.25M476.04 317.25H481.27M460.36 317.25V322.89M476.04 317.25V322.89M470.82 322.89H476.04M460.36 322.89V328.54M470.82 322.89V328.54M470.82 328.54H476.04M460.36 328.54V334.19M476.04 328.54V334.19M476.04 334.19H481.27M460.36 334.19V339.84M460.36 339.84H465.59M481.27 334.19V339.84M465.59 339.84V345.48M465.59 345.48H470.82M481.27 339.84V345.48M470.82 345.48V351.13M481.27 345.48V351.13M470.82 351.13V356.78M481.27 351.13V356.78M470.82 356.78V362.43M481.27 356.78V362.43M481.27 362.43H486.5M470.82 362.43V368.07M470.82 368.07V373.72M449.91 373.72V379.37M470.82 373.72V379.37M449.91 379.37V385.01M470.82 379.37V385.01M449.91 385.01V390.66M470.82 385.01V390.66M449.91 390.66V396.31M470.82 390.66V396.31M449.91 396.31V401.96M470.82 396.31V401.96M449.91 401.96V407.6M470.82 401.96V407.6M449.91 407.6V413.25M470.82 407.6V413.25M449.91 413.25V418.9M470.82 413.25V418.9M449.91 418.9V424.54M470.82 418.9V424.54M449.91 424.54V430.19M470.82 424.54V430.19M470.82 430.19V435.84M470.82 435.84V441.49M470.82 441.49V447.13M470.82 447.13V452.78M470.82 452.78V458.43M470.82 458.43V464.07M470.82 464.07H476.04M476.04 464.07H481.27M481.27 464.07H486.5M470.82 497.96H476.04M476.04 497.96H481.27M481.27 497.96H486.5M470.82 497.96V503.61M470.82 503.61V509.25M481.27 509.25H486.5M470.82 509.25V514.9M481.27 509.25V514.9" stroke="rgba(70,65,20,0.18)" stroke-width="0.6" fill="none"/>
<path d="M392.4 311.6V514.9M298.3 413.25H486.5" stroke="#333" stroke-opacity="0.75" stroke-width="0.7" fill="none"/>
<rect x="298.3" y="311.6" width="188.2" height="203.3" fill="none" stroke="#888" stroke-width="0.6"/>
<path d="M298.3 514.9v2M321.82 514.9v2M298.3 489.49h-2.5M345.35 514.9v2M298.3 464.07h-2.5M368.88 514.9v2M298.3 438.66h-2.5M392.4 514.9v2M298.3 413.25h-2.5M415.93 514.9v2M298.3 387.84h-2.5M439.45 514.9v2M298.3 362.43h-2.5M462.98 514.9v2M298.3 337.01h-2.5M486.5 514.9v2M298.3 311.6h-2.5" stroke="#555" stroke-width="0.6" fill="none"/>
<g font-size="5.4" fill="#333">
<text x="296.4" y="522.85" text-anchor="middle">-180</text>
<text x="321.12" y="522.85" text-anchor="middle">-135</text>
<text x="293.5" y="491.44" text-anchor="end">-135</text>
<text x="345.15" y="522.85" text-anchor="middle">-90</text>
<text x="293.5" y="466.02" text-anchor="end">-90</text>
<text x="369.07" y="522.85" text-anchor="middle">-45</text>
<text x="293.5" y="440.61" text-anchor="end">-45</text>
<text x="393.4" y="522.85" text-anchor="middle">0</text>
<text x="293.5" y="415.2" text-anchor="end">0</text>
<text x="416.23" y="522.85" text-anchor="middle">45</text>
<text x="293.5" y="389.79" text-anchor="end">45</text>
<text x="439.95" y="522.85" text-anchor="middle">90</text>
<text x="293.5" y="364.38" text-anchor="end">90</text>
<text x="465.38" y="522.85" text-anchor="middle">135</text>
<text x="293.5" y="338.96" text-anchor="end">135</text>
<text x="488.9" y="522.85" text-anchor="middle">180</text>
<text x="293.5" y="313.55" text-anchor="end">180</text>
</g>
<text x="391.3" y="539.2" font-size="9" font-weight="bold" text-anchor="middle" fill="#111" stroke="#111" stroke-width="0.2">Phi (degrees)</text>
<text transform="translate(279.2 412.55) rotate(-90)" font-size="9" font-weight="bold" text-anchor="middle" fill="#111" stroke="#111" stroke-width="0.25">Psi (degrees)</text>
<text x="398.9" y="303.7" font-size="13.4" text-anchor="middle" fill="#111">Model 4</text>
<text x="269.8" y="291.8" font-size="15" fill="#111">D</text>
<g class="s" font-size="5.9" fill="#4a2a00">
<text x="308.49" y="319.19" text-anchor="middle">B</text>
<text x="303.42" y="341.61" text-anchor="middle">b</text>
<text x="309.17" y="398.7" text-anchor="middle">a</text>
<text x="334.32" y="409.72" text-anchor="middle">A</text>
<text x="385.13" y="424" text-anchor="middle" font-size="5.3">~a</text>
<text x="385.13" y="341.95" text-anchor="middle" font-size="5.3">~b</text>
<text x="308.76" y="500.07" text-anchor="middle">b</text>
<text x="301.54" y="488.89" text-anchor="middle" font-size="5.3">~b</text>
<text x="416.29" y="353.24" text-anchor="middle" font-size="5.3">~l</text>
<text x="410.64" y="370.24" text-anchor="middle">l</text>
<text x="420.63" y="388.76" text-anchor="middle">L</text>
<text x="410.64" y="489.45" text-anchor="middle" font-size="5.3">~p</text>
<text x="420.63" y="500.86" text-anchor="middle">p</text>
<text x="463.18" y="319.53" text-anchor="middle" font-size="5.3">~b</text>
<text x="481.06" y="325.12" text-anchor="middle">b</text>
<text x="473.74" y="505.49" text-anchor="middle" font-size="5.3">~b</text>
</g>
<path d="M314 317a1.0 1.0 0 1 0 2 0a1.0 1.0 0 1 0 -2 0zM325.7 319a1.0 1.0 0 1 0 2 0a1.0 1.0 0 1 0 -2 0zM321.1 321a1.0 1.0 0 1 0 2 0a1.0 1.0 0 1 0 -2 0zM312.6 322.4a1.0 1.0 0 1 0 2 0a1.0 1.0 0 1 0 -2 0zM330.1 326a1.0 1.0 0 1 0 2 0a1.0 1.0 0 1 0 -2 0zM299 328a1.0 1.0 0 1 0 2 0a1.0 1.0 0 1 0 -2 0zM313.4 331a1.0 1.0 0 1 0 2 0a1.0 1.0 0 1 0 -2 0zM302 335.1a1.0 1.0 0 1 0 2 0a1.0 1.0 0 1 0 -2 0zM316 334.1a1.0 1.0 0 1 0 2 0a1.0 1.0 0 1 0 -2 0zM320.1 337.1a1.0 1.0 0 1 0 2 0a1.0 1.0 0 1 0 -2 0zM322.1 338.5a1.0 1.0 0 1 0 2 0a1.0 1.0 0 1 0 -2 0zM358.7 319a1.0 1.0 0 1 0 2 0a1.0 1.0 0 1 0 -2 0zM362.1 320.4a1.0 1.0 0 1 0 2 0a1.0 1.0 0 1 0 -2 0zM372.2 322.4a1.0 1.0 0 1 0 2 0a1.0 1.0 0 1 0 -2 0zM359.1 324a1.0 1.0 0 1 0 2 0a1.0 1.0 0 1 0 -2 0zM364.1 325.6a1.0 1.0 0 1 0 2 0a1.0 1.0 0 1 0 -2 0zM353.1 328.6a1.0 1.0 0 1 0 2 0a1.0 1.0 0 1 0 -2 0zM356.1 329.6a1.0 1.0 0 1 0 2 0a1.0 1.0 0 1 0 -2 0zM358.7 331a1.0 1.0 0 1 0 2 0a1.0 1.0 0 1 0 -2 0zM365.1 332a1.0 1.0 0 1 0 2 0a1.0 1.0 0 1 0 -2 0zM351.1 334.1a1.0 1.0 0 1 0 2 0a1.0 1.0 0 1 0 -2 0zM365.1 337.1a1.0 1.0 0 1 0 2 0a1.0 1.0 0 1 0 -2 0zM346.7 338.1a1.0 1.0 0 1 0 2 0a1.0 1.0 0 1 0 -2 0zM357.1 343.7a1.0 1.0 0 1 0 2 0a1.0 1.0 0 1 0 -2 0zM349.1 345.7a1.0 1.0 0 1 0 2 0a1.0 1.0 0 1 0 -2 0zM364.1 345.7a1.0 1.0 0 1 0 2 0a1.0 1.0 0 1 0 -2 0zM353.1 347.1a1.0 1.0 0 1 0 2 0a1.0 1.0 0 1 0 -2 0zM367.1 349.1a1.0 1.0 0 1 0 2 0a1.0 1.0 0 1 0 -2 0zM372.2 349.7a1.0 1.0 0 1 0 2 0a1.0 1.0 0 1 0 -2 0zM376.2 350.1a1.0 1.0 0 1 0 2 0a1.0 1.0 0 1 0 -2 0zM326.1 349.1a1.0 1.0 0 1 0 2 0a1.0 1.0 0 1 0 -2 0zM325.1 351.7a1.0 1.0 0 1 0 2 0a1.0 1.0 0 1 0 -2 0zM320.7 352.5a1.0 1.0 0 1 0 2 0a1.0 1.0 0 1 0 -2 0zM305.4 347.1a1.0 1.0 0 1 0 2 0a1.0 1.0 0 1 0 -2 0zM310 355.1a1.0 1.0 0 1 0 2 0a1.0 1.0 0 1 0 -2 0zM350.1 356.1a1.0 1.0 0 1 0 2 0a1.0 1.0 0 1 0 -2 0zM357.1 356.5a1.0 1.0 0 1 0 2 0a1.0 1.0 0 1 0 -2 0zM364.1 359.7a1.0 1.0 0 1 0 2 0a1.0 1.0 0 1 0 -2 0zM345.1 360.5a1.0 1.0 0 1 0 2 0a1.0 1.0 0 1 0 -2 0zM363.1 362.1a1.0 1.0 0 1 0 2 0a1.0 1.0 0 1 0 -2 0zM361.1 364.1a1.0 1.0 0 1 0 2 0a1.0 1.0 0 1 0 -2 0zM306 364.7a1.0 1.0 0 1 0 2 0a1.0 1.0 0 1 0 -2 0zM352.1 366.1a1.0 1.0 0 1 0 2 0a1.0 1.0 0 1 0 -2 0zM359.1 366.1a1.0 1.0 0 1 0 2 0a1.0 1.0 0 1 0 -2 0zM310 370.1a1.0 1.0 0 1 0 2 0a1.0 1.0 0 1 0 -2 0zM356.1 371.7a1.0 1.0 0 1 0 2 0a1.0 1.0 0 1 0 -2 0zM353.1 374.5a1.0 1.0 0 1 0 2 0a1.0 1.0 0 1 0 -2 0zM340.7 374.7a1.0 1.0 0 1 0 2 0a1.0 1.0 0 1 0 -2 0zM328.7 375.7a1.0 1.0 0 1 0 2 0a1.0 1.0 0 1 0 -2 0zM334.1 376.1a1.0 1.0 0 1 0 2 0a1.0 1.0 0 1 0 -2 0zM317 376.1a1.0 1.0 0 1 0 2 0a1.0 1.0 0 1 0 -2 0zM360.1 377.1a1.0 1.0 0 1 0 2 0a1.0 1.0 0 1 0 -2 0zM352.1 378.5a1.0 1.0 0 1 0 2 0a1.0 1.0 0 1 0 -2 0zM350.1 381.7a1.0 1.0 0 1 0 2 0a1.0 1.0 0 1 0 -2 0zM337.1 383.2a1.0 1.0 0 1 0 2 0a1.0 1.0 0 1 0 -2 0zM314 384.2a1.0 1.0 0 1 0 2 0a1.0 1.0 0 1 0 -2 0zM344.7 385.2a1.0 1.0 0 1 0 2 0a1.0 1.0 0 1 0 -2 0zM325.1 386.6a1.0 1.0 0 1 0 2 0a1.0 1.0 0 1 0 -2 0zM326.1 389.8a1.0 1.0 0 1 0 2 0a1.0 1.0 0 1 0 -2 0zM357.1 389.2a1.0 1.0 0 1 0 2 0a1.0 1.0 0 1 0 -2 0zM355.1 391.2a1.0 1.0 0 1 0 2 0a1.0 1.0 0 1 0 -2 0zM354.7 393.2a1.0 1.0 0 1 0 2 0a1.0 1.0 0 1 0 -2 0zM343.1 394.2a1.0 1.0 0 1 0 2 0a1.0 1.0 0 1 0 -2 0zM313.4 396.2a1.0 1.0 0 1 0 2 0a1.0 1.0 0 1 0 -2 0zM351.1 396.2a1.0 1.0 0 1 0 2 0a1.0 1.0 0 1 0 -2 0zM350.1 399.2a1.0 1.0 0 1 0 2 0a1.0 1.0 0 1 0 -2 0zM332.1 400.6a1.0 1.0 0 1 0 2 0a1.0 1.0 0 1 0 -2 0zM349.1 402.2a1.0 1.0 0 1 0 2 0a1.0 1.0 0 1 0 -2 0zM351.1 403.2a1.0 1.0 0 1 0 2 0a1.0 1.0 0 1 0 -2 0zM359.1 405.2a1.0 1.0 0 1 0 2 0a1.0 1.0 0 1 0 -2 0zM333.1 406.2a1.0 1.0 0 1 0 2 0a1.0 1.0 0 1 0 -2 0zM357.1 407.2a1.0 1.0 0 1 0 2 0a1.0 1.0 0 1 0 -2 0zM346.1 408.2a1.0 1.0 0 1 0 2 0a1.0 1.0 0 1 0 -2 0zM340.1 412.2a1.0 1.0 0 1 0 2 0a1.0 1.0 0 1 0 -2 0zM352.1 412.2a1.0 1.0 0 1 0 2 0a1.0 1.0 0 1 0 -2 0zM343.1 414.2a1.0 1.0 0 1 0 2 0a1.0 1.0 0 1 0 -2 0zM319 431.5a1.0 1.0 0 1 0 2 0a1.0 1.0 0 1 0 -2 0zM316.6 438.1a1.0 1.0 0 1 0 2 0a1.0 1.0 0 1 0 -2 0zM323.1 438.1a1.0 1.0 0 1 0 2 0a1.0 1.0 0 1 0 -2 0zM331.1 434.1a1.0 1.0 0 1 0 2 0a1.0 1.0 0 1 0 -2 0zM332.1 441.5a1.0 1.0 0 1 0 2 0a1.0 1.0 0 1 0 -2 0zM335.1 441.5a1.0 1.0 0 1 0 2 0a1.0 1.0 0 1 0 -2 0zM315 453.5a1.0 1.0 0 1 0 2 0a1.0 1.0 0 1 0 -2 0zM329.1 460.1a1.0 1.0 0 1 0 2 0a1.0 1.0 0 1 0 -2 0zM384.2 445.5a1.0 1.0 0 1 0 2 0a1.0 1.0 0 1 0 -2 0zM379.2 448.1a1.0 1.0 0 1 0 2 0a1.0 1.0 0 1 0 -2 0zM375.2 444.7a1.0 1.0 0 1 0 2 0a1.0 1.0 0 1 0 -2 0zM359.1 407a1.0 1.0 0 1 0 2 0a1.0 1.0 0 1 0 -2 0zM343.1 409a1.0 1.0 0 1 0 2 0a1.0 1.0 0 1 0 -2 0zM335.1 408a1.0 1.0 0 1 0 2 0a1.0 1.0 0 1 0 -2 0zM365.9 451.3a1.0 1.0 0 1 0 2 0a1.0 1.0 0 1 0 -2 0zM339.9 510.4a1.0 1.0 0 1 0 2 0a1.0 1.0 0 1 0 -2 0zM334.1 512.5a1.0 1.0 0 1 0 2 0a1.0 1.0 0 1 0 -2 0zM355.5 512a1.0 1.0 0 1 0 2 0a1.0 1.0 0 1 0 -2 0zM433.8 316.8a1.0 1.0 0 1 0 2 0a1.0 1.0 0 1 0 -2 0zM424.8 378.4a1.0 1.0 0 1 0 2 0a1.0 1.0 0 1 0 -2 0zM415.1 379.9a1.0 1.0 0 1 0 2 0a1.0 1.0 0 1 0 -2 0zM409.2 385.5a1.0 1.0 0 1 0 2 0a1.0 1.0 0 1 0 -2 0zM407.3 389.3a1.0 1.0 0 1 0 2 0a1.0 1.0 0 1 0 -2 0zM415.1 393.5a1.0 1.0 0 1 0 2 0a1.0 1.0 0 1 0 -2 0zM418.8 401.2a1.0 1.0 0 1 0 2 0a1.0 1.0 0 1 0 -2 0zM419.2 404.3a1.0 1.0 0 1 0 2 0a1.0 1.0 0 1 0 -2 0zM423.4 408a1.0 1.0 0 1 0 2 0a1.0 1.0 0 1 0 -2 0zM426.5 416.8a1.0 1.0 0 1 0 2 0a1.0 1.0 0 1 0 -2 0zM429.6 440.6a1.0 1.0 0 1 0 2 0a1.0 1.0 0 1 0 -2 0zM432.7 494.7a1.0 1.0 0 1 0 2 0a1.0 1.0 0 1 0 -2 0zM420.6 501.1a1.0 1.0 0 1 0 2 0a1.0 1.0 0 1 0 -2 0zM420.1 498.8a1.0 1.0 0 1 0 2 0a1.0 1.0 0 1 0 -2 0z" fill="#000"/>
<path d="M357.93 438.24a1.0 1.0 0 1 0 2 0a1.0 1.0 0 1 0 -2 0zM356.28 436.84a1.0 1.0 0 1 0 2 0a1.0 1.0 0 1 0 -2 0zM360.86 439.64a1.0 1.0 0 1 0 2 0a1.0 1.0 0 1 0 -2 0zM362.95 435.34a1.0 1.0 0 1 0 2 0a1.0 1.0 0 1 0 -2 0zM358.02 433.35a1.0 1.0 0 1 0 2 0a1.0 1.0 0 1 0 -2 0zM355.21 433.98a1.0 1.0 0 1 0 2 0a1.0 1.0 0 1 0 -2 0zM358.53 438.37a1.0 1.0 0 1 0 2 0a1.0 1.0 0 1 0 -2 0zM359.48 446.55a1.0 1.0 0 1 0 2 0a1.0 1.0 0 1 0 -2 0zM360.65 431.06a1.0 1.0 0 1 0 2 0a1.0 1.0 0 1 0 -2 0zM358.47 433.95a1.0 1.0 0 1 0 2 0a1.0 1.0 0 1 0 -2 0zM356.1 440.76a1.0 1.0 0 1 0 2 0a1.0 1.0 0 1 0 -2 0zM357.06 427.56a1.0 1.0 0 1 0 2 0a1.0 1.0 0 1 0 -2 0zM358.82 435.54a1.0 1.0 0 1 0 2 0a1.0 1.0 0 1 0 -2 0zM353.92 430.16a1.0 1.0 0 1 0 2 0a1.0 1.0 0 1 0 -2 0zM355.74 434.95a1.0 1.0 0 1 0 2 0a1.0 1.0 0 1 0 -2 0zM356.39 435.72a1.0 1.0 0 1 0 2 0a1.0 1.0 0 1 0 -2 0zM363.86 436.2a1.0 1.0 0 1 0 2 0a1.0 1.0 0 1 0 -2 0zM355.14 433.66a1.0 1.0 0 1 0 2 0a1.0 1.0 0 1 0 -2 0zM361.42 435.24a1.0 1.0 0 1 0 2 0a1.0 1.0 0 1 0 -2 0zM362.53 433.32a1.0 1.0 0 1 0 2 0a1.0 1.0 0 1 0 -2 0zM354.39 434.07a1.0 1.0 0 1 0 2 0a1.0 1.0 0 1 0 -2 0zM354.95 432a1.0 1.0 0 1 0 2 0a1.0 1.0 0 1 0 -2 0zM359.29 440.08a1.0 1.0 0 1 0 2 0a1.0 1.0 0 1 0 -2 0zM358.18 435.25a1.0 1.0 0 1 0 2 0a1.0 1.0 0 1 0 -2 0zM362.24 440.37a1.0 1.0 0 1 0 2 0a1.0 1.0 0 1 0 -2 0zM357.02 440.89a1.0 1.0 0 1 0 2 0a1.0 1.0 0 1 0 -2 0zM354.83 435.24a1.0 1.0 0 1 0 2 0a1.0 1.0 0 1 0 -2 0zM359.98 437.37a1.0 1.0 0 1 0 2 0a1.0 1.0 0 1 0 -2 0zM355.9 436.62a1.0 1.0 0 1 0 2 0a1.0 1.0 0 1 0 -2 0zM356.02 432.7a1.0 1.0 0 1 0 2 0a1.0 1.0 0 1 0 -2 0zM354.42 439.82a1.0 1.0 0 1 0 2 0a1.0 1.0 0 1 0 -2 0zM355.99 440.06a1.0 1.0 0 1 0 2 0a1.0 1.0 0 1 0 -2 0zM359.06 435.8a1.0 1.0 0 1 0 2 0a1.0 1.0 0 1 0 -2 0zM360 438.58a1.0 1.0 0 1 0 2 0a1.0 1.0 0 1 0 -2 0zM358.23 430.64a1.0 1.0 0 1 0 2 0a1.0 1.0 0 1 0 -2 0zM358.03 440.1a1.0 1.0 0 1 0 2 0a1.0 1.0 0 1 0 -2 0zM359.41 441.29a1.0 1.0 0 1 0 2 0a1.0 1.0 0 1 0 -2 0zM362.72 440.67a1.0 1.0 0 1 0 2 0a1.0 1.0 0 1 0 -2 0zM364.32 433.45a1.0 1.0 0 1 0 2 0a1.0 1.0 0 1 0 -2 0zM357.01 425.11a1.0 1.0 0 1 0 2 0a1.0 1.0 0 1 0 -2 0zM360.51 438.11a1.0 1.0 0 1 0 2 0a1.0 1.0 0 1 0 -2 0zM363.37 437.76a1.0 1.0 0 1 0 2 0a1.0 1.0 0 1 0 -2 0zM351.11 437.86a1.0 1.0 0 1 0 2 0a1.0 1.0 0 1 0 -2 0zM353.37 428.39a1.0 1.0 0 1 0 2 0a1.0 1.0 0 1 0 -2 0zM357.22 438.52a1.0 1.0 0 1 0 2 0a1.0 1.0 0 1 0 -2 0zM356.12 436.05a1.0 1.0 0 1 0 2 0a1.0 1.0 0 1 0 -2 0zM351.59 440.03a1.0 1.0 0 1 0 2 0a1.0 1.0 0 1 0 -2 0zM357.58 436.58a1.0 1.0 0 1 0 2 0a1.0 1.0 0 1 0 -2 0zM359.73 437.99a1.0 1.0 0 1 0 2 0a1.0 1.0 0 1 0 -2 0zM358.46 432.66a1.0 1.0 0 1 0 2 0a1.0 1.0 0 1 0 -2 0zM357.43 437.84a1.0 1.0 0 1 0 2 0a1.0 1.0 0 1 0 -2 0zM361.24 437.61a1.0 1.0 0 1 0 2 0a1.0 1.0 0 1 0 -2 0zM358.1 437.79a1.0 1.0 0 1 0 2 0a1.0 1.0 0 1 0 -2 0zM359.69 438.12a1.0 1.0 0 1 0 2 0a1.0 1.0 0 1 0 -2 0zM356.97 433.58a1.0 1.0 0 1 0 2 0a1.0 1.0 0 1 0 -2 0zM361.51 439.51a1.0 1.0 0 1 0 2 0a1.0 1.0 0 1 0 -2 0zM357.87 450.9a1.0 1.0 0 1 0 2 0a1.0 1.0 0 1 0 -2 0zM360.71 441.42a1.0 1.0 0 1 0 2 0a1.0 1.0 0 1 0 -2 0zM358.3 432.2a1.0 1.0 0 1 0 2 0a1.0 1.0 0 1 0 -2 0zM361.55 437.92a1.0 1.0 0 1 0 2 0a1.0 1.0 0 1 0 -2 0zM357.97 440.63a1.0 1.0 0 1 0 2 0a1.0 1.0 0 1 0 -2 0zM361.16 439.09a1.0 1.0 0 1 0 2 0a1.0 1.0 0 1 0 -2 0zM357.86 445.08a1.0 1.0 0 1 0 2 0a1.0 1.0 0 1 0 -2 0zM359.69 432.93a1.0 1.0 0 1 0 2 0a1.0 1.0 0 1 0 -2 0zM360.28 438.22a1.0 1.0 0 1 0 2 0a1.0 1.0 0 1 0 -2 0zM357.91 439.14a1.0 1.0 0 1 0 2 0a1.0 1.0 0 1 0 -2 0zM358.57 445.09a1.0 1.0 0 1 0 2 0a1.0 1.0 0 1 0 -2 0zM358.47 437.64a1.0 1.0 0 1 0 2 0a1.0 1.0 0 1 0 -2 0zM361.63 435.96a1.0 1.0 0 1 0 2 0a1.0 1.0 0 1 0 -2 0zM361.15 437.81a1.0 1.0 0 1 0 2 0a1.0 1.0 0 1 0 -2 0zM361.71 434.8a1.0 1.0 0 1 0 2 0a1.0 1.0 0 1 0 -2 0zM359.18 430.23a1.0 1.0 0 1 0 2 0a1.0 1.0 0 1 0 -2 0zM356.34 435.45a1.0 1.0 0 1 0 2 0a1.0 1.0 0 1 0 -2 0zM359.43 445.43a1.0 1.0 0 1 0 2 0a1.0 1.0 0 1 0 -2 0zM363.86 433.93a1.0 1.0 0 1 0 2 0a1.0 1.0 0 1 0 -2 0zM355.3 440.08a1.0 1.0 0 1 0 2 0a1.0 1.0 0 1 0 -2 0zM359.25 431.25a1.0 1.0 0 1 0 2 0a1.0 1.0 0 1 0 -2 0zM359.4 432.35a1.0 1.0 0 1 0 2 0a1.0 1.0 0 1 0 -2 0zM354.97 429.32a1.0 1.0 0 1 0 2 0a1.0 1.0 0 1 0 -2 0zM356.94 445.2a1.0 1.0 0 1 0 2 0a1.0 1.0 0 1 0 -2 0zM359.05 436.45a1.0 1.0 0 1 0 2 0a1.0 1.0 0 1 0 -2 0zM366.09 438.88a1.0 1.0 0 1 0 2 0a1.0 1.0 0 1 0 -2 0zM357.31 434.82a1.0 1.0 0 1 0 2 0a1.0 1.0 0 1 0 -2 0zM359.19 435.67a1.0 1.0 0 1 0 2 0a1.0 1.0 0 1 0 -2 0zM362.6 437.65a1.0 1.0 0 1 0 2 0a1.0 1.0 0 1 0 -2 0zM359.65 438.18a1.0 1.0 0 1 0 2 0a1.0 1.0 0 1 0 -2 0zM354.97 430.51a1.0 1.0 0 1 0 2 0a1.0 1.0 0 1 0 -2 0zM357.63 426.45a1.0 1.0 0 1 0 2 0a1.0 1.0 0 1 0 -2 0zM357.85 436.56a1.0 1.0 0 1 0 2 0a1.0 1.0 0 1 0 -2 0zM358.27 436.14a1.0 1.0 0 1 0 2 0a1.0 1.0 0 1 0 -2 0zM358.97 435.39a1.0 1.0 0 1 0 2 0a1.0 1.0 0 1 0 -2 0zM359.92 430.53a1.0 1.0 0 1 0 2 0a1.0 1.0 0 1 0 -2 0zM360.8 434.17a1.0 1.0 0 1 0 2 0a1.0 1.0 0 1 0 -2 0zM359.4 435.14a1.0 1.0 0 1 0 2 0a1.0 1.0 0 1 0 -2 0zM356.4 432.09a1.0 1.0 0 1 0 2 0a1.0 1.0 0 1 0 -2 0zM362.22 434.1a1.0 1.0 0 1 0 2 0a1.0 1.0 0 1 0 -2 0zM353.83 434.9a1.0 1.0 0 1 0 2 0a1.0 1.0 0 1 0 -2 0zM358.66 436.86a1.0 1.0 0 1 0 2 0a1.0 1.0 0 1 0 -2 0zM354.63 431.7a1.0 1.0 0 1 0 2 0a1.0 1.0 0 1 0 -2 0zM360.78 433.53a1.0 1.0 0 1 0 2 0a1.0 1.0 0 1 0 -2 0zM359.81 440.39a1.0 1.0 0 1 0 2 0a1.0 1.0 0 1 0 -2 0zM358.24 431.35a1.0 1.0 0 1 0 2 0a1.0 1.0 0 1 0 -2 0zM364.08 440.23a1.0 1.0 0 1 0 2 0a1.0 1.0 0 1 0 -2 0zM358.45 434.99a1.0 1.0 0 1 0 2 0a1.0 1.0 0 1 0 -2 0zM354.69 433.35a1.0 1.0 0 1 0 2 0a1.0 1.0 0 1 0 -2 0zM358.46 433.03a1.0 1.0 0 1 0 2 0a1.0 1.0 0 1 0 -2 0zM358.19 441.26a1.0 1.0 0 1 0 2 0a1.0 1.0 0 1 0 -2 0zM359.24 436.61a1.0 1.0 0 1 0 2 0a1.0 1.0 0 1 0 -2 0zM361.26 442a1.0 1.0 0 1 0 2 0a1.0 1.0 0 1 0 -2 0zM360.77 434.52a1.0 1.0 0 1 0 2 0a1.0 1.0 0 1 0 -2 0zM351.83 436.23a1.0 1.0 0 1 0 2 0a1.0 1.0 0 1 0 -2 0zM358 434.77a1.0 1.0 0 1 0 2 0a1.0 1.0 0 1 0 -2 0zM359.4 435.2a1.0 1.0 0 1 0 2 0a1.0 1.0 0 1 0 -2 0zM355.77 442.66a1.0 1.0 0 1 0 2 0a1.0 1.0 0 1 0 -2 0zM352.58 436.82a1.0 1.0 0 1 0 2 0a1.0 1.0 0 1 0 -2 0zM361.13 445.51a1.0 1.0 0 1 0 2 0a1.0 1.0 0 1 0 -2 0zM358.64 438.81a1.0 1.0 0 1 0 2 0a1.0 1.0 0 1 0 -2 0zM354.8 434.67a1.0 1.0 0 1 0 2 0a1.0 1.0 0 1 0 -2 0zM350.9 429.98a1.0 1.0 0 1 0 2 0a1.0 1.0 0 1 0 -2 0zM357.71 435.72a1.0 1.0 0 1 0 2 0a1.0 1.0 0 1 0 -2 0zM356.23 440.22a1.0 1.0 0 1 0 2 0a1.0 1.0 0 1 0 -2 0zM352.59 433.86a1.0 1.0 0 1 0 2 0a1.0 1.0 0 1 0 -2 0zM356.5 435.64a1.0 1.0 0 1 0 2 0a1.0 1.0 0 1 0 -2 0zM357.98 444.48a1.0 1.0 0 1 0 2 0a1.0 1.0 0 1 0 -2 0zM354.3 439.88a1.0 1.0 0 1 0 2 0a1.0 1.0 0 1 0 -2 0zM362.41 438.25a1.0 1.0 0 1 0 2 0a1.0 1.0 0 1 0 -2 0zM355.79 429.9a1.0 1.0 0 1 0 2 0a1.0 1.0 0 1 0 -2 0zM354.98 443.21a1.0 1.0 0 1 0 2 0a1.0 1.0 0 1 0 -2 0zM350.69 434.14a1.0 1.0 0 1 0 2 0a1.0 1.0 0 1 0 -2 0zM355.53 442.9a1.0 1.0 0 1 0 2 0a1.0 1.0 0 1 0 -2 0zM358.84 431.13a1.0 1.0 0 1 0 2 0a1.0 1.0 0 1 0 -2 0zM356.1 436.08a1.0 1.0 0 1 0 2 0a1.0 1.0 0 1 0 -2 0zM358.21 432.47a1.0 1.0 0 1 0 2 0a1.0 1.0 0 1 0 -2 0zM356.87 433.76a1.0 1.0 0 1 0 2 0a1.0 1.0 0 1 0 -2 0zM359.4 438.26a1.0 1.0 0 1 0 2 0a1.0 1.0 0 1 0 -2 0zM358.55 434.16a1.0 1.0 0 1 0 2 0a1.0 1.0 0 1 0 -2 0zM360.4 435.3a1.0 1.0 0 1 0 2 0a1.0 1.0 0 1 0 -2 0zM355.08 432.88a1.0 1.0 0 1 0 2 0a1.0 1.0 0 1 0 -2 0zM356.74 434.32a1.0 1.0 0 1 0 2 0a1.0 1.0 0 1 0 -2 0zM351.46 438.35a1.0 1.0 0 1 0 2 0a1.0 1.0 0 1 0 -2 0zM359.86 442.9a1.0 1.0 0 1 0 2 0a1.0 1.0 0 1 0 -2 0zM356.51 438.64a1.0 1.0 0 1 0 2 0a1.0 1.0 0 1 0 -2 0zM358.46 436.69a1.0 1.0 0 1 0 2 0a1.0 1.0 0 1 0 -2 0zM363.7 437.01a1.0 1.0 0 1 0 2 0a1.0 1.0 0 1 0 -2 0zM359.69 429.99a1.0 1.0 0 1 0 2 0a1.0 1.0 0 1 0 -2 0zM359.66 436.52a1.0 1.0 0 1 0 2 0a1.0 1.0 0 1 0 -2 0zM354.47 431.86a1.0 1.0 0 1 0 2 0a1.0 1.0 0 1 0 -2 0zM350.84 427.87a1.0 1.0 0 1 0 2 0a1.0 1.0 0 1 0 -2 0zM358.36 425.45a1.0 1.0 0 1 0 2 0a1.0 1.0 0 1 0 -2 0zM361.36 442.28a1.0 1.0 0 1 0 2 0a1.0 1.0 0 1 0 -2 0zM355.33 428.61a1.0 1.0 0 1 0 2 0a1.0 1.0 0 1 0 -2 0zM353.21 428.27a1.0 1.0 0 1 0 2 0a1.0 1.0 0 1 0 -2 0zM355.33 443.96a1.0 1.0 0 1 0 2 0a1.0 1.0 0 1 0 -2 0zM354.09 437.3a1.0 1.0 0 1 0 2 0a1.0 1.0 0 1 0 -2 0zM361.9 434.52a1.0 1.0 0 1 0 2 0a1.0 1.0 0 1 0 -2 0zM356.93 438.55a1.0 1.0 0 1 0 2 0a1.0 1.0 0 1 0 -2 0zM355.65 440.25a1.0 1.0 0 1 0 2 0a1.0 1.0 0 1 0 -2 0zM364.86 439.94a1.0 1.0 0 1 0 2 0a1.0 1.0 0 1 0 -2 0zM355.1 437.2a1.0 1.0 0 1 0 2 0a1.0 1.0 0 1 0 -2 0zM358.91 433.68a1.0 1.0 0 1 0 2 0a1.0 1.0 0 1 0 -2 0zM357.34 436.31a1.0 1.0 0 1 0 2 0a1.0 1.0 0 1 0 -2 0zM359.46 441.93a1.0 1.0 0 1 0 2 0a1.0 1.0 0 1 0 -2 0zM356.21 429.86a1.0 1.0 0 1 0 2 0a1.0 1.0 0 1 0 -2 0zM352.47 441.02a1.0 1.0 0 1 0 2 0a1.0 1.0 0 1 0 -2 0zM356.43 433.72a1.0 1.0 0 1 0 2 0a1.0 1.0 0 1 0 -2 0zM365.91 445.42a1.0 1.0 0 1 0 2 0a1.0 1.0 0 1 0 -2 0zM365.19 439.6a1.0 1.0 0 1 0 2 0a1.0 1.0 0 1 0 -2 0zM355.53 432.72a1.0 1.0 0 1 0 2 0a1.0 1.0 0 1 0 -2 0zM359.94 439.16a1.0 1.0 0 1 0 2 0a1.0 1.0 0 1 0 -2 0zM359.12 446.46a1.0 1.0 0 1 0 2 0a1.0 1.0 0 1 0 -2 0zM362.27 434.12a1.0 1.0 0 1 0 2 0a1.0 1.0 0 1 0 -2 0zM359.25 439.51a1.0 1.0 0 1 0 2 0a1.0 1.0 0 1 0 -2 0zM355.36 444.6a1.0 1.0 0 1 0 2 0a1.0 1.0 0 1 0 -2 0zM360.82 444.26a1.0 1.0 0 1 0 2 0a1.0 1.0 0 1 0 -2 0zM356.05 430.41a1.0 1.0 0 1 0 2 0a1.0 1.0 0 1 0 -2 0zM360.29 436.76a1.0 1.0 0 1 0 2 0a1.0 1.0 0 1 0 -2 0zM355.89 434.76a1.0 1.0 0 1 0 2 0a1.0 1.0 0 1 0 -2 0zM358.49 437.2a1.0 1.0 0 1 0 2 0a1.0 1.0 0 1 0 -2 0zM357.12 437.78a1.0 1.0 0 1 0 2 0a1.0 1.0 0 1 0 -2 0zM367.37 446.49a1.0 1.0 0 1 0 2 0a1.0 1.0 0 1 0 -2 0zM356.11 443.86a1.0 1.0 0 1 0 2 0a1.0 1.0 0 1 0 -2 0zM356.21 428.79a1.0 1.0 0 1 0 2 0a1.0 1.0 0 1 0 -2 0zM353.23 425.03a1.0 1.0 0 1 0 2 0a1.0 1.0 0 1 0 -2 0zM361.6 433.67a1.0 1.0 0 1 0 2 0a1.0 1.0 0 1 0 -2 0zM353.08 431.18a1.0 1.0 0 1 0 2 0a1.0 1.0 0 1 0 -2 0zM357.11 430.54a1.0 1.0 0 1 0 2 0a1.0 1.0 0 1 0 -2 0zM355.89 435.1a1.0 1.0 0 1 0 2 0a1.0 1.0 0 1 0 -2 0zM359.92 433.36a1.0 1.0 0 1 0 2 0a1.0 1.0 0 1 0 -2 0zM359.62 438.27a1.0 1.0 0 1 0 2 0a1.0 1.0 0 1 0 -2 0zM359.59 434.9a1.0 1.0 0 1 0 2 0a1.0 1.0 0 1 0 -2 0zM353.92 438.07a1.0 1.0 0 1 0 2 0a1.0 1.0 0 1 0 -2 0zM359.7 434.38a1.0 1.0 0 1 0 2 0a1.0 1.0 0 1 0 -2 0zM355.18 437.62a1.0 1.0 0 1 0 2 0a1.0 1.0 0 1 0 -2 0zM364.45 441.42a1.0 1.0 0 1 0 2 0a1.0 1.0 0 1 0 -2 0zM366.12 442.11a1.0 1.0 0 1 0 2 0a1.0 1.0 0 1 0 -2 0zM358.91 438.83a1.0 1.0 0 1 0 2 0a1.0 1.0 0 1 0 -2 0zM361.37 431.8a1.0 1.0 0 1 0 2 0a1.0 1.0 0 1 0 -2 0zM358.27 441.78a1.0 1.0 0 1 0 2 0a1.0 1.0 0 1 0 -2 0zM352.6 434.28a1.0 1.0 0 1 0 2 0a1.0 1.0 0 1 0 -2 0zM360.25 444.8a1.0 1.0 0 1 0 2 0a1.0 1.0 0 1 0 -2 0zM362.97 438.93a1.0 1.0 0 1 0 2 0a1.0 1.0 0 1 0 -2 0zM364.63 435.3a1.0 1.0 0 1 0 2 0a1.0 1.0 0 1 0 -2 0zM353.15 439.22a1.0 1.0 0 1 0 2 0a1.0 1.0 0 1 0 -2 0zM360.01 432.58a1.0 1.0 0 1 0 2 0a1.0 1.0 0 1 0 -2 0zM361.39 441.85a1.0 1.0 0 1 0 2 0a1.0 1.0 0 1 0 -2 0zM360.19 435.64a1.0 1.0 0 1 0 2 0a1.0 1.0 0 1 0 -2 0zM353.55 426.66a1.0 1.0 0 1 0 2 0a1.0 1.0 0 1 0 -2 0zM357.06 435.11a1.0 1.0 0 1 0 2 0a1.0 1.0 0 1 0 -2 0zM356.09 432.86a1.0 1.0 0 1 0 2 0a1.0 1.0 0 1 0 -2 0zM360.85 433.07a1.0 1.0 0 1 0 2 0a1.0 1.0 0 1 0 -2 0zM355.32 443.21a1.0 1.0 0 1 0 2 0a1.0 1.0 0 1 0 -2 0zM355.68 432.3a1.0 1.0 0 1 0 2 0a1.0 1.0 0 1 0 -2 0zM361.31 430.48a1.0 1.0 0 1 0 2 0a1.0 1.0 0 1 0 -2 0zM363.16 433.75a1.0 1.0 0 1 0 2 0a1.0 1.0 0 1 0 -2 0zM355.02 429.17a1.0 1.0 0 1 0 2 0a1.0 1.0 0 1 0 -2 0zM354.6 431.26a1.0 1.0 0 1 0 2 0a1.0 1.0 0 1 0 -2 0zM360.87 437.6a1.0 1.0 0 1 0 2 0a1.0 1.0 0 1 0 -2 0zM362.35 442a1.0 1.0 0 1 0 2 0a1.0 1.0 0 1 0 -2 0zM353.66 433.95a1.0 1.0 0 1 0 2 0a1.0 1.0 0 1 0 -2 0zM355.76 433.22a1.0 1.0 0 1 0 2 0a1.0 1.0 0 1 0 -2 0zM358.19 437.96a1.0 1.0 0 1 0 2 0a1.0 1.0 0 1 0 -2 0zM359.22 427.95a1.0 1.0 0 1 0 2 0a1.0 1.0 0 1 0 -2 0zM357.26 433.91a1.0 1.0 0 1 0 2 0a1.0 1.0 0 1 0 -2 0zM363.92 438.55a1.0 1.0 0 1 0 2 0a1.0 1.0 0 1 0 -2 0zM357.66 436.11a1.0 1.0 0 1 0 2 0a1.0 1.0 0 1 0 -2 0zM360.36 432.73a1.0 1.0 0 1 0 2 0a1.0 1.0 0 1 0 -2 0zM357.34 435.38a1.0 1.0 0 1 0 2 0a1.0 1.0 0 1 0 -2 0zM357.71 435.04a1.0 1.0 0 1 0 2 0a1.0 1.0 0 1 0 -2 0zM355.97 435.5a1.0 1.0 0 1 0 2 0a1.0 1.0 0 1 0 -2 0zM353.38 440.57a1.0 1.0 0 1 0 2 0a1.0 1.0 0 1 0 -2 0zM357.74 428.41a1.0 1.0 0 1 0 2 0a1.0 1.0 0 1 0 -2 0zM356.83 439.65a1.0 1.0 0 1 0 2 0a1.0 1.0 0 1 0 -2 0zM357.11 435.14a1.0 1.0 0 1 0 2 0a1.0 1.0 0 1 0 -2 0zM350.17 437.94a1.0 1.0 0 1 0 2 0a1.0 1.0 0 1 0 -2 0zM357.97 427.89a1.0 1.0 0 1 0 2 0a1.0 1.0 0 1 0 -2 0zM356.27 441.51a1.0 1.0 0 1 0 2 0a1.0 1.0 0 1 0 -2 0zM359.05 430.51a1.0 1.0 0 1 0 2 0a1.0 1.0 0 1 0 -2 0zM355.91 436.15a1.0 1.0 0 1 0 2 0a1.0 1.0 0 1 0 -2 0zM364.65 441.01a1.0 1.0 0 1 0 2 0a1.0 1.0 0 1 0 -2 0zM360.21 436.14a1.0 1.0 0 1 0 2 0a1.0 1.0 0 1 0 -2 0zM357.92 431.96a1.0 1.0 0 1 0 2 0a1.0 1.0 0 1 0 -2 0zM353.39 427.93a1.0 1.0 0 1 0 2 0a1.0 1.0 0 1 0 -2 0zM355.81 440.38a1.0 1.0 0 1 0 2 0a1.0 1.0 0 1 0 -2 0zM357.65 441.16a1.0 1.0 0 1 0 2 0a1.0 1.0 0 1 0 -2 0zM360.34 438.23a1.0 1.0 0 1 0 2 0a1.0 1.0 0 1 0 -2 0zM356.11 444.35a1.0 1.0 0 1 0 2 0a1.0 1.0 0 1 0 -2 0zM361.55 443.54a1.0 1.0 0 1 0 2 0a1.0 1.0 0 1 0 -2 0zM366.07 447.22a1.0 1.0 0 1 0 2 0a1.0 1.0 0 1 0 -2 0zM358.53 438.21a1.0 1.0 0 1 0 2 0a1.0 1.0 0 1 0 -2 0zM359.63 446.74a1.0 1.0 0 1 0 2 0a1.0 1.0 0 1 0 -2 0zM343.35 408.31a1.0 1.0 0 1 0 2 0a1.0 1.0 0 1 0 -2 0zM346.29 421.12a1.0 1.0 0 1 0 2 0a1.0 1.0 0 1 0 -2 0zM345.73 426.15a1.0 1.0 0 1 0 2 0a1.0 1.0 0 1 0 -2 0zM352.31 425.1a1.0 1.0 0 1 0 2 0a1.0 1.0 0 1 0 -2 0zM349.39 434.52a1.0 1.0 0 1 0 2 0a1.0 1.0 0 1 0 -2 0zM360.06 440.98a1.0 1.0 0 1 0 2 0a1.0 1.0 0 1 0 -2 0zM346.95 428.81a1.0 1.0 0 1 0 2 0a1.0 1.0 0 1 0 -2 0zM342.62 407.75a1.0 1.0 0 1 0 2 0a1.0 1.0 0 1 0 -2 0zM358.47 434.82a1.0 1.0 0 1 0 2 0a1.0 1.0 0 1 0 -2 0zM352.76 434.04a1.0 1.0 0 1 0 2 0a1.0 1.0 0 1 0 -2 0zM358.25 431.17a1.0 1.0 0 1 0 2 0a1.0 1.0 0 1 0 -2 0zM350.57 427.7a1.0 1.0 0 1 0 2 0a1.0 1.0 0 1 0 -2 0zM353.75 427.45a1.0 1.0 0 1 0 2 0a1.0 1.0 0 1 0 -2 0zM341.6 432.53a1.0 1.0 0 1 0 2 0a1.0 1.0 0 1 0 -2 0zM344.9 416.67a1.0 1.0 0 1 0 2 0a1.0 1.0 0 1 0 -2 0zM352.37 425.14a1.0 1.0 0 1 0 2 0a1.0 1.0 0 1 0 -2 0zM352 439.37a1.0 1.0 0 1 0 2 0a1.0 1.0 0 1 0 -2 0zM356.96 425.91a1.0 1.0 0 1 0 2 0a1.0 1.0 0 1 0 -2 0zM350.88 424.04a1.0 1.0 0 1 0 2 0a1.0 1.0 0 1 0 -2 0zM356.06 422.74a1.0 1.0 0 1 0 2 0a1.0 1.0 0 1 0 -2 0zM343.79 409.56a1.0 1.0 0 1 0 2 0a1.0 1.0 0 1 0 -2 0zM351.91 427.41a1.0 1.0 0 1 0 2 0a1.0 1.0 0 1 0 -2 0zM353.07 430.93a1.0 1.0 0 1 0 2 0a1.0 1.0 0 1 0 -2 0zM342.43 416.31a1.0 1.0 0 1 0 2 0a1.0 1.0 0 1 0 -2 0zM343.12 426.23a1.0 1.0 0 1 0 2 0a1.0 1.0 0 1 0 -2 0zM353.89 418.05a1.0 1.0 0 1 0 2 0a1.0 1.0 0 1 0 -2 0zM352.08 425.95a1.0 1.0 0 1 0 2 0a1.0 1.0 0 1 0 -2 0zM349.78 427.78a1.0 1.0 0 1 0 2 0a1.0 1.0 0 1 0 -2 0zM345.76 419.01a1.0 1.0 0 1 0 2 0a1.0 1.0 0 1 0 -2 0zM345.42 416.71a1.0 1.0 0 1 0 2 0a1.0 1.0 0 1 0 -2 0zM343.35 425.97a1.0 1.0 0 1 0 2 0a1.0 1.0 0 1 0 -2 0zM352.36 424.05a1.0 1.0 0 1 0 2 0a1.0 1.0 0 1 0 -2 0z" fill="#000"/>
<g class="s" font-size="4.7" fill="#e8202a">
<circle cx="388.2" cy="373.5" r="1.1" fill="#dc1420"/>
<text x="388.6" y="371" text-anchor="middle">PRO 195 (A)</text>
<circle cx="378.2" cy="385.2" r="1.1" fill="#dc1420"/>
<text x="378" y="382.6" text-anchor="middle">PRO 277 (A)</text>
<circle cx="373.2" cy="395.2" r="1.1" fill="#dc1420"/>
<text x="373.5" y="392.4" text-anchor="middle">PRO 287 (A)</text>
<circle cx="304.7" cy="479.2" r="1.1" fill="#dc1420"/>
<text x="304.5" y="476.8" text-anchor="middle">SER 245 (A)</text>
<circle cx="362" cy="473" r="1.1" fill="#dc1420"/>
<text x="363" y="470.3" text-anchor="middle">TRP 26 (A)</text>
<circle cx="355.5" cy="476.6" r="1.1" fill="#dc1420"/>
<text x="352.5" y="474.8" text-anchor="middle">ALA 8</text>
<circle cx="369" cy="476.6" r="1.1" fill="#dc1420"/>
<text x="369.5" y="474.8" text-anchor="middle">ARG 353 (A)</text>
<circle cx="375" cy="492.5" r="1.1" fill="#dc1420"/>
<text x="373.6" y="490.4" text-anchor="middle">PRO 205 (A)</text>
<circle cx="367.7" cy="502.1" r="1.1" fill="#dc1420"/>
<text x="366.4" y="499.6" text-anchor="middle">ARG 357 (A)</text>
<circle cx="410.8" cy="352.2" r="1.1" fill="#dc1420"/>
<text x="411.4" y="349.7" text-anchor="middle">ASP 47 (A)</text>
<circle cx="398.3" cy="368.9" r="1.1" fill="#dc1420"/>
<text x="398" y="366.4" text-anchor="middle">PRO 22 (A)</text>
<circle cx="464" cy="367.4" r="1.1" fill="#dc1420"/>
<text x="464" y="365.2" text-anchor="middle">GLN 346 (A)</text>
<circle cx="439.6" cy="386.6" r="1.1" fill="#dc1420"/>
<text x="439.5" y="384.1" text-anchor="middle">SER 363 (A)</text>
<circle cx="416.7" cy="408.4" r="1.1" fill="#dc1420"/>
<text x="416.6" y="405.9" text-anchor="middle">SER 366 (A)</text>
<circle cx="457.7" cy="417" r="1.1" fill="#dc1420"/>
<text x="457.7" y="414.6" text-anchor="middle">SER 45 (A)</text>
<circle cx="418" cy="424" r="1.1" fill="#dc1420"/>
<text x="415" y="421.5" text-anchor="middle">GLN 352 (A)</text>
<circle cx="416.1" cy="427.1" r="1.1" fill="#dc1420"/>
<text x="416" y="424.7" text-anchor="middle">SER 289 (A)</text>
<circle cx="407.3" cy="440" r="1.1" fill="#dc1420"/>
<text x="406" y="437.9" text-anchor="middle">ALA 129 (A)</text>
<circle cx="422.3" cy="440" r="1.1" fill="#dc1420"/>
<text x="426.5" y="435.8" text-anchor="middle">ARG 51 (A)</text>
<circle cx="427.5" cy="439" r="1.1" fill="#dc1420"/>
<text x="428" y="438" text-anchor="middle">ASN 297 (A)</text>
<circle cx="427.9" cy="450.6" r="1.1" fill="#dc1420"/>
<text x="427.5" y="448.4" text-anchor="middle">CYS 354 (A)</text>
<circle cx="419.8" cy="458.4" r="1.1" fill="#dc1420"/>
<text x="420.5" y="455.9" text-anchor="middle">LEU 356 (A)</text>
<circle cx="423.2" cy="473.8" r="1.1" fill="#dc1420"/>
<text x="423.3" y="471" text-anchor="middle">LEU 32 (A)</text>
<circle cx="425" cy="486.7" r="1.1" fill="#dc1420"/>
<text x="424.5" y="483.7" text-anchor="middle">GLU 6 (A)</text>
<circle cx="404.4" cy="493.6" r="1.1" fill="#dc1420"/>
<text x="404.5" y="490.6" text-anchor="middle">PRO 78 (A)</text>
</g>
</g>
</svg></body></html>
